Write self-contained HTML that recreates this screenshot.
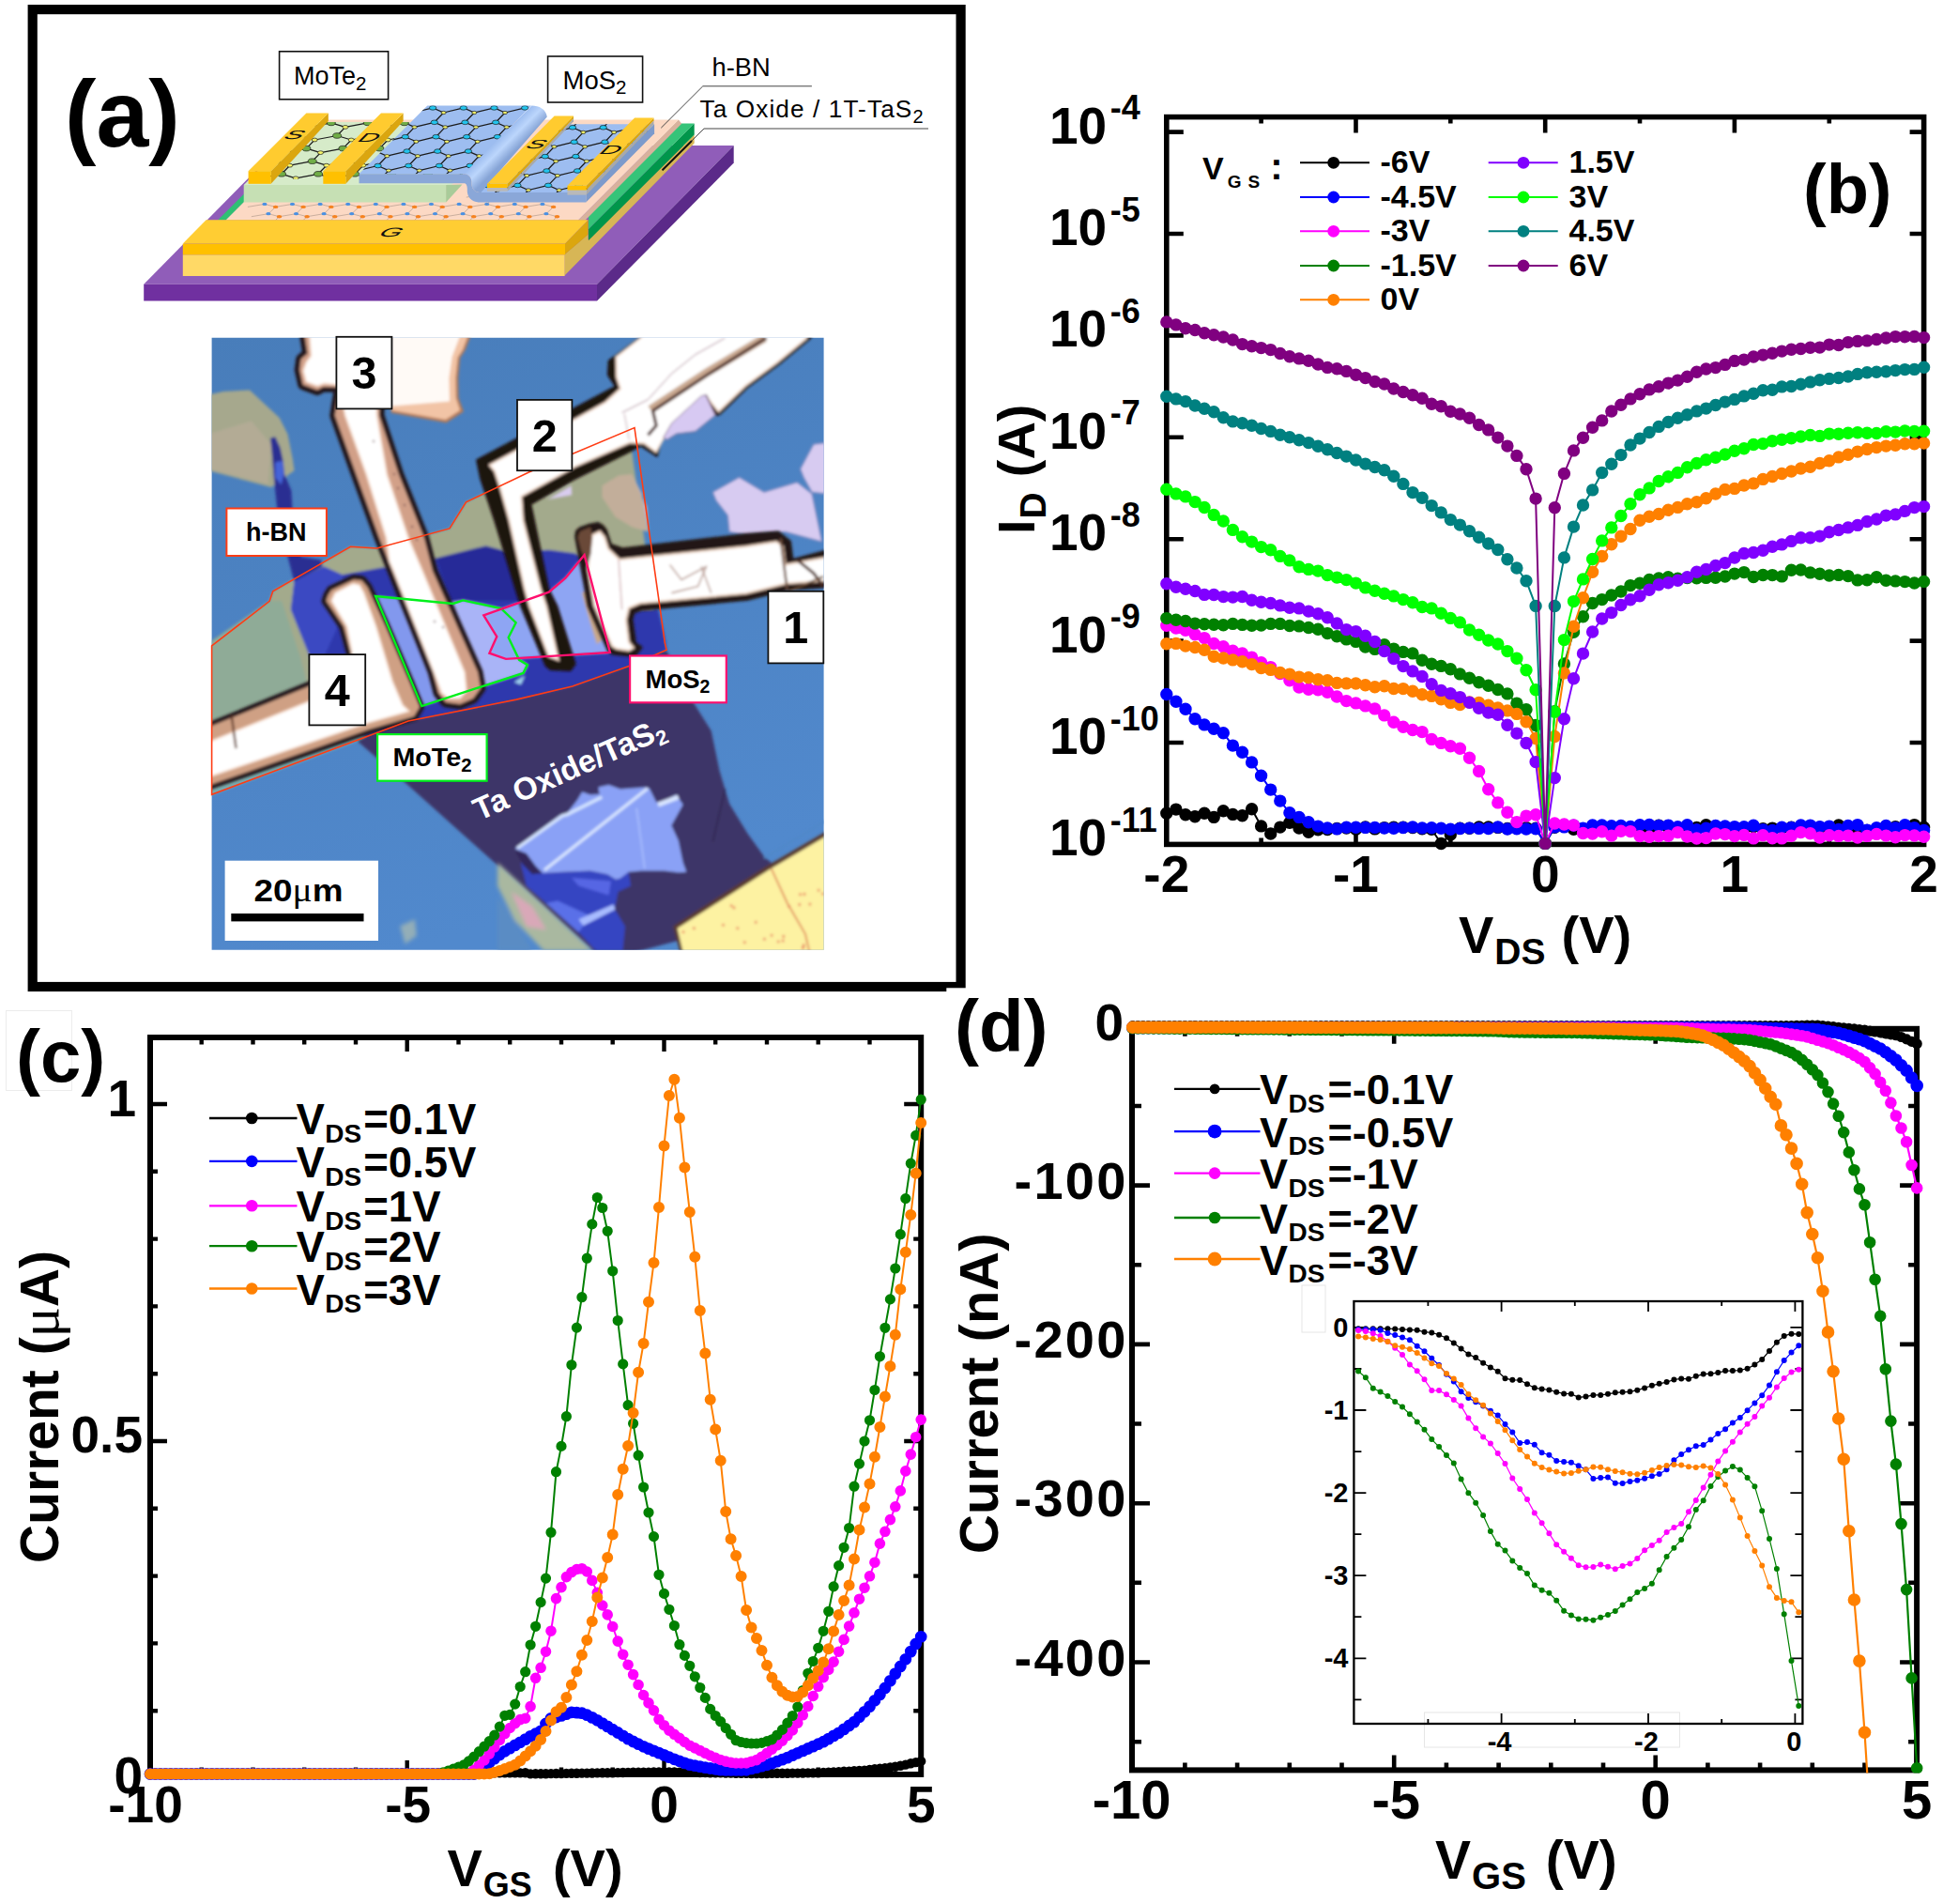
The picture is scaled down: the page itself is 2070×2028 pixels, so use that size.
<!DOCTYPE html>
<html lang="en"><head><meta charset="utf-8"><title>Figure</title>
<style>
html,body{margin:0;padding:0;background:#fff;}
svg{display:block;font-family:"Liberation Sans", Arial, Helvetica, sans-serif;}
</style></head><body>
<svg width="2070" height="2028" viewBox="0 0 2070 2028">
<rect width="2070" height="2028" fill="#fff"/>
<g id="panel-a">
<rect x="34.7" y="10.1" width="988.9" height="1040.9" fill="none" stroke="#000" stroke-width="10.2"/><rect x="1008.3" y="1052.3" width="22" height="5" fill="#fff"/>
<text x="69" y="156" font-size="100.5" font-weight="bold" text-anchor="start" fill="#000" >(a)</text>
<g id="schematic">
<defs><linearGradient id="bendg" gradientUnits="userSpaceOnUse" x1="531" y1="148" x2="546" y2="163"><stop offset="0" stop-color="#9dbdf0"/><stop offset="0.45" stop-color="#bcd6fc"/><stop offset="1" stop-color="#86a4d6"/></linearGradient></defs>
<polygon points="153.2,302.7 298.9,155 781.7,155 636,302.7" fill="#905db9"/>
<polygon points="153.2,302.7 636,302.7 636,320.6 153.2,320.6" fill="#7030a0"/>
<polygon points="636,302.7 781.7,155 781.7,173.6 636,320.6" fill="#5b2a89"/>
<polygon points="601.5,271 626.6,249.6 626.6,255.6 739.7,143.4 739.7,152.6 601.5,293.6" fill="#d7b656"/>
<polygon points="232,234.4 241,234.4 262,213.5 262,204.5" fill="#2fbf74"/>
<polygon points="725.5,131.6 739.7,131.6 627,244.3 627,230" fill="#35c479"/>
<polygon points="739.7,131.6 739.7,143.4 627,256.1 627,244.3" fill="#00964b"/>
<polygon points="722.9,127.5 726.2,131.8 623.6,234.4 616,234.4" fill="#d8b29d"/>
<polygon points="240.5,234.4 347.4,127.5 722.9,127.5 616,234.4" fill="#fcd9c4"/>
<clipPath id="pinkclip"><polygon points="240.5,234.4 347.4,127.5 722.9,127.5 616,234.4"/></clipPath>
<g clip-path="url(#pinkclip)">
<path d="M281.9 217.4L263.9 220.4M281.9 217.4L293.6 220.4M293.6 220.4L285.9 227.7M311.5 217.4L293.6 220.4M311.5 217.4L323.1 220.4M323.1 220.4L315.5 227.7M341.1 217.4L323.1 220.4M341.1 217.4L352.8 220.4M352.8 220.4L345.1 227.7M370.7 217.4L352.8 220.4M370.7 217.4L382.4 220.4M382.4 220.4L374.7 227.7M400.3 217.4L382.4 220.4M400.3 217.4L412 220.4M412 220.4L404.3 227.7M429.9 217.4L411.9 220.4M429.9 217.4L441.6 220.4M441.6 220.4L433.9 227.7M459.5 217.4L441.6 220.4M459.5 217.4L471.2 220.4M471.2 220.4L463.5 227.7M489.1 217.4L471.1 220.4M489.1 217.4L500.8 220.4M500.8 220.4L493.1 227.7M518.7 217.4L500.8 220.4M518.7 217.4L530.4 220.4M530.4 220.4L522.7 227.7M548.3 217.4L530.4 220.4M548.3 217.4L560 220.4M560 220.4L552.3 227.7M577.9 217.4L559.9 220.4M577.9 217.4L589.6 220.4M589.6 220.4L581.9 227.7M285.9 227.7L267.9 230.7M285.9 227.7L297.5 230.7M297.5 230.7L289.9 238M315.5 227.7L297.5 230.7M315.5 227.7L327.1 230.7M327.1 230.7L319.5 238M345.1 227.7L327.1 230.7M345.1 227.7L356.7 230.7M356.7 230.7L349.1 238M374.7 227.7L356.7 230.7M374.7 227.7L386.3 230.7M386.3 230.7L378.7 238M404.3 227.7L386.3 230.7M404.3 227.7L415.9 230.7M415.9 230.7L408.3 238M433.9 227.7L415.9 230.7M433.9 227.7L445.5 230.7M445.5 230.7L437.9 238M463.5 227.7L445.5 230.7M463.5 227.7L475.1 230.7M475.1 230.7L467.5 238M493.1 227.7L475.1 230.7M493.1 227.7L504.7 230.7M504.7 230.7L497.1 238M522.7 227.7L504.7 230.7M522.7 227.7L534.3 230.7M534.3 230.7L526.7 238M552.3 227.7L534.3 230.7M552.3 227.7L563.9 230.7M563.9 230.7L556.3 238M581.9 227.7L563.9 230.7M581.9 227.7L593.5 230.7M593.5 230.7L585.9 238" stroke="#a08c7e" stroke-width="0.55" fill="none"/><ellipse cx="293.6" cy="220.4" rx="2.8" ry="1.7" fill="#f5821f"/><ellipse cx="323.1" cy="220.4" rx="2.8" ry="1.7" fill="#f5821f"/><ellipse cx="352.8" cy="220.4" rx="2.8" ry="1.7" fill="#f5821f"/><ellipse cx="382.4" cy="220.4" rx="2.8" ry="1.7" fill="#f5821f"/><ellipse cx="412" cy="220.4" rx="2.8" ry="1.7" fill="#f5821f"/><ellipse cx="441.6" cy="220.4" rx="2.8" ry="1.7" fill="#f5821f"/><ellipse cx="471.2" cy="220.4" rx="2.8" ry="1.7" fill="#f5821f"/><ellipse cx="500.8" cy="220.4" rx="2.8" ry="1.7" fill="#f5821f"/><ellipse cx="530.4" cy="220.4" rx="2.8" ry="1.7" fill="#f5821f"/><ellipse cx="560" cy="220.4" rx="2.8" ry="1.7" fill="#f5821f"/><ellipse cx="589.6" cy="220.4" rx="2.8" ry="1.7" fill="#f5821f"/><ellipse cx="297.5" cy="230.7" rx="2.8" ry="1.7" fill="#f5821f"/><ellipse cx="327.1" cy="230.7" rx="2.8" ry="1.7" fill="#f5821f"/><ellipse cx="356.7" cy="230.7" rx="2.8" ry="1.7" fill="#f5821f"/><ellipse cx="386.3" cy="230.7" rx="2.8" ry="1.7" fill="#f5821f"/><ellipse cx="415.9" cy="230.7" rx="2.8" ry="1.7" fill="#f5821f"/><ellipse cx="445.5" cy="230.7" rx="2.8" ry="1.7" fill="#f5821f"/><ellipse cx="475.1" cy="230.7" rx="2.8" ry="1.7" fill="#f5821f"/><ellipse cx="504.7" cy="230.7" rx="2.8" ry="1.7" fill="#f5821f"/><ellipse cx="534.3" cy="230.7" rx="2.8" ry="1.7" fill="#f5821f"/><ellipse cx="563.9" cy="230.7" rx="2.8" ry="1.7" fill="#f5821f"/><ellipse cx="593.5" cy="230.7" rx="2.8" ry="1.7" fill="#f5821f"/><ellipse cx="281.9" cy="217.4" rx="2.6" ry="1.6" fill="#4a90e2"/><ellipse cx="311.5" cy="217.4" rx="2.6" ry="1.6" fill="#4a90e2"/><ellipse cx="341.1" cy="217.4" rx="2.6" ry="1.6" fill="#4a90e2"/><ellipse cx="370.7" cy="217.4" rx="2.6" ry="1.6" fill="#4a90e2"/><ellipse cx="400.3" cy="217.4" rx="2.6" ry="1.6" fill="#4a90e2"/><ellipse cx="429.9" cy="217.4" rx="2.6" ry="1.6" fill="#4a90e2"/><ellipse cx="459.5" cy="217.4" rx="2.6" ry="1.6" fill="#4a90e2"/><ellipse cx="489.1" cy="217.4" rx="2.6" ry="1.6" fill="#4a90e2"/><ellipse cx="518.7" cy="217.4" rx="2.6" ry="1.6" fill="#4a90e2"/><ellipse cx="548.3" cy="217.4" rx="2.6" ry="1.6" fill="#4a90e2"/><ellipse cx="577.9" cy="217.4" rx="2.6" ry="1.6" fill="#4a90e2"/><ellipse cx="285.9" cy="227.7" rx="2.6" ry="1.6" fill="#4a90e2"/><ellipse cx="315.5" cy="227.7" rx="2.6" ry="1.6" fill="#4a90e2"/><ellipse cx="345.1" cy="227.7" rx="2.6" ry="1.6" fill="#4a90e2"/><ellipse cx="374.7" cy="227.7" rx="2.6" ry="1.6" fill="#4a90e2"/><ellipse cx="404.3" cy="227.7" rx="2.6" ry="1.6" fill="#4a90e2"/><ellipse cx="433.9" cy="227.7" rx="2.6" ry="1.6" fill="#4a90e2"/><ellipse cx="463.5" cy="227.7" rx="2.6" ry="1.6" fill="#4a90e2"/><ellipse cx="493.1" cy="227.7" rx="2.6" ry="1.6" fill="#4a90e2"/><ellipse cx="522.7" cy="227.7" rx="2.6" ry="1.6" fill="#4a90e2"/><ellipse cx="552.3" cy="227.7" rx="2.6" ry="1.6" fill="#4a90e2"/><ellipse cx="581.9" cy="227.7" rx="2.6" ry="1.6" fill="#4a90e2"/>
<path d="M514.7 207.1L496.8 210.1M514.7 207.1L526.4 210.1M526.4 210.1L518.7 217.4" stroke="#a08c7e" stroke-width="0.55" fill="none"/><ellipse cx="526.4" cy="210.1" rx="2.8" ry="1.7" fill="#f5821f"/><ellipse cx="514.7" cy="207.1" rx="2.6" ry="1.6" fill="#4a90e2"/>
</g>
<polygon points="259.7,197 326.6,130.1 548,130.1 481,197" fill="#d6ebc9"/>
<clipPath id="slabclip"><polygon points="266,190.7 326.6,130.1 548,130.1 487.4,190.7"/></clipPath>
<g clip-path="url(#slabclip)">
<path d="M235.8 130.9L211.9 135.4M235.8 130.9L250.9 135.4M250.9 135.4L242.1 144.5M274.8 130.9L250.9 135.4M274.8 130.9L289.9 135.4M289.9 135.4L281.1 144.5M313.8 130.9L289.9 135.4M313.8 130.9L328.9 135.4M328.9 135.4L320.1 144.5M352.8 130.9L328.9 135.4M352.8 130.9L367.9 135.4M367.9 135.4L359.1 144.5M391.8 130.9L367.9 135.4M391.8 130.9L406.9 135.4M406.9 135.4L398.1 144.5M430.8 130.9L406.9 135.4M430.8 130.9L445.9 135.4M445.9 135.4L437.1 144.5M469.8 130.9L445.9 135.4M469.8 130.9L484.9 135.4M484.9 135.4L476.1 144.5M508.8 130.9L484.9 135.4M508.8 130.9L523.9 135.4M523.9 135.4L515.1 144.5M547.8 130.9L523.9 135.4M547.8 130.9L562.9 135.4M562.9 135.4L554.1 144.5M242.1 144.5L218.2 149M242.1 144.5L257.2 149M257.2 149L248.4 158.1M281.1 144.5L257.2 149M281.1 144.5L296.2 149M296.2 149L287.4 158.1M320.1 144.5L296.2 149M320.1 144.5L335.2 149M335.2 149L326.4 158.1M359.1 144.5L335.2 149M359.1 144.5L374.2 149M374.2 149L365.4 158.1M398.1 144.5L374.2 149M398.1 144.5L413.2 149M413.2 149L404.4 158.1M437.1 144.5L413.2 149M437.1 144.5L452.2 149M452.2 149L443.4 158.1M476.1 144.5L452.2 149M476.1 144.5L491.2 149M491.2 149L482.4 158.1M515.1 144.5L491.2 149M515.1 144.5L530.2 149M530.2 149L521.4 158.1M554.1 144.5L530.2 149M554.1 144.5L569.2 149M569.2 149L560.4 158.1M209.4 158.1L185.5 162.6M209.4 158.1L224.5 162.6M224.5 162.6L215.7 171.7M248.4 158.1L224.5 162.6M248.4 158.1L263.5 162.6M263.5 162.6L254.7 171.7M287.4 158.1L263.5 162.6M287.4 158.1L302.5 162.6M302.5 162.6L293.7 171.7M326.4 158.1L302.5 162.6M326.4 158.1L341.5 162.6M341.5 162.6L332.7 171.7M365.4 158.1L341.5 162.6M365.4 158.1L380.5 162.6M380.5 162.6L371.7 171.7M404.4 158.1L380.5 162.6M404.4 158.1L419.5 162.6M419.5 162.6L410.7 171.7M443.4 158.1L419.5 162.6M443.4 158.1L458.5 162.6M458.5 162.6L449.7 171.7M482.4 158.1L458.5 162.6M482.4 158.1L497.5 162.6M497.5 162.6L488.7 171.7M521.4 158.1L497.5 162.6M521.4 158.1L536.5 162.6M536.5 162.6L527.7 171.7M215.7 171.7L191.8 176.2M215.7 171.7L230.8 176.2M230.8 176.2L222 185.3M254.7 171.7L230.8 176.2M254.7 171.7L269.8 176.2M269.8 176.2L261 185.3M293.7 171.7L269.8 176.2M293.7 171.7L308.8 176.2M308.8 176.2L300 185.3M332.7 171.7L308.8 176.2M332.7 171.7L347.8 176.2M347.8 176.2L339 185.3M371.7 171.7L347.8 176.2M371.7 171.7L386.8 176.2M386.8 176.2L378 185.3M410.7 171.7L386.8 176.2M410.7 171.7L425.8 176.2M425.8 176.2L417 185.3M449.7 171.7L425.8 176.2M449.7 171.7L464.8 176.2M464.8 176.2L456 185.3M488.7 171.7L464.8 176.2M488.7 171.7L503.8 176.2M503.8 176.2L495 185.3M527.7 171.7L503.8 176.2M527.7 171.7L542.8 176.2M542.8 176.2L534 185.3M183 185.3L159.1 189.8M183 185.3L198.1 189.8M198.1 189.8L189.3 198.9M222 185.3L198.1 189.8M222 185.3L237.1 189.8M237.1 189.8L228.3 198.9M261 185.3L237.1 189.8M261 185.3L276.1 189.8M276.1 189.8L267.3 198.9M300 185.3L276.1 189.8M300 185.3L315.1 189.8M315.1 189.8L306.3 198.9M339 185.3L315.1 189.8M339 185.3L354.1 189.8M354.1 189.8L345.3 198.9M378 185.3L354.1 189.8M378 185.3L393.1 189.8M393.1 189.8L384.3 198.9M417 185.3L393.1 189.8M417 185.3L432.1 189.8M432.1 189.8L423.3 198.9M456 185.3L432.1 189.8M456 185.3L471.1 189.8M471.1 189.8L462.3 198.9M495 185.3L471.1 189.8M495 185.3L510.1 189.8M510.1 189.8L501.3 198.9" stroke="#1c1c1c" stroke-width="1.25" fill="none"/><ellipse cx="250.9" cy="135.4" rx="3.0" ry="1.9" fill="#f4f46a" stroke="#1c1c1c" stroke-width="0.7"/><ellipse cx="289.9" cy="135.4" rx="3.0" ry="1.9" fill="#f4f46a" stroke="#1c1c1c" stroke-width="0.7"/><ellipse cx="328.9" cy="135.4" rx="3.0" ry="1.9" fill="#f4f46a" stroke="#1c1c1c" stroke-width="0.7"/><ellipse cx="367.9" cy="135.4" rx="3.0" ry="1.9" fill="#f4f46a" stroke="#1c1c1c" stroke-width="0.7"/><ellipse cx="406.9" cy="135.4" rx="3.0" ry="1.9" fill="#f4f46a" stroke="#1c1c1c" stroke-width="0.7"/><ellipse cx="445.9" cy="135.4" rx="3.0" ry="1.9" fill="#f4f46a" stroke="#1c1c1c" stroke-width="0.7"/><ellipse cx="484.9" cy="135.4" rx="3.0" ry="1.9" fill="#f4f46a" stroke="#1c1c1c" stroke-width="0.7"/><ellipse cx="523.9" cy="135.4" rx="3.0" ry="1.9" fill="#f4f46a" stroke="#1c1c1c" stroke-width="0.7"/><ellipse cx="562.9" cy="135.4" rx="3.0" ry="1.9" fill="#f4f46a" stroke="#1c1c1c" stroke-width="0.7"/><ellipse cx="257.2" cy="149" rx="3.0" ry="1.9" fill="#f4f46a" stroke="#1c1c1c" stroke-width="0.7"/><ellipse cx="296.2" cy="149" rx="3.0" ry="1.9" fill="#f4f46a" stroke="#1c1c1c" stroke-width="0.7"/><ellipse cx="335.2" cy="149" rx="3.0" ry="1.9" fill="#f4f46a" stroke="#1c1c1c" stroke-width="0.7"/><ellipse cx="374.2" cy="149" rx="3.0" ry="1.9" fill="#f4f46a" stroke="#1c1c1c" stroke-width="0.7"/><ellipse cx="413.2" cy="149" rx="3.0" ry="1.9" fill="#f4f46a" stroke="#1c1c1c" stroke-width="0.7"/><ellipse cx="452.2" cy="149" rx="3.0" ry="1.9" fill="#f4f46a" stroke="#1c1c1c" stroke-width="0.7"/><ellipse cx="491.2" cy="149" rx="3.0" ry="1.9" fill="#f4f46a" stroke="#1c1c1c" stroke-width="0.7"/><ellipse cx="530.2" cy="149" rx="3.0" ry="1.9" fill="#f4f46a" stroke="#1c1c1c" stroke-width="0.7"/><ellipse cx="569.2" cy="149" rx="3.0" ry="1.9" fill="#f4f46a" stroke="#1c1c1c" stroke-width="0.7"/><ellipse cx="224.5" cy="162.6" rx="3.0" ry="1.9" fill="#f4f46a" stroke="#1c1c1c" stroke-width="0.7"/><ellipse cx="263.5" cy="162.6" rx="3.0" ry="1.9" fill="#f4f46a" stroke="#1c1c1c" stroke-width="0.7"/><ellipse cx="302.5" cy="162.6" rx="3.0" ry="1.9" fill="#f4f46a" stroke="#1c1c1c" stroke-width="0.7"/><ellipse cx="341.5" cy="162.6" rx="3.0" ry="1.9" fill="#f4f46a" stroke="#1c1c1c" stroke-width="0.7"/><ellipse cx="380.5" cy="162.6" rx="3.0" ry="1.9" fill="#f4f46a" stroke="#1c1c1c" stroke-width="0.7"/><ellipse cx="419.5" cy="162.6" rx="3.0" ry="1.9" fill="#f4f46a" stroke="#1c1c1c" stroke-width="0.7"/><ellipse cx="458.5" cy="162.6" rx="3.0" ry="1.9" fill="#f4f46a" stroke="#1c1c1c" stroke-width="0.7"/><ellipse cx="497.5" cy="162.6" rx="3.0" ry="1.9" fill="#f4f46a" stroke="#1c1c1c" stroke-width="0.7"/><ellipse cx="536.5" cy="162.6" rx="3.0" ry="1.9" fill="#f4f46a" stroke="#1c1c1c" stroke-width="0.7"/><ellipse cx="230.8" cy="176.2" rx="3.0" ry="1.9" fill="#f4f46a" stroke="#1c1c1c" stroke-width="0.7"/><ellipse cx="269.8" cy="176.2" rx="3.0" ry="1.9" fill="#f4f46a" stroke="#1c1c1c" stroke-width="0.7"/><ellipse cx="308.8" cy="176.2" rx="3.0" ry="1.9" fill="#f4f46a" stroke="#1c1c1c" stroke-width="0.7"/><ellipse cx="347.8" cy="176.2" rx="3.0" ry="1.9" fill="#f4f46a" stroke="#1c1c1c" stroke-width="0.7"/><ellipse cx="386.8" cy="176.2" rx="3.0" ry="1.9" fill="#f4f46a" stroke="#1c1c1c" stroke-width="0.7"/><ellipse cx="425.8" cy="176.2" rx="3.0" ry="1.9" fill="#f4f46a" stroke="#1c1c1c" stroke-width="0.7"/><ellipse cx="464.8" cy="176.2" rx="3.0" ry="1.9" fill="#f4f46a" stroke="#1c1c1c" stroke-width="0.7"/><ellipse cx="503.8" cy="176.2" rx="3.0" ry="1.9" fill="#f4f46a" stroke="#1c1c1c" stroke-width="0.7"/><ellipse cx="542.8" cy="176.2" rx="3.0" ry="1.9" fill="#f4f46a" stroke="#1c1c1c" stroke-width="0.7"/><ellipse cx="198.1" cy="189.8" rx="3.0" ry="1.9" fill="#f4f46a" stroke="#1c1c1c" stroke-width="0.7"/><ellipse cx="237.1" cy="189.8" rx="3.0" ry="1.9" fill="#f4f46a" stroke="#1c1c1c" stroke-width="0.7"/><ellipse cx="276.1" cy="189.8" rx="3.0" ry="1.9" fill="#f4f46a" stroke="#1c1c1c" stroke-width="0.7"/><ellipse cx="315.1" cy="189.8" rx="3.0" ry="1.9" fill="#f4f46a" stroke="#1c1c1c" stroke-width="0.7"/><ellipse cx="354.1" cy="189.8" rx="3.0" ry="1.9" fill="#f4f46a" stroke="#1c1c1c" stroke-width="0.7"/><ellipse cx="393.1" cy="189.8" rx="3.0" ry="1.9" fill="#f4f46a" stroke="#1c1c1c" stroke-width="0.7"/><ellipse cx="432.1" cy="189.8" rx="3.0" ry="1.9" fill="#f4f46a" stroke="#1c1c1c" stroke-width="0.7"/><ellipse cx="471.1" cy="189.8" rx="3.0" ry="1.9" fill="#f4f46a" stroke="#1c1c1c" stroke-width="0.7"/><ellipse cx="510.1" cy="189.8" rx="3.0" ry="1.9" fill="#f4f46a" stroke="#1c1c1c" stroke-width="0.7"/><ellipse cx="235.8" cy="130.9" rx="4.5" ry="2.8" fill="#70ad47" stroke="#1c1c1c" stroke-width="0.7"/><ellipse cx="274.8" cy="130.9" rx="4.5" ry="2.8" fill="#70ad47" stroke="#1c1c1c" stroke-width="0.7"/><ellipse cx="313.8" cy="130.9" rx="4.5" ry="2.8" fill="#70ad47" stroke="#1c1c1c" stroke-width="0.7"/><ellipse cx="352.8" cy="130.9" rx="4.5" ry="2.8" fill="#70ad47" stroke="#1c1c1c" stroke-width="0.7"/><ellipse cx="391.8" cy="130.9" rx="4.5" ry="2.8" fill="#70ad47" stroke="#1c1c1c" stroke-width="0.7"/><ellipse cx="430.8" cy="130.9" rx="4.5" ry="2.8" fill="#70ad47" stroke="#1c1c1c" stroke-width="0.7"/><ellipse cx="469.8" cy="130.9" rx="4.5" ry="2.8" fill="#70ad47" stroke="#1c1c1c" stroke-width="0.7"/><ellipse cx="508.8" cy="130.9" rx="4.5" ry="2.8" fill="#70ad47" stroke="#1c1c1c" stroke-width="0.7"/><ellipse cx="547.8" cy="130.9" rx="4.5" ry="2.8" fill="#70ad47" stroke="#1c1c1c" stroke-width="0.7"/><ellipse cx="242.1" cy="144.5" rx="4.5" ry="2.8" fill="#70ad47" stroke="#1c1c1c" stroke-width="0.7"/><ellipse cx="281.1" cy="144.5" rx="4.5" ry="2.8" fill="#70ad47" stroke="#1c1c1c" stroke-width="0.7"/><ellipse cx="320.1" cy="144.5" rx="4.5" ry="2.8" fill="#70ad47" stroke="#1c1c1c" stroke-width="0.7"/><ellipse cx="359.1" cy="144.5" rx="4.5" ry="2.8" fill="#70ad47" stroke="#1c1c1c" stroke-width="0.7"/><ellipse cx="398.1" cy="144.5" rx="4.5" ry="2.8" fill="#70ad47" stroke="#1c1c1c" stroke-width="0.7"/><ellipse cx="437.1" cy="144.5" rx="4.5" ry="2.8" fill="#70ad47" stroke="#1c1c1c" stroke-width="0.7"/><ellipse cx="476.1" cy="144.5" rx="4.5" ry="2.8" fill="#70ad47" stroke="#1c1c1c" stroke-width="0.7"/><ellipse cx="515.1" cy="144.5" rx="4.5" ry="2.8" fill="#70ad47" stroke="#1c1c1c" stroke-width="0.7"/><ellipse cx="554.1" cy="144.5" rx="4.5" ry="2.8" fill="#70ad47" stroke="#1c1c1c" stroke-width="0.7"/><ellipse cx="209.4" cy="158.1" rx="4.5" ry="2.8" fill="#70ad47" stroke="#1c1c1c" stroke-width="0.7"/><ellipse cx="248.4" cy="158.1" rx="4.5" ry="2.8" fill="#70ad47" stroke="#1c1c1c" stroke-width="0.7"/><ellipse cx="287.4" cy="158.1" rx="4.5" ry="2.8" fill="#70ad47" stroke="#1c1c1c" stroke-width="0.7"/><ellipse cx="326.4" cy="158.1" rx="4.5" ry="2.8" fill="#70ad47" stroke="#1c1c1c" stroke-width="0.7"/><ellipse cx="365.4" cy="158.1" rx="4.5" ry="2.8" fill="#70ad47" stroke="#1c1c1c" stroke-width="0.7"/><ellipse cx="404.4" cy="158.1" rx="4.5" ry="2.8" fill="#70ad47" stroke="#1c1c1c" stroke-width="0.7"/><ellipse cx="443.4" cy="158.1" rx="4.5" ry="2.8" fill="#70ad47" stroke="#1c1c1c" stroke-width="0.7"/><ellipse cx="482.4" cy="158.1" rx="4.5" ry="2.8" fill="#70ad47" stroke="#1c1c1c" stroke-width="0.7"/><ellipse cx="521.4" cy="158.1" rx="4.5" ry="2.8" fill="#70ad47" stroke="#1c1c1c" stroke-width="0.7"/><ellipse cx="215.7" cy="171.7" rx="4.5" ry="2.8" fill="#70ad47" stroke="#1c1c1c" stroke-width="0.7"/><ellipse cx="254.7" cy="171.7" rx="4.5" ry="2.8" fill="#70ad47" stroke="#1c1c1c" stroke-width="0.7"/><ellipse cx="293.7" cy="171.7" rx="4.5" ry="2.8" fill="#70ad47" stroke="#1c1c1c" stroke-width="0.7"/><ellipse cx="332.7" cy="171.7" rx="4.5" ry="2.8" fill="#70ad47" stroke="#1c1c1c" stroke-width="0.7"/><ellipse cx="371.7" cy="171.7" rx="4.5" ry="2.8" fill="#70ad47" stroke="#1c1c1c" stroke-width="0.7"/><ellipse cx="410.7" cy="171.7" rx="4.5" ry="2.8" fill="#70ad47" stroke="#1c1c1c" stroke-width="0.7"/><ellipse cx="449.7" cy="171.7" rx="4.5" ry="2.8" fill="#70ad47" stroke="#1c1c1c" stroke-width="0.7"/><ellipse cx="488.7" cy="171.7" rx="4.5" ry="2.8" fill="#70ad47" stroke="#1c1c1c" stroke-width="0.7"/><ellipse cx="527.7" cy="171.7" rx="4.5" ry="2.8" fill="#70ad47" stroke="#1c1c1c" stroke-width="0.7"/><ellipse cx="183" cy="185.3" rx="4.5" ry="2.8" fill="#70ad47" stroke="#1c1c1c" stroke-width="0.7"/><ellipse cx="222" cy="185.3" rx="4.5" ry="2.8" fill="#70ad47" stroke="#1c1c1c" stroke-width="0.7"/><ellipse cx="261" cy="185.3" rx="4.5" ry="2.8" fill="#70ad47" stroke="#1c1c1c" stroke-width="0.7"/><ellipse cx="300" cy="185.3" rx="4.5" ry="2.8" fill="#70ad47" stroke="#1c1c1c" stroke-width="0.7"/><ellipse cx="339" cy="185.3" rx="4.5" ry="2.8" fill="#70ad47" stroke="#1c1c1c" stroke-width="0.7"/><ellipse cx="378" cy="185.3" rx="4.5" ry="2.8" fill="#70ad47" stroke="#1c1c1c" stroke-width="0.7"/><ellipse cx="417" cy="185.3" rx="4.5" ry="2.8" fill="#70ad47" stroke="#1c1c1c" stroke-width="0.7"/><ellipse cx="456" cy="185.3" rx="4.5" ry="2.8" fill="#70ad47" stroke="#1c1c1c" stroke-width="0.7"/><ellipse cx="495" cy="185.3" rx="4.5" ry="2.8" fill="#70ad47" stroke="#1c1c1c" stroke-width="0.7"/>
</g>
<polygon points="259.7,197 475.2,197 475.2,215.4 259.7,215.4" fill="#c6e0b4"/>
<polygon points="475.2,197 492.5,196.5 475.2,215.4" fill="#a9cb99"/>
<polygon points="288.7,182.2 349.8,120.4 349.8,128.9 288.7,195.8" fill="#dba60f"/><polygon points="264.6,182.2 288.7,182.2 288.7,195.8 264.6,195.8" fill="#ffc000"/><polygon points="264.6,182.2 326.4,120.4 349.8,120.4 288.7,182.2" fill="#ffcb2f"/>
<polygon points="368.4,182.2 429.6,120.4 429.6,128.9 368.4,195.8" fill="#dba60f"/><polygon points="344.3,182.2 368.4,182.2 368.4,195.8 344.3,195.8" fill="#ffc000"/><polygon points="344.3,182.2 406,120.4 429.6,120.4 368.4,182.2" fill="#ffcb2f"/>
<polygon points="510.9,205 583.7,132.2 697.1,132.2 624.3,205" fill="#9dbdf0"/>
<polygon points="624.3,205 697.1,132.2 697.1,142.3 624.3,215.6" fill="#7d9acb"/>
<clipPath id="lowclip"><polygon points="510.9,205 583.7,132.2 697.1,132.2 624.3,205"/></clipPath>
<g clip-path="url(#lowclip)">
<path d="M608.2 120.4L587 125.5M608.2 120.4L619.7 125.5M619.7 125.5L610 135.8M640.9 120.4L619.7 125.5M640.9 120.4L652.4 125.5M652.4 125.5L642.7 135.8M673.6 120.4L652.4 125.5M673.6 120.4L685.1 125.5M685.1 125.5L675.4 135.8M706.3 120.4L685.1 125.5M706.3 120.4L717.8 125.5M717.8 125.5L708.1 135.8M739 120.4L717.8 125.5M739 120.4L750.5 125.5M750.5 125.5L740.8 135.8M771.7 120.4L750.5 125.5M771.7 120.4L783.2 125.5M783.2 125.5L773.5 135.8M804.4 120.4L783.2 125.5M804.4 120.4L815.9 125.5M815.9 125.5L806.2 135.8M837.1 120.4L815.9 125.5M837.1 120.4L848.6 125.5M848.6 125.5L838.9 135.8M577.2 135.8L556 140.9M577.2 135.8L588.7 140.9M588.7 140.9L579 151.2M610 135.8L588.7 140.9M610 135.8L621.4 140.9M621.4 140.9L611.7 151.2M642.7 135.8L621.4 140.9M642.7 135.8L654.1 140.9M654.1 140.9L644.4 151.2M675.4 135.8L654.1 140.9M675.4 135.8L686.8 140.9M686.8 140.9L677.1 151.2M708.1 135.8L686.8 140.9M708.1 135.8L719.5 140.9M719.5 140.9L709.8 151.2M740.8 135.8L719.5 140.9M740.8 135.8L752.2 140.9M752.2 140.9L742.5 151.2M773.5 135.8L752.2 140.9M773.5 135.8L784.9 140.9M784.9 140.9L775.2 151.2M806.2 135.8L784.9 140.9M806.2 135.8L817.6 140.9M817.6 140.9L807.9 151.2M579 151.2L557.7 156.3M579 151.2L590.4 156.3M590.4 156.3L580.7 166.6M611.7 151.2L590.4 156.3M611.7 151.2L623.1 156.3M623.1 156.3L613.4 166.6M644.4 151.2L623.1 156.3M644.4 151.2L655.8 156.3M655.8 156.3L646.1 166.6M677.1 151.2L655.8 156.3M677.1 151.2L688.5 156.3M688.5 156.3L678.8 166.6M709.8 151.2L688.5 156.3M709.8 151.2L721.2 156.3M721.2 156.3L711.5 166.6M742.5 151.2L721.2 156.3M742.5 151.2L753.9 156.3M753.9 156.3L744.2 166.6M775.2 151.2L753.9 156.3M775.2 151.2L786.6 156.3M786.6 156.3L776.9 166.6M807.9 151.2L786.6 156.3M807.9 151.2L819.3 156.3M819.3 156.3L809.6 166.6M548 166.6L526.8 171.7M548 166.6L559.5 171.7M559.5 171.7L549.7 182M580.7 166.6L559.5 171.7M580.7 166.6L592.2 171.7M592.2 171.7L582.4 182M613.4 166.6L592.2 171.7M613.4 166.6L624.9 171.7M624.9 171.7L615.1 182M646.1 166.6L624.9 171.7M646.1 166.6L657.6 171.7M657.6 171.7L647.8 182M678.8 166.6L657.6 171.7M678.8 166.6L690.3 171.7M690.3 171.7L680.5 182M711.5 166.6L690.3 171.7M711.5 166.6L723 171.7M723 171.7L713.2 182M744.2 166.6L723 171.7M744.2 166.6L755.7 171.7M755.7 171.7L745.9 182M776.9 166.6L755.7 171.7M776.9 166.6L788.4 171.7M788.4 171.7L778.6 182M549.7 182L528.5 187.1M549.7 182L561.2 187.1M561.2 187.1L551.4 197.4M582.4 182L561.2 187.1M582.4 182L593.9 187.1M593.9 187.1L584.1 197.4M615.1 182L593.9 187.1M615.1 182L626.6 187.1M626.6 187.1L616.8 197.4M647.8 182L626.6 187.1M647.8 182L659.3 187.1M659.3 187.1L649.5 197.4M680.5 182L659.3 187.1M680.5 182L692 187.1M692 187.1L682.2 197.4M713.2 182L692 187.1M713.2 182L724.7 187.1M724.7 187.1L714.9 197.4M745.9 182L724.7 187.1M745.9 182L757.4 187.1M757.4 187.1L747.6 197.4M778.6 182L757.4 187.1M778.6 182L790.1 187.1M790.1 187.1L780.3 197.4M518.7 197.4L497.5 202.5M518.7 197.4L530.2 202.5M530.2 202.5L520.5 212.8M551.4 197.4L530.2 202.5M551.4 197.4L562.9 202.5M562.9 202.5L553.2 212.8M584.1 197.4L562.9 202.5M584.1 197.4L595.6 202.5M595.6 202.5L585.9 212.8M616.8 197.4L595.6 202.5M616.8 197.4L628.3 202.5M628.3 202.5L618.6 212.8M649.5 197.4L628.3 202.5M649.5 197.4L661 202.5M661 202.5L651.3 212.8M682.2 197.4L661 202.5M682.2 197.4L693.7 202.5M693.7 202.5L684 212.8M714.9 197.4L693.7 202.5M714.9 197.4L726.4 202.5M726.4 202.5L716.7 212.8M747.6 197.4L726.4 202.5M747.6 197.4L759.1 202.5M759.1 202.5L749.4 212.8M520.5 212.8L499.2 217.9M520.5 212.8L531.9 217.9M531.9 217.9L522.2 228.2M553.2 212.8L531.9 217.9M553.2 212.8L564.6 217.9M564.6 217.9L554.9 228.2M585.9 212.8L564.6 217.9M585.9 212.8L597.3 217.9M597.3 217.9L587.6 228.2M618.6 212.8L597.3 217.9M618.6 212.8L630 217.9M630 217.9L620.3 228.2M651.3 212.8L630 217.9M651.3 212.8L662.7 217.9M662.7 217.9L653 228.2M684 212.8L662.7 217.9M684 212.8L695.4 217.9M695.4 217.9L685.7 228.2M716.7 212.8L695.4 217.9M716.7 212.8L728.1 217.9M728.1 217.9L718.4 228.2M749.4 212.8L728.1 217.9M749.4 212.8L760.8 217.9M760.8 217.9L751.1 228.2" stroke="#1c1c1c" stroke-width="1.25" fill="none"/><ellipse cx="619.7" cy="125.5" rx="2.6" ry="1.6" fill="#f4f46a" stroke="#1c1c1c" stroke-width="0.7"/><ellipse cx="652.4" cy="125.5" rx="2.6" ry="1.6" fill="#f4f46a" stroke="#1c1c1c" stroke-width="0.7"/><ellipse cx="685.1" cy="125.5" rx="2.6" ry="1.6" fill="#f4f46a" stroke="#1c1c1c" stroke-width="0.7"/><ellipse cx="717.8" cy="125.5" rx="2.6" ry="1.6" fill="#f4f46a" stroke="#1c1c1c" stroke-width="0.7"/><ellipse cx="750.5" cy="125.5" rx="2.6" ry="1.6" fill="#f4f46a" stroke="#1c1c1c" stroke-width="0.7"/><ellipse cx="783.2" cy="125.5" rx="2.6" ry="1.6" fill="#f4f46a" stroke="#1c1c1c" stroke-width="0.7"/><ellipse cx="815.9" cy="125.5" rx="2.6" ry="1.6" fill="#f4f46a" stroke="#1c1c1c" stroke-width="0.7"/><ellipse cx="848.6" cy="125.5" rx="2.6" ry="1.6" fill="#f4f46a" stroke="#1c1c1c" stroke-width="0.7"/><ellipse cx="588.7" cy="140.9" rx="2.6" ry="1.6" fill="#f4f46a" stroke="#1c1c1c" stroke-width="0.7"/><ellipse cx="621.4" cy="140.9" rx="2.6" ry="1.6" fill="#f4f46a" stroke="#1c1c1c" stroke-width="0.7"/><ellipse cx="654.1" cy="140.9" rx="2.6" ry="1.6" fill="#f4f46a" stroke="#1c1c1c" stroke-width="0.7"/><ellipse cx="686.8" cy="140.9" rx="2.6" ry="1.6" fill="#f4f46a" stroke="#1c1c1c" stroke-width="0.7"/><ellipse cx="719.5" cy="140.9" rx="2.6" ry="1.6" fill="#f4f46a" stroke="#1c1c1c" stroke-width="0.7"/><ellipse cx="752.2" cy="140.9" rx="2.6" ry="1.6" fill="#f4f46a" stroke="#1c1c1c" stroke-width="0.7"/><ellipse cx="784.9" cy="140.9" rx="2.6" ry="1.6" fill="#f4f46a" stroke="#1c1c1c" stroke-width="0.7"/><ellipse cx="817.6" cy="140.9" rx="2.6" ry="1.6" fill="#f4f46a" stroke="#1c1c1c" stroke-width="0.7"/><ellipse cx="590.4" cy="156.3" rx="2.6" ry="1.6" fill="#f4f46a" stroke="#1c1c1c" stroke-width="0.7"/><ellipse cx="623.1" cy="156.3" rx="2.6" ry="1.6" fill="#f4f46a" stroke="#1c1c1c" stroke-width="0.7"/><ellipse cx="655.8" cy="156.3" rx="2.6" ry="1.6" fill="#f4f46a" stroke="#1c1c1c" stroke-width="0.7"/><ellipse cx="688.5" cy="156.3" rx="2.6" ry="1.6" fill="#f4f46a" stroke="#1c1c1c" stroke-width="0.7"/><ellipse cx="721.2" cy="156.3" rx="2.6" ry="1.6" fill="#f4f46a" stroke="#1c1c1c" stroke-width="0.7"/><ellipse cx="753.9" cy="156.3" rx="2.6" ry="1.6" fill="#f4f46a" stroke="#1c1c1c" stroke-width="0.7"/><ellipse cx="786.6" cy="156.3" rx="2.6" ry="1.6" fill="#f4f46a" stroke="#1c1c1c" stroke-width="0.7"/><ellipse cx="819.3" cy="156.3" rx="2.6" ry="1.6" fill="#f4f46a" stroke="#1c1c1c" stroke-width="0.7"/><ellipse cx="559.5" cy="171.7" rx="2.6" ry="1.6" fill="#f4f46a" stroke="#1c1c1c" stroke-width="0.7"/><ellipse cx="592.2" cy="171.7" rx="2.6" ry="1.6" fill="#f4f46a" stroke="#1c1c1c" stroke-width="0.7"/><ellipse cx="624.9" cy="171.7" rx="2.6" ry="1.6" fill="#f4f46a" stroke="#1c1c1c" stroke-width="0.7"/><ellipse cx="657.6" cy="171.7" rx="2.6" ry="1.6" fill="#f4f46a" stroke="#1c1c1c" stroke-width="0.7"/><ellipse cx="690.3" cy="171.7" rx="2.6" ry="1.6" fill="#f4f46a" stroke="#1c1c1c" stroke-width="0.7"/><ellipse cx="723" cy="171.7" rx="2.6" ry="1.6" fill="#f4f46a" stroke="#1c1c1c" stroke-width="0.7"/><ellipse cx="755.7" cy="171.7" rx="2.6" ry="1.6" fill="#f4f46a" stroke="#1c1c1c" stroke-width="0.7"/><ellipse cx="788.4" cy="171.7" rx="2.6" ry="1.6" fill="#f4f46a" stroke="#1c1c1c" stroke-width="0.7"/><ellipse cx="561.2" cy="187.1" rx="2.6" ry="1.6" fill="#f4f46a" stroke="#1c1c1c" stroke-width="0.7"/><ellipse cx="593.9" cy="187.1" rx="2.6" ry="1.6" fill="#f4f46a" stroke="#1c1c1c" stroke-width="0.7"/><ellipse cx="626.6" cy="187.1" rx="2.6" ry="1.6" fill="#f4f46a" stroke="#1c1c1c" stroke-width="0.7"/><ellipse cx="659.3" cy="187.1" rx="2.6" ry="1.6" fill="#f4f46a" stroke="#1c1c1c" stroke-width="0.7"/><ellipse cx="692" cy="187.1" rx="2.6" ry="1.6" fill="#f4f46a" stroke="#1c1c1c" stroke-width="0.7"/><ellipse cx="724.7" cy="187.1" rx="2.6" ry="1.6" fill="#f4f46a" stroke="#1c1c1c" stroke-width="0.7"/><ellipse cx="757.4" cy="187.1" rx="2.6" ry="1.6" fill="#f4f46a" stroke="#1c1c1c" stroke-width="0.7"/><ellipse cx="790.1" cy="187.1" rx="2.6" ry="1.6" fill="#f4f46a" stroke="#1c1c1c" stroke-width="0.7"/><ellipse cx="530.2" cy="202.5" rx="2.6" ry="1.6" fill="#f4f46a" stroke="#1c1c1c" stroke-width="0.7"/><ellipse cx="562.9" cy="202.5" rx="2.6" ry="1.6" fill="#f4f46a" stroke="#1c1c1c" stroke-width="0.7"/><ellipse cx="595.6" cy="202.5" rx="2.6" ry="1.6" fill="#f4f46a" stroke="#1c1c1c" stroke-width="0.7"/><ellipse cx="628.3" cy="202.5" rx="2.6" ry="1.6" fill="#f4f46a" stroke="#1c1c1c" stroke-width="0.7"/><ellipse cx="661" cy="202.5" rx="2.6" ry="1.6" fill="#f4f46a" stroke="#1c1c1c" stroke-width="0.7"/><ellipse cx="693.7" cy="202.5" rx="2.6" ry="1.6" fill="#f4f46a" stroke="#1c1c1c" stroke-width="0.7"/><ellipse cx="726.4" cy="202.5" rx="2.6" ry="1.6" fill="#f4f46a" stroke="#1c1c1c" stroke-width="0.7"/><ellipse cx="759.1" cy="202.5" rx="2.6" ry="1.6" fill="#f4f46a" stroke="#1c1c1c" stroke-width="0.7"/><ellipse cx="531.9" cy="217.9" rx="2.6" ry="1.6" fill="#f4f46a" stroke="#1c1c1c" stroke-width="0.7"/><ellipse cx="564.6" cy="217.9" rx="2.6" ry="1.6" fill="#f4f46a" stroke="#1c1c1c" stroke-width="0.7"/><ellipse cx="597.3" cy="217.9" rx="2.6" ry="1.6" fill="#f4f46a" stroke="#1c1c1c" stroke-width="0.7"/><ellipse cx="630" cy="217.9" rx="2.6" ry="1.6" fill="#f4f46a" stroke="#1c1c1c" stroke-width="0.7"/><ellipse cx="662.7" cy="217.9" rx="2.6" ry="1.6" fill="#f4f46a" stroke="#1c1c1c" stroke-width="0.7"/><ellipse cx="695.4" cy="217.9" rx="2.6" ry="1.6" fill="#f4f46a" stroke="#1c1c1c" stroke-width="0.7"/><ellipse cx="728.1" cy="217.9" rx="2.6" ry="1.6" fill="#f4f46a" stroke="#1c1c1c" stroke-width="0.7"/><ellipse cx="760.8" cy="217.9" rx="2.6" ry="1.6" fill="#f4f46a" stroke="#1c1c1c" stroke-width="0.7"/><ellipse cx="608.2" cy="120.4" rx="3.7" ry="2.3" fill="#22c4ee" stroke="#1c1c1c" stroke-width="0.7"/><ellipse cx="640.9" cy="120.4" rx="3.7" ry="2.3" fill="#22c4ee" stroke="#1c1c1c" stroke-width="0.7"/><ellipse cx="673.6" cy="120.4" rx="3.7" ry="2.3" fill="#22c4ee" stroke="#1c1c1c" stroke-width="0.7"/><ellipse cx="706.3" cy="120.4" rx="3.7" ry="2.3" fill="#22c4ee" stroke="#1c1c1c" stroke-width="0.7"/><ellipse cx="739" cy="120.4" rx="3.7" ry="2.3" fill="#22c4ee" stroke="#1c1c1c" stroke-width="0.7"/><ellipse cx="771.7" cy="120.4" rx="3.7" ry="2.3" fill="#22c4ee" stroke="#1c1c1c" stroke-width="0.7"/><ellipse cx="804.4" cy="120.4" rx="3.7" ry="2.3" fill="#22c4ee" stroke="#1c1c1c" stroke-width="0.7"/><ellipse cx="837.1" cy="120.4" rx="3.7" ry="2.3" fill="#22c4ee" stroke="#1c1c1c" stroke-width="0.7"/><ellipse cx="577.2" cy="135.8" rx="3.7" ry="2.3" fill="#22c4ee" stroke="#1c1c1c" stroke-width="0.7"/><ellipse cx="610" cy="135.8" rx="3.7" ry="2.3" fill="#22c4ee" stroke="#1c1c1c" stroke-width="0.7"/><ellipse cx="642.7" cy="135.8" rx="3.7" ry="2.3" fill="#22c4ee" stroke="#1c1c1c" stroke-width="0.7"/><ellipse cx="675.4" cy="135.8" rx="3.7" ry="2.3" fill="#22c4ee" stroke="#1c1c1c" stroke-width="0.7"/><ellipse cx="708.1" cy="135.8" rx="3.7" ry="2.3" fill="#22c4ee" stroke="#1c1c1c" stroke-width="0.7"/><ellipse cx="740.8" cy="135.8" rx="3.7" ry="2.3" fill="#22c4ee" stroke="#1c1c1c" stroke-width="0.7"/><ellipse cx="773.5" cy="135.8" rx="3.7" ry="2.3" fill="#22c4ee" stroke="#1c1c1c" stroke-width="0.7"/><ellipse cx="806.2" cy="135.8" rx="3.7" ry="2.3" fill="#22c4ee" stroke="#1c1c1c" stroke-width="0.7"/><ellipse cx="579" cy="151.2" rx="3.7" ry="2.3" fill="#22c4ee" stroke="#1c1c1c" stroke-width="0.7"/><ellipse cx="611.7" cy="151.2" rx="3.7" ry="2.3" fill="#22c4ee" stroke="#1c1c1c" stroke-width="0.7"/><ellipse cx="644.4" cy="151.2" rx="3.7" ry="2.3" fill="#22c4ee" stroke="#1c1c1c" stroke-width="0.7"/><ellipse cx="677.1" cy="151.2" rx="3.7" ry="2.3" fill="#22c4ee" stroke="#1c1c1c" stroke-width="0.7"/><ellipse cx="709.8" cy="151.2" rx="3.7" ry="2.3" fill="#22c4ee" stroke="#1c1c1c" stroke-width="0.7"/><ellipse cx="742.5" cy="151.2" rx="3.7" ry="2.3" fill="#22c4ee" stroke="#1c1c1c" stroke-width="0.7"/><ellipse cx="775.2" cy="151.2" rx="3.7" ry="2.3" fill="#22c4ee" stroke="#1c1c1c" stroke-width="0.7"/><ellipse cx="807.9" cy="151.2" rx="3.7" ry="2.3" fill="#22c4ee" stroke="#1c1c1c" stroke-width="0.7"/><ellipse cx="548" cy="166.6" rx="3.7" ry="2.3" fill="#22c4ee" stroke="#1c1c1c" stroke-width="0.7"/><ellipse cx="580.7" cy="166.6" rx="3.7" ry="2.3" fill="#22c4ee" stroke="#1c1c1c" stroke-width="0.7"/><ellipse cx="613.4" cy="166.6" rx="3.7" ry="2.3" fill="#22c4ee" stroke="#1c1c1c" stroke-width="0.7"/><ellipse cx="646.1" cy="166.6" rx="3.7" ry="2.3" fill="#22c4ee" stroke="#1c1c1c" stroke-width="0.7"/><ellipse cx="678.8" cy="166.6" rx="3.7" ry="2.3" fill="#22c4ee" stroke="#1c1c1c" stroke-width="0.7"/><ellipse cx="711.5" cy="166.6" rx="3.7" ry="2.3" fill="#22c4ee" stroke="#1c1c1c" stroke-width="0.7"/><ellipse cx="744.2" cy="166.6" rx="3.7" ry="2.3" fill="#22c4ee" stroke="#1c1c1c" stroke-width="0.7"/><ellipse cx="776.9" cy="166.6" rx="3.7" ry="2.3" fill="#22c4ee" stroke="#1c1c1c" stroke-width="0.7"/><ellipse cx="549.7" cy="182" rx="3.7" ry="2.3" fill="#22c4ee" stroke="#1c1c1c" stroke-width="0.7"/><ellipse cx="582.4" cy="182" rx="3.7" ry="2.3" fill="#22c4ee" stroke="#1c1c1c" stroke-width="0.7"/><ellipse cx="615.1" cy="182" rx="3.7" ry="2.3" fill="#22c4ee" stroke="#1c1c1c" stroke-width="0.7"/><ellipse cx="647.8" cy="182" rx="3.7" ry="2.3" fill="#22c4ee" stroke="#1c1c1c" stroke-width="0.7"/><ellipse cx="680.5" cy="182" rx="3.7" ry="2.3" fill="#22c4ee" stroke="#1c1c1c" stroke-width="0.7"/><ellipse cx="713.2" cy="182" rx="3.7" ry="2.3" fill="#22c4ee" stroke="#1c1c1c" stroke-width="0.7"/><ellipse cx="745.9" cy="182" rx="3.7" ry="2.3" fill="#22c4ee" stroke="#1c1c1c" stroke-width="0.7"/><ellipse cx="778.6" cy="182" rx="3.7" ry="2.3" fill="#22c4ee" stroke="#1c1c1c" stroke-width="0.7"/><ellipse cx="518.7" cy="197.4" rx="3.7" ry="2.3" fill="#22c4ee" stroke="#1c1c1c" stroke-width="0.7"/><ellipse cx="551.4" cy="197.4" rx="3.7" ry="2.3" fill="#22c4ee" stroke="#1c1c1c" stroke-width="0.7"/><ellipse cx="584.1" cy="197.4" rx="3.7" ry="2.3" fill="#22c4ee" stroke="#1c1c1c" stroke-width="0.7"/><ellipse cx="616.8" cy="197.4" rx="3.7" ry="2.3" fill="#22c4ee" stroke="#1c1c1c" stroke-width="0.7"/><ellipse cx="649.5" cy="197.4" rx="3.7" ry="2.3" fill="#22c4ee" stroke="#1c1c1c" stroke-width="0.7"/><ellipse cx="682.2" cy="197.4" rx="3.7" ry="2.3" fill="#22c4ee" stroke="#1c1c1c" stroke-width="0.7"/><ellipse cx="714.9" cy="197.4" rx="3.7" ry="2.3" fill="#22c4ee" stroke="#1c1c1c" stroke-width="0.7"/><ellipse cx="747.6" cy="197.4" rx="3.7" ry="2.3" fill="#22c4ee" stroke="#1c1c1c" stroke-width="0.7"/><ellipse cx="520.5" cy="212.8" rx="3.7" ry="2.3" fill="#22c4ee" stroke="#1c1c1c" stroke-width="0.7"/><ellipse cx="553.2" cy="212.8" rx="3.7" ry="2.3" fill="#22c4ee" stroke="#1c1c1c" stroke-width="0.7"/><ellipse cx="585.9" cy="212.8" rx="3.7" ry="2.3" fill="#22c4ee" stroke="#1c1c1c" stroke-width="0.7"/><ellipse cx="618.6" cy="212.8" rx="3.7" ry="2.3" fill="#22c4ee" stroke="#1c1c1c" stroke-width="0.7"/><ellipse cx="651.3" cy="212.8" rx="3.7" ry="2.3" fill="#22c4ee" stroke="#1c1c1c" stroke-width="0.7"/><ellipse cx="684" cy="212.8" rx="3.7" ry="2.3" fill="#22c4ee" stroke="#1c1c1c" stroke-width="0.7"/><ellipse cx="716.7" cy="212.8" rx="3.7" ry="2.3" fill="#22c4ee" stroke="#1c1c1c" stroke-width="0.7"/><ellipse cx="749.4" cy="212.8" rx="3.7" ry="2.3" fill="#22c4ee" stroke="#1c1c1c" stroke-width="0.7"/>
</g>
<polygon points="382.5,185.2 455.3,112.4 566,112.4 496,185.2" fill="#9dbdf0"/>
<path d="M494.5 185.2 L566.5 112.4 C574 112.4 582 116 582.8 124.6 L512 205.4 L511 205 C505 205 502 200 502.3 194 C502.5 190.5 500.5 185.6 494.5 185.2Z" fill="url(#bendg)"/>
<clipPath id="upclip"><polygon points="382.5,185.2 455.3,112.4 566,112.4 494,185.2"/></clipPath>
<g clip-path="url(#upclip)">
<path d="M363 114.9L341.8 120M363 114.9L374.5 120M374.5 120L364.7 130.3M395.7 114.9L374.5 120M395.7 114.9L407.2 120M407.2 120L397.4 130.3M428.4 114.9L407.2 120M428.4 114.9L439.9 120M439.9 120L430.1 130.3M461.1 114.9L439.9 120M461.1 114.9L472.6 120M472.6 120L462.8 130.3M493.8 114.9L472.6 120M493.8 114.9L505.3 120M505.3 120L495.5 130.3M526.5 114.9L505.3 120M526.5 114.9L538 120M538 120L528.2 130.3M559.2 114.9L538 120M559.2 114.9L570.7 120M570.7 120L560.9 130.3M591.9 114.9L570.7 120M591.9 114.9L603.4 120M603.4 120L593.6 130.3M624.6 114.9L603.4 120M624.6 114.9L636.1 120M636.1 120L626.3 130.3M364.7 130.3L343.5 135.4M364.7 130.3L376.2 135.4M376.2 135.4L366.4 145.7M397.4 130.3L376.2 135.4M397.4 130.3L408.9 135.4M408.9 135.4L399.1 145.7M430.1 130.3L408.9 135.4M430.1 130.3L441.6 135.4M441.6 135.4L431.8 145.7M462.8 130.3L441.6 135.4M462.8 130.3L474.3 135.4M474.3 135.4L464.5 145.7M495.5 130.3L474.3 135.4M495.5 130.3L507 135.4M507 135.4L497.2 145.7M528.2 130.3L507 135.4M528.2 130.3L539.7 135.4M539.7 135.4L529.9 145.7M560.9 130.3L539.7 135.4M560.9 130.3L572.4 135.4M572.4 135.4L562.6 145.7M593.6 130.3L572.4 135.4M593.6 130.3L605.1 135.4M605.1 135.4L595.3 145.7M626.3 130.3L605.1 135.4M626.3 130.3L637.8 135.4M637.8 135.4L628 145.7M333.7 145.7L312.5 150.8M333.7 145.7L345.2 150.8M345.2 150.8L335.4 161.1M366.4 145.7L345.2 150.8M366.4 145.7L377.9 150.8M377.9 150.8L368.1 161.1M399.1 145.7L377.9 150.8M399.1 145.7L410.6 150.8M410.6 150.8L400.8 161.1M431.8 145.7L410.6 150.8M431.8 145.7L443.3 150.8M443.3 150.8L433.5 161.1M464.5 145.7L443.3 150.8M464.5 145.7L476 150.8M476 150.8L466.2 161.1M497.2 145.7L476 150.8M497.2 145.7L508.7 150.8M508.7 150.8L498.9 161.1M529.9 145.7L508.7 150.8M529.9 145.7L541.4 150.8M541.4 150.8L531.6 161.1M562.6 145.7L541.4 150.8M562.6 145.7L574.1 150.8M574.1 150.8L564.3 161.1M595.3 145.7L574.1 150.8M595.3 145.7L606.8 150.8M606.8 150.8L597 161.1M335.4 161.1L314.2 166.2M335.4 161.1L346.9 166.2M346.9 166.2L337.2 176.5M368.1 161.1L346.9 166.2M368.1 161.1L379.6 166.2M379.6 166.2L369.9 176.5M400.8 161.1L379.6 166.2M400.8 161.1L412.3 166.2M412.3 166.2L402.6 176.5M433.5 161.1L412.3 166.2M433.5 161.1L445 166.2M445 166.2L435.3 176.5M466.2 161.1L445 166.2M466.2 161.1L477.7 166.2M477.7 166.2L468 176.5M498.9 161.1L477.7 166.2M498.9 161.1L510.4 166.2M510.4 166.2L500.7 176.5M531.6 161.1L510.4 166.2M531.6 161.1L543.1 166.2M543.1 166.2L533.4 176.5M564.3 161.1L543.1 166.2M564.3 161.1L575.8 166.2M575.8 166.2L566.1 176.5M597 161.1L575.8 166.2M597 161.1L608.5 166.2M608.5 166.2L598.8 176.5M304.5 176.5L283.2 181.6M304.5 176.5L315.9 181.6M315.9 181.6L306.2 191.9M337.2 176.5L315.9 181.6M337.2 176.5L348.6 181.6M348.6 181.6L338.9 191.9M369.9 176.5L348.6 181.6M369.9 176.5L381.3 181.6M381.3 181.6L371.6 191.9M402.6 176.5L381.3 181.6M402.6 176.5L414 181.6M414 181.6L404.3 191.9M435.3 176.5L414 181.6M435.3 176.5L446.7 181.6M446.7 181.6L437 191.9M468 176.5L446.7 181.6M468 176.5L479.4 181.6M479.4 181.6L469.7 191.9M500.7 176.5L479.4 181.6M500.7 176.5L512.1 181.6M512.1 181.6L502.4 191.9M533.4 176.5L512.1 181.6M533.4 176.5L544.8 181.6M544.8 181.6L535.1 191.9M566.1 176.5L544.8 181.6M566.1 176.5L577.5 181.6M577.5 181.6L567.8 191.9M306.2 191.9L285 197M306.2 191.9L317.7 197M317.7 197L307.9 207.3M338.9 191.9L317.7 197M338.9 191.9L350.4 197M350.4 197L340.6 207.3M371.6 191.9L350.4 197M371.6 191.9L383.1 197M383.1 197L373.3 207.3M404.3 191.9L383.1 197M404.3 191.9L415.8 197M415.8 197L406 207.3M437 191.9L415.8 197M437 191.9L448.5 197M448.5 197L438.7 207.3M469.7 191.9L448.5 197M469.7 191.9L481.2 197M481.2 197L471.4 207.3M502.4 191.9L481.2 197M502.4 191.9L513.9 197M513.9 197L504.1 207.3M535.1 191.9L513.9 197M535.1 191.9L546.6 197M546.6 197L536.8 207.3M567.8 191.9L546.6 197M567.8 191.9L579.3 197M579.3 197L569.5 207.3" stroke="#1c1c1c" stroke-width="1.25" fill="none"/><ellipse cx="374.5" cy="120" rx="2.6" ry="1.6" fill="#f4f46a" stroke="#1c1c1c" stroke-width="0.7"/><ellipse cx="407.2" cy="120" rx="2.6" ry="1.6" fill="#f4f46a" stroke="#1c1c1c" stroke-width="0.7"/><ellipse cx="439.9" cy="120" rx="2.6" ry="1.6" fill="#f4f46a" stroke="#1c1c1c" stroke-width="0.7"/><ellipse cx="472.6" cy="120" rx="2.6" ry="1.6" fill="#f4f46a" stroke="#1c1c1c" stroke-width="0.7"/><ellipse cx="505.3" cy="120" rx="2.6" ry="1.6" fill="#f4f46a" stroke="#1c1c1c" stroke-width="0.7"/><ellipse cx="538" cy="120" rx="2.6" ry="1.6" fill="#f4f46a" stroke="#1c1c1c" stroke-width="0.7"/><ellipse cx="570.7" cy="120" rx="2.6" ry="1.6" fill="#f4f46a" stroke="#1c1c1c" stroke-width="0.7"/><ellipse cx="603.4" cy="120" rx="2.6" ry="1.6" fill="#f4f46a" stroke="#1c1c1c" stroke-width="0.7"/><ellipse cx="636.1" cy="120" rx="2.6" ry="1.6" fill="#f4f46a" stroke="#1c1c1c" stroke-width="0.7"/><ellipse cx="376.2" cy="135.4" rx="2.6" ry="1.6" fill="#f4f46a" stroke="#1c1c1c" stroke-width="0.7"/><ellipse cx="408.9" cy="135.4" rx="2.6" ry="1.6" fill="#f4f46a" stroke="#1c1c1c" stroke-width="0.7"/><ellipse cx="441.6" cy="135.4" rx="2.6" ry="1.6" fill="#f4f46a" stroke="#1c1c1c" stroke-width="0.7"/><ellipse cx="474.3" cy="135.4" rx="2.6" ry="1.6" fill="#f4f46a" stroke="#1c1c1c" stroke-width="0.7"/><ellipse cx="507" cy="135.4" rx="2.6" ry="1.6" fill="#f4f46a" stroke="#1c1c1c" stroke-width="0.7"/><ellipse cx="539.7" cy="135.4" rx="2.6" ry="1.6" fill="#f4f46a" stroke="#1c1c1c" stroke-width="0.7"/><ellipse cx="572.4" cy="135.4" rx="2.6" ry="1.6" fill="#f4f46a" stroke="#1c1c1c" stroke-width="0.7"/><ellipse cx="605.1" cy="135.4" rx="2.6" ry="1.6" fill="#f4f46a" stroke="#1c1c1c" stroke-width="0.7"/><ellipse cx="637.8" cy="135.4" rx="2.6" ry="1.6" fill="#f4f46a" stroke="#1c1c1c" stroke-width="0.7"/><ellipse cx="345.2" cy="150.8" rx="2.6" ry="1.6" fill="#f4f46a" stroke="#1c1c1c" stroke-width="0.7"/><ellipse cx="377.9" cy="150.8" rx="2.6" ry="1.6" fill="#f4f46a" stroke="#1c1c1c" stroke-width="0.7"/><ellipse cx="410.6" cy="150.8" rx="2.6" ry="1.6" fill="#f4f46a" stroke="#1c1c1c" stroke-width="0.7"/><ellipse cx="443.3" cy="150.8" rx="2.6" ry="1.6" fill="#f4f46a" stroke="#1c1c1c" stroke-width="0.7"/><ellipse cx="476" cy="150.8" rx="2.6" ry="1.6" fill="#f4f46a" stroke="#1c1c1c" stroke-width="0.7"/><ellipse cx="508.7" cy="150.8" rx="2.6" ry="1.6" fill="#f4f46a" stroke="#1c1c1c" stroke-width="0.7"/><ellipse cx="541.4" cy="150.8" rx="2.6" ry="1.6" fill="#f4f46a" stroke="#1c1c1c" stroke-width="0.7"/><ellipse cx="574.1" cy="150.8" rx="2.6" ry="1.6" fill="#f4f46a" stroke="#1c1c1c" stroke-width="0.7"/><ellipse cx="606.8" cy="150.8" rx="2.6" ry="1.6" fill="#f4f46a" stroke="#1c1c1c" stroke-width="0.7"/><ellipse cx="346.9" cy="166.2" rx="2.6" ry="1.6" fill="#f4f46a" stroke="#1c1c1c" stroke-width="0.7"/><ellipse cx="379.6" cy="166.2" rx="2.6" ry="1.6" fill="#f4f46a" stroke="#1c1c1c" stroke-width="0.7"/><ellipse cx="412.3" cy="166.2" rx="2.6" ry="1.6" fill="#f4f46a" stroke="#1c1c1c" stroke-width="0.7"/><ellipse cx="445" cy="166.2" rx="2.6" ry="1.6" fill="#f4f46a" stroke="#1c1c1c" stroke-width="0.7"/><ellipse cx="477.7" cy="166.2" rx="2.6" ry="1.6" fill="#f4f46a" stroke="#1c1c1c" stroke-width="0.7"/><ellipse cx="510.4" cy="166.2" rx="2.6" ry="1.6" fill="#f4f46a" stroke="#1c1c1c" stroke-width="0.7"/><ellipse cx="543.1" cy="166.2" rx="2.6" ry="1.6" fill="#f4f46a" stroke="#1c1c1c" stroke-width="0.7"/><ellipse cx="575.8" cy="166.2" rx="2.6" ry="1.6" fill="#f4f46a" stroke="#1c1c1c" stroke-width="0.7"/><ellipse cx="608.5" cy="166.2" rx="2.6" ry="1.6" fill="#f4f46a" stroke="#1c1c1c" stroke-width="0.7"/><ellipse cx="315.9" cy="181.6" rx="2.6" ry="1.6" fill="#f4f46a" stroke="#1c1c1c" stroke-width="0.7"/><ellipse cx="348.6" cy="181.6" rx="2.6" ry="1.6" fill="#f4f46a" stroke="#1c1c1c" stroke-width="0.7"/><ellipse cx="381.3" cy="181.6" rx="2.6" ry="1.6" fill="#f4f46a" stroke="#1c1c1c" stroke-width="0.7"/><ellipse cx="414" cy="181.6" rx="2.6" ry="1.6" fill="#f4f46a" stroke="#1c1c1c" stroke-width="0.7"/><ellipse cx="446.7" cy="181.6" rx="2.6" ry="1.6" fill="#f4f46a" stroke="#1c1c1c" stroke-width="0.7"/><ellipse cx="479.4" cy="181.6" rx="2.6" ry="1.6" fill="#f4f46a" stroke="#1c1c1c" stroke-width="0.7"/><ellipse cx="512.1" cy="181.6" rx="2.6" ry="1.6" fill="#f4f46a" stroke="#1c1c1c" stroke-width="0.7"/><ellipse cx="544.8" cy="181.6" rx="2.6" ry="1.6" fill="#f4f46a" stroke="#1c1c1c" stroke-width="0.7"/><ellipse cx="577.5" cy="181.6" rx="2.6" ry="1.6" fill="#f4f46a" stroke="#1c1c1c" stroke-width="0.7"/><ellipse cx="317.7" cy="197" rx="2.6" ry="1.6" fill="#f4f46a" stroke="#1c1c1c" stroke-width="0.7"/><ellipse cx="350.4" cy="197" rx="2.6" ry="1.6" fill="#f4f46a" stroke="#1c1c1c" stroke-width="0.7"/><ellipse cx="383.1" cy="197" rx="2.6" ry="1.6" fill="#f4f46a" stroke="#1c1c1c" stroke-width="0.7"/><ellipse cx="415.8" cy="197" rx="2.6" ry="1.6" fill="#f4f46a" stroke="#1c1c1c" stroke-width="0.7"/><ellipse cx="448.5" cy="197" rx="2.6" ry="1.6" fill="#f4f46a" stroke="#1c1c1c" stroke-width="0.7"/><ellipse cx="481.2" cy="197" rx="2.6" ry="1.6" fill="#f4f46a" stroke="#1c1c1c" stroke-width="0.7"/><ellipse cx="513.9" cy="197" rx="2.6" ry="1.6" fill="#f4f46a" stroke="#1c1c1c" stroke-width="0.7"/><ellipse cx="546.6" cy="197" rx="2.6" ry="1.6" fill="#f4f46a" stroke="#1c1c1c" stroke-width="0.7"/><ellipse cx="579.3" cy="197" rx="2.6" ry="1.6" fill="#f4f46a" stroke="#1c1c1c" stroke-width="0.7"/><ellipse cx="363" cy="114.9" rx="3.7" ry="2.3" fill="#22c4ee" stroke="#1c1c1c" stroke-width="0.7"/><ellipse cx="395.7" cy="114.9" rx="3.7" ry="2.3" fill="#22c4ee" stroke="#1c1c1c" stroke-width="0.7"/><ellipse cx="428.4" cy="114.9" rx="3.7" ry="2.3" fill="#22c4ee" stroke="#1c1c1c" stroke-width="0.7"/><ellipse cx="461.1" cy="114.9" rx="3.7" ry="2.3" fill="#22c4ee" stroke="#1c1c1c" stroke-width="0.7"/><ellipse cx="493.8" cy="114.9" rx="3.7" ry="2.3" fill="#22c4ee" stroke="#1c1c1c" stroke-width="0.7"/><ellipse cx="526.5" cy="114.9" rx="3.7" ry="2.3" fill="#22c4ee" stroke="#1c1c1c" stroke-width="0.7"/><ellipse cx="559.2" cy="114.9" rx="3.7" ry="2.3" fill="#22c4ee" stroke="#1c1c1c" stroke-width="0.7"/><ellipse cx="591.9" cy="114.9" rx="3.7" ry="2.3" fill="#22c4ee" stroke="#1c1c1c" stroke-width="0.7"/><ellipse cx="624.6" cy="114.9" rx="3.7" ry="2.3" fill="#22c4ee" stroke="#1c1c1c" stroke-width="0.7"/><ellipse cx="364.7" cy="130.3" rx="3.7" ry="2.3" fill="#22c4ee" stroke="#1c1c1c" stroke-width="0.7"/><ellipse cx="397.4" cy="130.3" rx="3.7" ry="2.3" fill="#22c4ee" stroke="#1c1c1c" stroke-width="0.7"/><ellipse cx="430.1" cy="130.3" rx="3.7" ry="2.3" fill="#22c4ee" stroke="#1c1c1c" stroke-width="0.7"/><ellipse cx="462.8" cy="130.3" rx="3.7" ry="2.3" fill="#22c4ee" stroke="#1c1c1c" stroke-width="0.7"/><ellipse cx="495.5" cy="130.3" rx="3.7" ry="2.3" fill="#22c4ee" stroke="#1c1c1c" stroke-width="0.7"/><ellipse cx="528.2" cy="130.3" rx="3.7" ry="2.3" fill="#22c4ee" stroke="#1c1c1c" stroke-width="0.7"/><ellipse cx="560.9" cy="130.3" rx="3.7" ry="2.3" fill="#22c4ee" stroke="#1c1c1c" stroke-width="0.7"/><ellipse cx="593.6" cy="130.3" rx="3.7" ry="2.3" fill="#22c4ee" stroke="#1c1c1c" stroke-width="0.7"/><ellipse cx="626.3" cy="130.3" rx="3.7" ry="2.3" fill="#22c4ee" stroke="#1c1c1c" stroke-width="0.7"/><ellipse cx="333.7" cy="145.7" rx="3.7" ry="2.3" fill="#22c4ee" stroke="#1c1c1c" stroke-width="0.7"/><ellipse cx="366.4" cy="145.7" rx="3.7" ry="2.3" fill="#22c4ee" stroke="#1c1c1c" stroke-width="0.7"/><ellipse cx="399.1" cy="145.7" rx="3.7" ry="2.3" fill="#22c4ee" stroke="#1c1c1c" stroke-width="0.7"/><ellipse cx="431.8" cy="145.7" rx="3.7" ry="2.3" fill="#22c4ee" stroke="#1c1c1c" stroke-width="0.7"/><ellipse cx="464.5" cy="145.7" rx="3.7" ry="2.3" fill="#22c4ee" stroke="#1c1c1c" stroke-width="0.7"/><ellipse cx="497.2" cy="145.7" rx="3.7" ry="2.3" fill="#22c4ee" stroke="#1c1c1c" stroke-width="0.7"/><ellipse cx="529.9" cy="145.7" rx="3.7" ry="2.3" fill="#22c4ee" stroke="#1c1c1c" stroke-width="0.7"/><ellipse cx="562.6" cy="145.7" rx="3.7" ry="2.3" fill="#22c4ee" stroke="#1c1c1c" stroke-width="0.7"/><ellipse cx="595.3" cy="145.7" rx="3.7" ry="2.3" fill="#22c4ee" stroke="#1c1c1c" stroke-width="0.7"/><ellipse cx="335.4" cy="161.1" rx="3.7" ry="2.3" fill="#22c4ee" stroke="#1c1c1c" stroke-width="0.7"/><ellipse cx="368.1" cy="161.1" rx="3.7" ry="2.3" fill="#22c4ee" stroke="#1c1c1c" stroke-width="0.7"/><ellipse cx="400.8" cy="161.1" rx="3.7" ry="2.3" fill="#22c4ee" stroke="#1c1c1c" stroke-width="0.7"/><ellipse cx="433.5" cy="161.1" rx="3.7" ry="2.3" fill="#22c4ee" stroke="#1c1c1c" stroke-width="0.7"/><ellipse cx="466.2" cy="161.1" rx="3.7" ry="2.3" fill="#22c4ee" stroke="#1c1c1c" stroke-width="0.7"/><ellipse cx="498.9" cy="161.1" rx="3.7" ry="2.3" fill="#22c4ee" stroke="#1c1c1c" stroke-width="0.7"/><ellipse cx="531.6" cy="161.1" rx="3.7" ry="2.3" fill="#22c4ee" stroke="#1c1c1c" stroke-width="0.7"/><ellipse cx="564.3" cy="161.1" rx="3.7" ry="2.3" fill="#22c4ee" stroke="#1c1c1c" stroke-width="0.7"/><ellipse cx="597" cy="161.1" rx="3.7" ry="2.3" fill="#22c4ee" stroke="#1c1c1c" stroke-width="0.7"/><ellipse cx="304.5" cy="176.5" rx="3.7" ry="2.3" fill="#22c4ee" stroke="#1c1c1c" stroke-width="0.7"/><ellipse cx="337.2" cy="176.5" rx="3.7" ry="2.3" fill="#22c4ee" stroke="#1c1c1c" stroke-width="0.7"/><ellipse cx="369.9" cy="176.5" rx="3.7" ry="2.3" fill="#22c4ee" stroke="#1c1c1c" stroke-width="0.7"/><ellipse cx="402.6" cy="176.5" rx="3.7" ry="2.3" fill="#22c4ee" stroke="#1c1c1c" stroke-width="0.7"/><ellipse cx="435.3" cy="176.5" rx="3.7" ry="2.3" fill="#22c4ee" stroke="#1c1c1c" stroke-width="0.7"/><ellipse cx="468" cy="176.5" rx="3.7" ry="2.3" fill="#22c4ee" stroke="#1c1c1c" stroke-width="0.7"/><ellipse cx="500.7" cy="176.5" rx="3.7" ry="2.3" fill="#22c4ee" stroke="#1c1c1c" stroke-width="0.7"/><ellipse cx="533.4" cy="176.5" rx="3.7" ry="2.3" fill="#22c4ee" stroke="#1c1c1c" stroke-width="0.7"/><ellipse cx="566.1" cy="176.5" rx="3.7" ry="2.3" fill="#22c4ee" stroke="#1c1c1c" stroke-width="0.7"/><ellipse cx="306.2" cy="191.9" rx="3.7" ry="2.3" fill="#22c4ee" stroke="#1c1c1c" stroke-width="0.7"/><ellipse cx="338.9" cy="191.9" rx="3.7" ry="2.3" fill="#22c4ee" stroke="#1c1c1c" stroke-width="0.7"/><ellipse cx="371.6" cy="191.9" rx="3.7" ry="2.3" fill="#22c4ee" stroke="#1c1c1c" stroke-width="0.7"/><ellipse cx="404.3" cy="191.9" rx="3.7" ry="2.3" fill="#22c4ee" stroke="#1c1c1c" stroke-width="0.7"/><ellipse cx="437" cy="191.9" rx="3.7" ry="2.3" fill="#22c4ee" stroke="#1c1c1c" stroke-width="0.7"/><ellipse cx="469.7" cy="191.9" rx="3.7" ry="2.3" fill="#22c4ee" stroke="#1c1c1c" stroke-width="0.7"/><ellipse cx="502.4" cy="191.9" rx="3.7" ry="2.3" fill="#22c4ee" stroke="#1c1c1c" stroke-width="0.7"/><ellipse cx="535.1" cy="191.9" rx="3.7" ry="2.3" fill="#22c4ee" stroke="#1c1c1c" stroke-width="0.7"/><ellipse cx="567.8" cy="191.9" rx="3.7" ry="2.3" fill="#22c4ee" stroke="#1c1c1c" stroke-width="0.7"/>
</g>
<path d="M382.5 185.2 L494.5 185.2 C500.5 185.6 502.5 190.5 502.3 194 C502 200 505 205 511 205 L624.3 205 L624.3 215.6 L511 215.6 C502 215.6 497.5 209 497.8 203 C498 198 497 195.2 494.5 195.2 L382.5 195.2Z" fill="#8aa7d8"/>
<polygon points="540.6,195.7 611,123.5 611,126.3 540.6,200" fill="#dba60f"/><polygon points="540.6,200 611,126.3 611,129.3 540.6,203.8" fill="#a9a9a9"/><polygon points="519,200 540.6,200 540.6,203.8 519,203.8" fill="#b9b9b9"/><polygon points="519,195.7 540.6,195.7 540.6,200 519,200" fill="#ffc000"/><polygon points="519,195.7 590.6,123.5 611,123.5 540.6,195.7" fill="#ffcb2f"/>
<polygon points="624.8,197.7 696.5,125.4 696.5,128.6 624.8,202.6" fill="#dba60f"/><polygon points="624.8,202.6 696.5,128.6 696.5,132.6 624.8,207.6" fill="#a9a9a9"/><polygon points="604.5,202.6 624.8,202.6 624.8,207.6 604.5,207.6" fill="#b9b9b9"/><polygon points="604.5,197.7 624.8,197.7 624.8,202.6 604.5,202.6" fill="#ffc000"/><polygon points="604.5,197.7 676.1,125.4 696.5,125.4 624.8,197.7" fill="#ffcb2f"/>
<polygon points="602,259.4 626.6,234.3 626.6,249.8 602,270.8" fill="#dba60f"/>
<polygon points="194.8,271.2 601.6,271.2 601.6,294 194.8,294" fill="#ffd966"/>
<polygon points="194.8,259.4 602,259.4 602,271.2 194.8,271.2" fill="#ffc000"/>
<polygon points="194.8,259.4 219.6,234.3 626.6,234.3 602,259.4" fill="#ffcd33"/>
<text transform="matrix(1 0 -0.450 0.450 310 147.6)" font-size="29" text-anchor="middle" font-weight="normal" fill="#111">S</text>
<text transform="matrix(1 0 -0.450 0.450 389.5 150.6)" font-size="29" text-anchor="middle" font-weight="normal" fill="#111">D</text>
<text transform="matrix(1 0 -0.450 0.450 567.6 157.8)" font-size="29" text-anchor="middle" font-weight="normal" fill="#111">S</text>
<text transform="matrix(1 0 -0.450 0.450 647 164.2)" font-size="29" text-anchor="middle" font-weight="normal" fill="#111">D</text>
<text transform="matrix(1 0 -0.450 0.450 413 251.5)" font-size="30" text-anchor="middle" font-weight="normal" fill="#111">G</text>
<rect x="297.6" y="54.8" width="116" height="51" fill="#fff" stroke="#111" stroke-width="1.6"/>
<text x="313" y="90.2" font-size="27" font-weight="normal">MoTe<tspan font-size="20.5" dy="5.5">2</tspan></text>
<rect x="583.6" y="60" width="101" height="49" fill="#fff" stroke="#111" stroke-width="1.6"/>
<text x="599.5" y="94.7" font-size="27.5" font-weight="normal">MoS<tspan font-size="20.5" dy="5.5">2</tspan></text>
<text x="758.5" y="80.6" font-size="27.3" font-weight="normal">h-BN</text>
<text x="745.5" y="125.1" font-size="26.2" font-weight="normal" textLength="238" lengthAdjust="spacing">Ta Oxide / 1T-TaS<tspan font-size="20" dy="5.5">2</tspan></text>
<polyline points="864.9,91.8 748.8,91.8 704.3,136.2" fill="none" stroke="#444" stroke-width="1"/>
<polyline points="989,137 750,137 705.6,181.2" fill="none" stroke="#444" stroke-width="1"/>
<path d="M737 150 L705.6 181.2" stroke="#111" stroke-width="2"/>
</g>
<g id="micro">
<defs><filter id="mblur" x="-2%" y="-2%" width="104%" height="104%"><feGaussianBlur stdDeviation="1.45"/></filter><filter id="mblur2" x="-5%" y="-5%" width="110%" height="110%"><feGaussianBlur stdDeviation="2.2"/></filter><linearGradient id="bgg" x1="0" y1="0" x2="0.3" y2="1"><stop offset="0" stop-color="#487dba"/><stop offset="1" stop-color="#5189cd"/></linearGradient><clipPath id="mclip"><rect x="225.6" y="359.8" width="652" height="651.9"/></clipPath></defs>
<g clip-path="url(#mclip)">
<rect x="220.6" y="354.8" width="662" height="661.9" fill="url(#bgg)"/>
<g filter="url(#mblur)">
<polygon points="222,420.4 237.9,416.9 266,415.5 297.7,445 306.5,462.6 311.8,489 313.5,501.3 288.9,518.9 222,501.3" fill="#a6a88d"/>
<polygon points="222,462.6 267.8,448.5 288.9,473.2 285.4,515.4 222,499.6" fill="#b3ab95"/>
<polygon points="215,690 287.1,640.3 290.7,629.8 373.4,582.3 401.5,584 479,562.9 496.5,534.8 563.4,503.1 670,458 690,600 700,690 609.8,731 435,768 215,850" fill="#a3aa8c"/>
<polygon points="215,690 287.1,640.3 300,640 320,700 330,740 215,790" fill="#8fab97"/>
<polygon points="215,835 385,778 392,785 215,850" fill="#7db1b0"/>
<polygon points="641.5,517.2 659.1,506.6 673.2,504.9 683.7,526 690.8,566.5 673.2,561.2 655.6,550.6 641.5,529.5" fill="#c2ae9a"/>
<polygon points="673.2,504.9 689,540.1 690.8,566.5 683.7,526" fill="#cfb8c8"/>
<polygon points="288,466.5 293.3,465.3 298.6,476.7 301.6,490.8 303,504.9 310.4,522.5 311.4,540.9 320.6,592.9 342.6,596.4 343.5,603.4 313.5,620.1 306.5,592.9 295.1,540.9 291.7,508.4 289.8,483.7" fill="#2a2f92"/>
<polygon points="293.3,492.5 301.2,490.8 302.5,504.9 299.5,516.3 293.3,508.4" fill="#4464d8"/>
<polygon points="313.5,619.2 345.2,603.4 364.6,612.2 403.3,605.2 464.9,594.6 517.7,581.4 540.6,587.6 585.2,585.8 611.6,589.3 640,600 676.7,649.2 701.3,649.2 708.4,680 710.1,692.3 671.4,709 609.8,731 550,745.1 435,768 391,783.8 360,780 329.4,697.6 310,649.2" fill="#2d39ad"/>
<polygon points="313.5,619.2 345.2,603.4 364.6,612.2 372,640 345,700 329.4,697.6 310,649.2" fill="#3a49c2"/>
<polygon points="464.9,594.6 517.7,581.4 540.6,587.6 560,640 480,640" fill="#252c98"/>
<polygon points="380.4,789.1 391,783.8 435,768 550,745.1 609.8,731 671.4,709 710,693 740.1,750.4 757.7,778.5 766.5,820.8 777,856 796.4,887.7 814,912.3 832,928 722,1002 673.2,1015 634.5,1015 594,979.2 555,944 433.2,834.9" fill="#3e3567"/>
<polygon points="554.7,918.8 570.8,922.5 578.2,929.9 628.8,927.5 647.3,931.2 656,936.7 660.9,935.5 669.6,928.7 672,943.5 658.5,949.7 654.8,968.2 665.9,986.8 663.4,1012.7 635,1012.7 616.5,992.9 581.9,962 560.9,943.5" fill="#3444c2"/>
<polygon points="609.1,934.9 651,938.6 648.6,953.4 616.5,943.5" fill="#5666e4"/>
<polygon points="581.9,962 594.2,959.6 628.8,975.6 616.5,992.9" fill="#5a70e8"/>
<polygon points="616.5,979.3 653.5,963.3 655.4,968.8 621.4,986.1" fill="#a8bcff"/>
<polygon points="548.5,906.5 562.1,908.9 570.8,922.5 578.2,929.9 567.1,931.2 557.2,921.3" fill="#30285a"/>
<polygon points="548.5,904 596.7,868.2 601.6,869.4 615.2,852.1 620.2,843.5 628.8,846.6 638.7,845.9 637.5,838.5 648.6,836.1 660.9,840.4 688.1,838.5 691.8,839.8 699.2,854.6 705.4,854.6 720.2,846.6 727.6,857.1 715.3,879.3 722.7,895.3 727.6,918.8 731.3,928.7 722.7,929.3 707.9,927.5 683.2,927.5 669.6,928.7 660.9,935.5 656,936.7 647.3,931.2 628.8,927.5 599.2,928.7 578.2,929.9 570.8,922.5 560.9,908.9" fill="#8aa1f6"/>
<polyline points="551,903.4 599.2,868.8 604.1,867.6 641.2,849" fill="none" stroke="#d4e4ff" stroke-width="3.6" />
<polyline points="580,926.8 690,839.8" fill="none" stroke="#d9e6ff" stroke-width="3.2" />
<polyline points="701.1,857.1 722.7,849" fill="none" stroke="#d9e6ff" stroke-width="5.0" />
<polyline points="678.2,860.8 686.9,925" fill="none" stroke="#b4c8ff" stroke-width="1.2" />
<polyline points="772.6,840.1 759.4,896.5" fill="none" stroke="#2c2550" stroke-width="1.5" />
<polygon points="880.8,886.8 817.5,923.7 718.9,987.1 726,1014.4 880.8,1014.4" fill="#5a3a30" stroke="#5a3a30" stroke-width="3"/>
<polygon points="880.8,890.3 819.2,926.4 721.6,988.8 727.7,1014.4 880.8,1014.4" fill="#fdf2a2"/>
<polyline points="821.9,925.5 838.6,961.6 858,995 862.4,1014.4" fill="none" stroke="#d9603c" stroke-width="1.4" />
<polyline points="814,914.1 880.8,873.6" fill="none" stroke="#4f88c8" stroke-width="2" />
<path d="M782 966.9h0M728 992.8h0M876.7 952.1h0M852.6 952.8h0M822.1 996.2h0M805.2 982.2h0M840.7 965.5h0M857 952.4h0M834.8 997.4h0M834.1 1002.1h0M785.8 988.8h0M793.3 1003.7h0M872.1 948.3h0M779.1 964.8h0M814.4 1000.2h0M829.2 1003h0M855.6 1009.8h0M856.2 1006.9h0M862.9 963.1h0M851.8 963.6h0M855.2 1009.7h0M739.4 988.7h0M770.5 985.2h0" stroke="#e4584a" stroke-width="2.6" stroke-linecap="round"/>
<polygon points="759.4,524.2 787.6,508.4 814,524.2 849.2,513.7 865,526 875.6,577 836.8,566.5 796.4,570 777,566.5 775.3,548.9 762.9,533" fill="#d7cbf1" stroke="#8a7ab0" stroke-width="0.8"/>
<polygon points="852.7,499.6 866.8,473.2 880.8,471.4 880.8,526 865,524.2 856.2,508.4" fill="#d7cbf1" stroke="#8a7ab0" stroke-width="0.8"/>
<polygon points="400,635 482.7,643 493.3,639.4 533.8,648.2 549.6,663.2 541.7,679 553.1,702.8 561.9,708.1 557.5,716.9 449.3,752.1" fill="#8298ee"/>
<polygon points="470,643 493.3,639.4 533.8,648.2 549.6,663.2 541.7,679 553.1,702.8 561.9,708.1 557.5,716.9 510,732" fill="#a9b4f7"/>
<polygon points="515.3,655.3 584.8,630.6 602.4,615.7 622.6,591 649.9,694.9 539,701.9 521.4,695.7 529.3,678.1" fill="#8ea5f3"/>
<polygon points="620,631.5 627,628 634.1,652.6 642.9,680.8 635.8,686.1 628.8,663.2" fill="#c8a888"/>
<polygon points="547.8,726.5 559.3,719.5 554.9,729.2" fill="#9fd0f0"/>
</g>
<g filter="url(#mblur)">
<polygon points="417.4,357 501,357 494.8,372.9 489.5,380.8 487.4,402.8 487.8,423.9 493,438 475.5,449.4 417.4,438.9" fill="#b87a55" stroke="#b87a55" stroke-width="1.5" stroke-linejoin="round"/>
<polygon points="417.4,357 498.7,357 492.7,372.9 487.6,380.8 485.3,402.8 485.7,423.9 490.1,437.1 474.7,447.1 417.4,436.9" fill="#f2c4a6"/>
<polygon points="417.4,357 490.4,357 481.6,379.9 478.4,402.8 479,427.4 417.4,432.4" fill="#fffaf6"/>
<polygon points="320.6,382.6 327.6,376.4 324.5,357 361.1,357 361.1,414.2 356.8,442.6 379.5,505.6 404,572.8 418.2,608.4 433.1,645.6 441.8,667.2 461.3,716 467,738 475,748 490,750 504,744 512,733 509,716 487.2,667.2 477.6,645.6 461,608.4 451.8,572.8 424.9,505.6 404,442.6 405,414 344.3,411.9 338.2,415.5 322.7,409.8 319.2,394" fill="#24141c" stroke="#24141c" stroke-width="11" stroke-linejoin="round"/>
<polygon points="320.6,382.6 327.6,376.4 324.5,357 361.1,357 361.1,414.2 356.8,442.6 379.5,505.6 404,572.8 418.2,608.4 433.1,645.6 441.8,667.2 461.3,716 467,738 475,748 490,750 504,744 512,733 509,716 487.2,667.2 477.6,645.6 461,608.4 451.8,572.8 424.9,505.6 404,442.6 405,414 344.3,411.9 338.2,415.5 322.7,409.8 319.2,394" fill="#d2a088"/>
<polygon points="326.2,386.1 331.5,379 329.7,357 361.9,357 361.9,411.2 367.7,442.6 390.4,505.6 411.4,572.8 415,598 419.5,608.4 434.2,645.6 442.8,667.2 462.3,716 470.5,738 478,744 490,744 497,736 495,716 474.7,667.2 465.7,645.6 450.2,608.4 435,572.8 412.3,505.6 401.5,442.6 400,414 345.2,408.4 338.2,411.2 326.2,406.7 323.1,394.9" fill="#ffffff" stroke="#f7dccb" stroke-width="1.6"/>
<path d="M420 505h0M424 520h0M431 538h0M439 561h0M444 575h0M472 668h0M463 662h0M398 470h0" stroke="#5a2a3a" stroke-width="2.2" stroke-linecap="round"/>
<polygon points="347.5,640 349.5,634 353,628.5 377,617.2 385.5,618.3 391.5,625.5 410.7,667.2 435.9,726 447,753 441,763 392.7,777 215,839 215,777.6 378,711 366.1,667.2" fill="#24141c" stroke="#24141c" stroke-width="10" stroke-linejoin="round"/>
<polygon points="347.5,640 349.5,634 353,628.5 377,617.2 385.5,618.3 391.5,625.5 410.7,667.2 435.9,726 447,753 441,763 392.7,777 215,839 215,777.6 378,711 366.1,667.2" fill="#cfa084"/>
<polygon points="353,640 357,631.5 376,621.5 383,623 387.5,631 400.6,667.2 418.2,726 429,751 436,757.5 392.7,769.8 215,830 215,793.4 329.4,746.9 381,725 369.5,667.2" fill="#ffffff" stroke="#f7dccb" stroke-width="1.6"/>
<polyline points="246.7,762 251.5,797" fill="none" stroke="#5a3020" stroke-width="2.2" />
<polygon points="613.4,571.7 614.2,566 618,562.5 626.6,559.3 637,557.2 642,560 645.5,564.5 650.7,580.3 663.3,584.5 795,569.3 829.1,566.8 841.7,576.8 844.2,596.4 885,585.6 885,624.5 838.6,628 796.4,638.6 683.7,649.2 675,652.7 673.2,659.7 676.7,685 683.3,689.6 676.3,698.4 653.4,696.6 648.1,693.1 627,645.6" fill="#241512" stroke="#241512" stroke-width="2.5" stroke-linejoin="round"/>
<polygon points="626.5,606 628,590 631,570 639,566 644,572 648,584.5 660,596 795,582 827,577 834,582 836.5,601.5 885,593 885,618 838,621.5 795,632 682,642.5 670,647.5 667,660 670,684 675,690 670,693 657,691 652,688 633,645" fill="#ffffff" stroke="#efd2bd" stroke-width="2.0"/>
<polygon points="615.5,572 618,566 629,561.5 631,572 629.5,590 626,601 619,586" fill="#6b4a38"/>
<polyline points="713.7,601.7 726,617.5 752.4,603.4 743.6,624.5 715.4,631.6" fill="none" stroke="#9a6a5a" stroke-width="1.1" />
<polyline points="747.1,603.4 757.7,631.6" fill="none" stroke="#9a6a5a" stroke-width="1.1" />
<polyline points="831.6,573.5 838.6,628" fill="none" stroke="#6a4a3a" stroke-width="2.4" />
<polyline points="849.2,596.4 866.8,610.5 877.3,624.5" fill="none" stroke="#4a2a20" stroke-width="3.0" />
<polyline points="840.4,629.8 877.3,614" fill="none" stroke="#6a4a30" stroke-width="2.0" />
<polyline points="659.1,596.4 662.6,649.2" fill="none" stroke="#c08a90" stroke-width="1.0" />
<polygon points="581.3,709 554.9,645.6 526.8,554 512,510 507.9,490 609.8,436 655.6,411.6 647.7,399.3 648.5,384.3 680.2,360.6 688,350 870,350 862,361.5 830,388 796,413 767,441 762.3,442.5 752.2,419.5 746,420.5 714.5,450 705.5,465.5 700,486 682.5,474.5 670.9,481 612.1,510.4 565.6,537.2 584.5,627.6 593.6,645.6 612.9,707.2 607.7,714.2 586.5,713.3" fill="#1d1210" stroke="#1d1210" stroke-width="1.5" stroke-linejoin="round"/>
<polygon points="584.5,699 564,645.6 559,627.6 542.5,554 533,520 527,502 521.5,495.2 611.6,447 645,428.5 661,414 657,402 656.4,380.2 681.6,360.7 690,350 862,350 859,360.5 828,386 794,411 765.5,438.5 752,421.5 747.5,423 716.5,451.5 707.5,466 699,481.5 686,472 670.9,471.5 612.1,497.2 555.5,528.8 557.2,554 576,627.6 582,645.6 595,703" fill="#ffffff" stroke="#f3d6c2" stroke-width="1.8"/>
<polyline points="814.6,359.8 753.4,396.6 692.9,436.3" fill="none" stroke="#c9a890" stroke-width="9.0" />
<polyline points="816.5,359.8 754.7,398.5 695.5,437.6 699.2,453.3 690.4,463.4" fill="none" stroke="#4a2a28" stroke-width="3.2" stroke-linejoin="round"/>
<polyline points="772.4,360 740.8,377.7 715.6,397.9 690.4,425.6 662.7,439.5" fill="none" stroke="#9a6a80" stroke-width="0.9" />
<polyline points="665.2,440.7 670.3,468.4" fill="none" stroke="#b08a98" stroke-width="0.8" />
<polygon points="706.8,465.9 715.6,450.8 747.1,421.8 752.2,420.5 762.3,442 740.8,459.6 720.7,462.1 710.6,468.4" fill="#d7c9f2" stroke="#7a5a80" stroke-width="0.9"/>
<polyline points="752.2,420.5 762.3,442" fill="none" stroke="#6a4a60" stroke-width="1.6" />
<polygon points="583.5,532 608.7,517.3 609.2,527.2" fill="#d9ccf0"/>
</g>
<g filter="url(#mblur2)">
<polygon points="426.2,986.2 442,979.2 443.8,996.8 431.5,1005.6" fill="#93aeb8"/>
<polygon points="530,918.8 576.9,962 631.3,1012.7 579.4,1012.7 548.5,980.6 530,943.5" fill="#a9b8a0"/>
<polygon points="544.8,949.7 567.1,965.8 581.9,990.5 560.9,986.8" fill="#d9a8b8"/>
<polygon points="530,955.9 548.5,980.6 567.1,1012.7 530,1012.7" fill="#5a8cc4"/>
</g>
</g>
<polygon points="225.6,687.9 287.1,640.3 290.7,629.8 373.4,582.3 401.5,584 479,562.9 496.5,534.8 563.4,503.1 676,455.6 708.4,685 710.1,692.3 671.4,709 609.8,731 550,745.1 435,768 225.6,846.3" fill="none" stroke="#ff3c14" stroke-width="1.6" stroke-linejoin="miter"/>
<polygon points="400,635 482.7,643 493.3,639.4 533.8,648.2 549.6,663.2 541.7,679 553.1,702.8 561.9,708.1 557.5,716.9 449.3,752.1" fill="none" stroke="#00f01c" stroke-width="2.4"/>
<polygon points="515.3,655.3 584.8,630.6 602.4,615.7 622.6,591 649.9,694.9 539,701.9 521.4,695.7 529.3,678.1" fill="none" stroke="#ff0f6e" stroke-width="2.4"/>
<rect x="358.4" y="358.8" width="59" height="76.6" fill="#fff" stroke="#111" stroke-width="1.8"/><text x="387.9" y="414.4" font-size="48.5" font-weight="bold" text-anchor="middle" fill="#000" >3</text>
<rect x="551" y="425.9" width="58.4" height="75.3" fill="#fff" stroke="#111" stroke-width="1.8"/><text x="580.2" y="480.8" font-size="48.5" font-weight="bold" text-anchor="middle" fill="#000" >2</text>
<rect x="818.4" y="629.8" width="58.9" height="76.6" fill="#fff" stroke="#111" stroke-width="1.8"/><text x="847.8" y="685.4" font-size="48.5" font-weight="bold" text-anchor="middle" fill="#000" >1</text>
<rect x="329.4" y="697.1" width="59.8" height="75.3" fill="#fff" stroke="#111" stroke-width="1.8"/><text x="359.3" y="752" font-size="48.5" font-weight="bold" text-anchor="middle" fill="#000" >4</text>
<rect x="241.4" y="541.5" width="106.5" height="50.5" fill="#fff" stroke="#ff3c14" stroke-width="2"/>
<text x="262" y="576.1" font-size="27" font-weight="bold" text-anchor="start" fill="#000" >h-BN</text>
<rect x="671.1" y="698.5" width="102.7" height="49.8" fill="#fff" stroke="#ff0f6e" stroke-width="2.2"/>
<text x="687.5" y="732.8" font-size="27.5" font-weight="bold">MoS<tspan font-size="19.5" dy="5.5">2</tspan></text>
<rect x="402.1" y="782.1" width="116.5" height="49.6" fill="#fff" stroke="#00f01c" stroke-width="2.2"/>
<text x="418.5" y="816.4" font-size="27.5" font-weight="bold" textLength="84" lengthAdjust="spacingAndGlyphs">MoTe<tspan font-size="19.5" dy="5.5">2</tspan></text>
<rect x="239.6" y="916.7" width="163.4" height="85.3" fill="#fff"/>
<text x="270.5" y="960.2" font-size="33.7" font-weight="bold" textLength="95" lengthAdjust="spacingAndGlyphs">20<tspan font-family="'Liberation Serif','DejaVu Serif',serif" font-weight="normal" font-size="36">μ</tspan>m</text>
<rect x="246.3" y="973" width="141.2" height="8.4" fill="#000"/>
<text transform="translate(510.6,874.4) rotate(-24.1)" font-size="33.6" font-weight="bold" fill="#fff">Ta Oxide/TaS<tspan font-size="22" dy="6">2</tspan></text>
</g>
</g>
<g id="panel-b">
<rect x="1242.8" y="124.6" width="806.8" height="774.8" fill="none" stroke="#000" stroke-width="5.6"/>
<path d="M1242.8 791h18M2049.6 791h-15M1242.8 682.6h18M2049.6 682.6h-15M1242.8 574.2h18M2049.6 574.2h-15M1242.8 465.8h18M2049.6 465.8h-15M1242.8 357.4h18M2049.6 357.4h-15M1242.8 249h18M2049.6 249h-15M1242.8 140.6h18M2049.6 140.6h-15M1444.5 124.6v17M1444.5 899.4v-11M1646.2 124.6v17M1646.2 899.4v-11M1847.9 124.6v17M1847.9 899.4v-11M1343.6 124.6v7M1343.6 899.4v-7M1545.3 124.6v7M1545.3 899.4v-7M1747 124.6v7M1747 899.4v-7M1948.8 124.6v7M1948.8 899.4v-7" stroke="#000" stroke-width="4.6" fill="none"/>
<polyline points="1242.8,866.3 1252.9,862.1 1263,867.8 1273.1,869.7 1283.1,866.3 1293.2,870.4 1303.3,863.8 1313.4,867.4 1323.5,868.8 1333.6,861.8 1343.6,879.9 1353.7,888 1363.8,881.1 1373.9,876.2 1384,882 1394.1,886.2 1404.2,883.8 1414.2,883.5 1424.3,882.5 1434.4,882 1444.5,883.3 1454.6,881 1464.7,882.9 1474.8,881.6 1484.8,881.2 1494.9,881.2 1505,881.6 1515.1,882.8 1525.2,883.3 1535.3,898.5 1545.3,889 1555.4,882.3 1565.5,882.2 1575.6,881 1585.7,881 1595.8,881.4 1605.9,882.5 1615.9,881.9 1626,881.6 1636.1,882.3 1646.2,898.4 1656.3,881.2 1666.4,880.3 1676.5,883.3 1686.5,882.7 1696.6,880 1706.7,881.9 1716.8,881.7 1726.9,883.8 1737,882.9 1747,880.2 1757.1,884.4 1767.2,879.2 1777.3,881 1787.4,883 1797.5,879.4 1807.6,881.4 1817.6,878.7 1827.7,882.5 1837.8,883.1 1847.9,881.9 1858,883.8 1868.1,880.4 1878.2,882.7 1888.2,882.1 1898.3,882 1908.4,881.2 1918.5,883.5 1928.6,884.2 1938.7,881.3 1948.8,882.5 1958.8,878.9 1968.9,882.7 1979,882.4 1989.1,884.5 1999.2,883.4 2009.3,880.2 2019.3,880.8 2029.4,882.5 2039.5,878.6 2049.6,881.3" fill="none" stroke="#000000" stroke-width="2.0" stroke-linejoin="round" /><path d="M1242.8 866.3h0M1252.9 862.1h0M1263 867.8h0M1273.1 869.7h0M1283.1 866.3h0M1293.2 870.4h0M1303.3 863.8h0M1313.4 867.4h0M1323.5 868.8h0M1333.6 861.8h0M1343.6 879.9h0M1353.7 888h0M1363.8 881.1h0M1373.9 876.2h0M1384 882h0M1394.1 886.2h0M1404.2 883.8h0M1414.2 883.5h0M1424.3 882.5h0M1434.4 882h0M1444.5 883.3h0M1454.6 881h0M1464.7 882.9h0M1474.8 881.6h0M1484.8 881.2h0M1494.9 881.2h0M1505 881.6h0M1515.1 882.8h0M1525.2 883.3h0M1535.3 898.5h0M1545.3 889h0M1555.4 882.3h0M1565.5 882.2h0M1575.6 881h0M1585.7 881h0M1595.8 881.4h0M1605.9 882.5h0M1615.9 881.9h0M1626 881.6h0M1636.1 882.3h0M1646.2 898.4h0M1656.3 881.2h0M1666.4 880.3h0M1676.5 883.3h0M1686.5 882.7h0M1696.6 880h0M1706.7 881.9h0M1716.8 881.7h0M1726.9 883.8h0M1737 882.9h0M1747 880.2h0M1757.1 884.4h0M1767.2 879.2h0M1777.3 881h0M1787.4 883h0M1797.5 879.4h0M1807.6 881.4h0M1817.6 878.7h0M1827.7 882.5h0M1837.8 883.1h0M1847.9 881.9h0M1858 883.8h0M1868.1 880.4h0M1878.2 882.7h0M1888.2 882.1h0M1898.3 882h0M1908.4 881.2h0M1918.5 883.5h0M1928.6 884.2h0M1938.7 881.3h0M1948.8 882.5h0M1958.8 878.9h0M1968.9 882.7h0M1979 882.4h0M1989.1 884.5h0M1999.2 883.4h0M2009.3 880.2h0M2019.3 880.8h0M2029.4 882.5h0M2039.5 878.6h0M2049.6 881.3h0" stroke="#000000" stroke-width="13.4" stroke-linecap="round" fill="none"/>
<polyline points="1242.8,739.5 1252.9,747.3 1263,755.2 1273.1,765.7 1283.1,771.9 1293.2,776.2 1303.3,780.8 1313.4,794.1 1323.5,801.2 1333.6,811.9 1343.6,826.2 1353.7,841.1 1363.8,853.1 1373.9,865.7 1384,870.4 1394.1,875.8 1404.2,880.1 1414.2,882 1424.3,882.9 1434.4,881.3 1444.5,881.3 1454.6,881.4 1464.7,881.4 1474.8,882.1 1484.8,882.3 1494.9,881.5 1505,880.9 1515.1,881.9 1525.2,881.8 1535.3,882.2 1545.3,883.2 1555.4,882.5 1565.5,882.1 1575.6,882.4 1585.7,882.5 1595.8,881 1605.9,883 1615.9,882.8 1626,883 1636.1,882.8 1646.2,898.4 1656.3,880.9 1666.4,880.9 1676.5,879.1 1686.5,882.3 1696.6,878.9 1706.7,878.9 1716.8,879.8 1726.9,879.5 1737,880.5 1747,878.8 1757.1,878.5 1767.2,879.4 1777.3,879.1 1787.4,880.7 1797.5,878.7 1807.6,883.7 1817.6,882.2 1827.7,879.4 1837.8,880 1847.9,880.6 1858,880.7 1868.1,879.2 1878.2,883.6 1888.2,884.5 1898.3,881.3 1908.4,881.4 1918.5,879 1928.6,879.1 1938.7,880.6 1948.8,880.1 1958.8,883.5 1968.9,879.5 1979,878.6 1989.1,884.2 1999.2,881.7 2009.3,879.4 2019.3,881.8 2029.4,878.7 2039.5,881.7 2049.6,884.4" fill="none" stroke="#0000ff" stroke-width="2.0" stroke-linejoin="round" /><path d="M1242.8 739.5h0M1252.9 747.3h0M1263 755.2h0M1273.1 765.7h0M1283.1 771.9h0M1293.2 776.2h0M1303.3 780.8h0M1313.4 794.1h0M1323.5 801.2h0M1333.6 811.9h0M1343.6 826.2h0M1353.7 841.1h0M1363.8 853.1h0M1373.9 865.7h0M1384 870.4h0M1394.1 875.8h0M1404.2 880.1h0M1414.2 882h0M1424.3 882.9h0M1434.4 881.3h0M1444.5 881.3h0M1454.6 881.4h0M1464.7 881.4h0M1474.8 882.1h0M1484.8 882.3h0M1494.9 881.5h0M1505 880.9h0M1515.1 881.9h0M1525.2 881.8h0M1535.3 882.2h0M1545.3 883.2h0M1555.4 882.5h0M1565.5 882.1h0M1575.6 882.4h0M1585.7 882.5h0M1595.8 881h0M1605.9 883h0M1615.9 882.8h0M1626 883h0M1636.1 882.8h0M1646.2 898.4h0M1656.3 880.9h0M1666.4 880.9h0M1676.5 879.1h0M1686.5 882.3h0M1696.6 878.9h0M1706.7 878.9h0M1716.8 879.8h0M1726.9 879.5h0M1737 880.5h0M1747 878.8h0M1757.1 878.5h0M1767.2 879.4h0M1777.3 879.1h0M1787.4 880.7h0M1797.5 878.7h0M1807.6 883.7h0M1817.6 882.2h0M1827.7 879.4h0M1837.8 880h0M1847.9 880.6h0M1858 880.7h0M1868.1 879.2h0M1878.2 883.6h0M1888.2 884.5h0M1898.3 881.3h0M1908.4 881.4h0M1918.5 879h0M1928.6 879.1h0M1938.7 880.6h0M1948.8 880.1h0M1958.8 883.5h0M1968.9 879.5h0M1979 878.6h0M1989.1 884.2h0M1999.2 881.7h0M2009.3 879.4h0M2019.3 881.8h0M2029.4 878.7h0M2039.5 881.7h0M2049.6 884.4h0" stroke="#0000ff" stroke-width="13.4" stroke-linecap="round" fill="none"/>
<polyline points="1242.8,666.3 1252.9,669.1 1263,671.2 1273.1,675.8 1283.1,679.6 1293.2,685.4 1303.3,688.7 1313.4,693.2 1323.5,696 1333.6,700.1 1343.6,705.8 1353.7,710.6 1363.8,717.5 1373.9,724.8 1384,732.1 1394.1,734.3 1404.2,734.8 1414.2,737.3 1424.3,742 1434.4,746.6 1444.5,748.9 1454.6,751.9 1464.7,754.9 1474.8,761.9 1484.8,769.3 1494.9,774.3 1505,777.5 1515.1,779.6 1525.2,787.4 1535.3,791.4 1545.3,794.7 1555.4,797.3 1565.5,807.3 1575.6,821.5 1585.7,840.8 1595.8,854.9 1605.9,865.3 1615.9,875.6 1626,869.1 1636.1,867.8 1646.2,898.4 1656.3,877 1666.4,878 1676.5,879 1686.5,887.5 1696.6,888.1 1706.7,885.8 1716.8,890.1 1726.9,885.2 1737,885.6 1747,890.6 1757.1,891.3 1767.2,890.6 1777.3,890.3 1787.4,886.6 1797.5,891 1807.6,893 1817.6,892.6 1827.7,888 1837.8,888.6 1847.9,890.6 1858,889.4 1868.1,892.9 1878.2,889.7 1888.2,892.8 1898.3,892.9 1908.4,890.2 1918.5,886.6 1928.6,887.8 1938.7,892.1 1948.8,889.8 1958.8,890.4 1968.9,890.1 1979,892 1989.1,890.4 1999.2,888.4 2009.3,890.1 2019.3,891.8 2029.4,889.6 2039.5,890 2049.6,891.3" fill="none" stroke="#ff00ff" stroke-width="2.0" stroke-linejoin="round" /><path d="M1242.8 666.3h0M1252.9 669.1h0M1263 671.2h0M1273.1 675.8h0M1283.1 679.6h0M1293.2 685.4h0M1303.3 688.7h0M1313.4 693.2h0M1323.5 696h0M1333.6 700.1h0M1343.6 705.8h0M1353.7 710.6h0M1363.8 717.5h0M1373.9 724.8h0M1384 732.1h0M1394.1 734.3h0M1404.2 734.8h0M1414.2 737.3h0M1424.3 742h0M1434.4 746.6h0M1444.5 748.9h0M1454.6 751.9h0M1464.7 754.9h0M1474.8 761.9h0M1484.8 769.3h0M1494.9 774.3h0M1505 777.5h0M1515.1 779.6h0M1525.2 787.4h0M1535.3 791.4h0M1545.3 794.7h0M1555.4 797.3h0M1565.5 807.3h0M1575.6 821.5h0M1585.7 840.8h0M1595.8 854.9h0M1605.9 865.3h0M1615.9 875.6h0M1626 869.1h0M1636.1 867.8h0M1646.2 898.4h0M1656.3 877h0M1666.4 878h0M1676.5 879h0M1686.5 887.5h0M1696.6 888.1h0M1706.7 885.8h0M1716.8 890.1h0M1726.9 885.2h0M1737 885.6h0M1747 890.6h0M1757.1 891.3h0M1767.2 890.6h0M1777.3 890.3h0M1787.4 886.6h0M1797.5 891h0M1807.6 893h0M1817.6 892.6h0M1827.7 888h0M1837.8 888.6h0M1847.9 890.6h0M1858 889.4h0M1868.1 892.9h0M1878.2 889.7h0M1888.2 892.8h0M1898.3 892.9h0M1908.4 890.2h0M1918.5 886.6h0M1928.6 887.8h0M1938.7 892.1h0M1948.8 889.8h0M1958.8 890.4h0M1968.9 890.1h0M1979 892h0M1989.1 890.4h0M1999.2 888.4h0M2009.3 890.1h0M2019.3 891.8h0M2029.4 889.6h0M2039.5 890h0M2049.6 891.3h0" stroke="#ff00ff" stroke-width="13.4" stroke-linecap="round" fill="none"/>
<polyline points="1242.8,658.6 1252.9,660.2 1263,661.5 1273.1,664.1 1283.1,664.7 1293.2,665.3 1303.3,665.8 1313.4,664.4 1323.5,665.4 1333.6,666.3 1343.6,666 1353.7,664.4 1363.8,664.4 1373.9,666.5 1384,666.9 1394.1,668.5 1404.2,670.3 1414.2,674.6 1424.3,677.7 1434.4,680.9 1444.5,683.4 1454.6,689 1464.7,691.4 1474.8,686.8 1484.8,691.1 1494.9,694.4 1505,695.9 1515.1,703.2 1525.2,707.2 1535.3,709.4 1545.3,712.7 1555.4,717.9 1565.5,722.3 1575.6,726.8 1585.7,730.2 1595.8,734.5 1605.9,738.9 1615.9,749.1 1626,755.7 1636.1,772.5 1646.2,898.4 1656.3,757.6 1666.4,707 1676.5,673.3 1686.5,656.7 1696.6,642.5 1706.7,638.6 1716.8,634 1726.9,630 1737,623.6 1747,621.2 1757.1,617.4 1767.2,616 1777.3,614.8 1787.4,616.2 1797.5,615.6 1807.6,615.8 1817.6,615.4 1827.7,615.3 1837.8,614 1847.9,611.1 1858,609.6 1868.1,614.5 1878.2,612.5 1888.2,612.6 1898.3,613.9 1908.4,607.3 1918.5,607 1928.6,609.9 1938.7,611.3 1948.8,613 1958.8,612.4 1968.9,613.6 1979,617.9 1989.1,617.7 1999.2,614.7 2009.3,618.2 2019.3,618.9 2029.4,619.6 2039.5,621 2049.6,619.4" fill="none" stroke="#008000" stroke-width="2.0" stroke-linejoin="round" /><path d="M1242.8 658.6h0M1252.9 660.2h0M1263 661.5h0M1273.1 664.1h0M1283.1 664.7h0M1293.2 665.3h0M1303.3 665.8h0M1313.4 664.4h0M1323.5 665.4h0M1333.6 666.3h0M1343.6 666h0M1353.7 664.4h0M1363.8 664.4h0M1373.9 666.5h0M1384 666.9h0M1394.1 668.5h0M1404.2 670.3h0M1414.2 674.6h0M1424.3 677.7h0M1434.4 680.9h0M1444.5 683.4h0M1454.6 689h0M1464.7 691.4h0M1474.8 686.8h0M1484.8 691.1h0M1494.9 694.4h0M1505 695.9h0M1515.1 703.2h0M1525.2 707.2h0M1535.3 709.4h0M1545.3 712.7h0M1555.4 717.9h0M1565.5 722.3h0M1575.6 726.8h0M1585.7 730.2h0M1595.8 734.5h0M1605.9 738.9h0M1615.9 749.1h0M1626 755.7h0M1636.1 772.5h0M1646.2 898.4h0M1656.3 757.6h0M1666.4 707h0M1676.5 673.3h0M1686.5 656.7h0M1696.6 642.5h0M1706.7 638.6h0M1716.8 634h0M1726.9 630h0M1737 623.6h0M1747 621.2h0M1757.1 617.4h0M1767.2 616h0M1777.3 614.8h0M1787.4 616.2h0M1797.5 615.6h0M1807.6 615.8h0M1817.6 615.4h0M1827.7 615.3h0M1837.8 614h0M1847.9 611.1h0M1858 609.6h0M1868.1 614.5h0M1878.2 612.5h0M1888.2 612.6h0M1898.3 613.9h0M1908.4 607.3h0M1918.5 607h0M1928.6 609.9h0M1938.7 611.3h0M1948.8 613h0M1958.8 612.4h0M1968.9 613.6h0M1979 617.9h0M1989.1 617.7h0M1999.2 614.7h0M2009.3 618.2h0M2019.3 618.9h0M2029.4 619.6h0M2039.5 621h0M2049.6 619.4h0" stroke="#008000" stroke-width="13.4" stroke-linecap="round" fill="none"/>
<polyline points="1242.8,685.7 1252.9,685.4 1263,688.1 1273.1,689.5 1283.1,692.3 1293.2,699.2 1303.3,701 1313.4,702.9 1323.5,704.8 1333.6,707.6 1343.6,711.6 1353.7,713.4 1363.8,716.4 1373.9,718.1 1384,721.1 1394.1,721.8 1404.2,723.8 1414.2,724.7 1424.3,727.4 1434.4,727.9 1444.5,728 1454.6,729.7 1464.7,731.8 1474.8,730.8 1484.8,733.5 1494.9,733.6 1505,736.3 1515.1,739.8 1525.2,741.4 1535.3,744.8 1545.3,748.4 1555.4,750.5 1565.5,748 1575.6,748.4 1585.7,751.2 1595.8,754 1605.9,756.9 1615.9,760.4 1626,768.7 1636.1,786.5 1646.2,898.4 1656.3,784.5 1666.4,716.9 1676.5,667.2 1686.5,636.7 1696.6,609.3 1706.7,592.5 1716.8,579.7 1726.9,571.3 1737,563.5 1747,554.2 1757.1,550.3 1767.2,547.5 1777.3,543.3 1787.4,540.4 1797.5,536.7 1807.6,534.7 1817.6,530.8 1827.7,526 1837.8,521.4 1847.9,520.4 1858,517 1868.1,514.9 1878.2,510.4 1888.2,507.5 1898.3,504.5 1908.4,502 1918.5,499 1928.6,497.3 1938.7,493.5 1948.8,490.7 1958.8,486.9 1968.9,484.3 1979,481.1 1989.1,478.5 1999.2,476.6 2009.3,475.1 2019.3,474.3 2029.4,472.8 2039.5,472.7 2049.6,472.1" fill="none" stroke="#ff8000" stroke-width="2.0" stroke-linejoin="round" /><path d="M1242.8 685.7h0M1252.9 685.4h0M1263 688.1h0M1273.1 689.5h0M1283.1 692.3h0M1293.2 699.2h0M1303.3 701h0M1313.4 702.9h0M1323.5 704.8h0M1333.6 707.6h0M1343.6 711.6h0M1353.7 713.4h0M1363.8 716.4h0M1373.9 718.1h0M1384 721.1h0M1394.1 721.8h0M1404.2 723.8h0M1414.2 724.7h0M1424.3 727.4h0M1434.4 727.9h0M1444.5 728h0M1454.6 729.7h0M1464.7 731.8h0M1474.8 730.8h0M1484.8 733.5h0M1494.9 733.6h0M1505 736.3h0M1515.1 739.8h0M1525.2 741.4h0M1535.3 744.8h0M1545.3 748.4h0M1555.4 750.5h0M1565.5 748h0M1575.6 748.4h0M1585.7 751.2h0M1595.8 754h0M1605.9 756.9h0M1615.9 760.4h0M1626 768.7h0M1636.1 786.5h0M1646.2 898.4h0M1656.3 784.5h0M1666.4 716.9h0M1676.5 667.2h0M1686.5 636.7h0M1696.6 609.3h0M1706.7 592.5h0M1716.8 579.7h0M1726.9 571.3h0M1737 563.5h0M1747 554.2h0M1757.1 550.3h0M1767.2 547.5h0M1777.3 543.3h0M1787.4 540.4h0M1797.5 536.7h0M1807.6 534.7h0M1817.6 530.8h0M1827.7 526h0M1837.8 521.4h0M1847.9 520.4h0M1858 517h0M1868.1 514.9h0M1878.2 510.4h0M1888.2 507.5h0M1898.3 504.5h0M1908.4 502h0M1918.5 499h0M1928.6 497.3h0M1938.7 493.5h0M1948.8 490.7h0M1958.8 486.9h0M1968.9 484.3h0M1979 481.1h0M1989.1 478.5h0M1999.2 476.6h0M2009.3 475.1h0M2019.3 474.3h0M2029.4 472.8h0M2039.5 472.7h0M2049.6 472.1h0" stroke="#ff8000" stroke-width="13.4" stroke-linecap="round" fill="none"/>
<polyline points="1242.8,621.7 1252.9,625.3 1263,627.3 1273.1,629.5 1283.1,633.4 1293.2,633.5 1303.3,635.6 1313.4,636.1 1323.5,635.5 1333.6,639.2 1343.6,641.2 1353.7,642.5 1363.8,644.9 1373.9,647.2 1384,647.9 1394.1,651.1 1404.2,653.8 1414.2,657.8 1424.3,664 1434.4,670.6 1444.5,672.6 1454.6,677.2 1464.7,683.5 1474.8,693.6 1484.8,701.6 1494.9,709.6 1505,714.9 1515.1,720.5 1525.2,728.8 1535.3,735.4 1545.3,738.7 1555.4,742.6 1565.5,748.2 1575.6,754.2 1585.7,759.1 1595.8,761.3 1605.9,772.2 1615.9,781.1 1626,791.5 1636.1,811.6 1646.2,898.4 1656.3,828.6 1666.4,765.7 1676.5,722.8 1686.5,696.1 1696.6,673 1706.7,659 1716.8,652.6 1726.9,644.5 1737,638.8 1747,634.7 1757.1,628.2 1767.2,622.7 1777.3,620.7 1787.4,618.3 1797.5,614.7 1807.6,609.3 1817.6,606.5 1827.7,602.5 1837.8,599.6 1847.9,594 1858,589.4 1868.1,588.5 1878.2,586.3 1888.2,582.3 1898.3,579.9 1908.4,576.4 1918.5,572.8 1928.6,572.7 1938.7,571.1 1948.8,566.7 1958.8,564.5 1968.9,561.9 1979,559.4 1989.1,555.5 1999.2,553 2009.3,549.1 2019.3,547.9 2029.4,544.4 2039.5,540.6 2049.6,539.6" fill="none" stroke="#8000ff" stroke-width="2.0" stroke-linejoin="round" /><path d="M1242.8 621.7h0M1252.9 625.3h0M1263 627.3h0M1273.1 629.5h0M1283.1 633.4h0M1293.2 633.5h0M1303.3 635.6h0M1313.4 636.1h0M1323.5 635.5h0M1333.6 639.2h0M1343.6 641.2h0M1353.7 642.5h0M1363.8 644.9h0M1373.9 647.2h0M1384 647.9h0M1394.1 651.1h0M1404.2 653.8h0M1414.2 657.8h0M1424.3 664h0M1434.4 670.6h0M1444.5 672.6h0M1454.6 677.2h0M1464.7 683.5h0M1474.8 693.6h0M1484.8 701.6h0M1494.9 709.6h0M1505 714.9h0M1515.1 720.5h0M1525.2 728.8h0M1535.3 735.4h0M1545.3 738.7h0M1555.4 742.6h0M1565.5 748.2h0M1575.6 754.2h0M1585.7 759.1h0M1595.8 761.3h0M1605.9 772.2h0M1615.9 781.1h0M1626 791.5h0M1636.1 811.6h0M1646.2 898.4h0M1656.3 828.6h0M1666.4 765.7h0M1676.5 722.8h0M1686.5 696.1h0M1696.6 673h0M1706.7 659h0M1716.8 652.6h0M1726.9 644.5h0M1737 638.8h0M1747 634.7h0M1757.1 628.2h0M1767.2 622.7h0M1777.3 620.7h0M1787.4 618.3h0M1797.5 614.7h0M1807.6 609.3h0M1817.6 606.5h0M1827.7 602.5h0M1837.8 599.6h0M1847.9 594h0M1858 589.4h0M1868.1 588.5h0M1878.2 586.3h0M1888.2 582.3h0M1898.3 579.9h0M1908.4 576.4h0M1918.5 572.8h0M1928.6 572.7h0M1938.7 571.1h0M1948.8 566.7h0M1958.8 564.5h0M1968.9 561.9h0M1979 559.4h0M1989.1 555.5h0M1999.2 553h0M2009.3 549.1h0M2019.3 547.9h0M2029.4 544.4h0M2039.5 540.6h0M2049.6 539.6h0" stroke="#8000ff" stroke-width="13.4" stroke-linecap="round" fill="none"/>
<polyline points="1242.8,521.3 1252.9,525.9 1263,528.9 1273.1,534.6 1283.1,540.5 1293.2,548.4 1303.3,555 1313.4,564.4 1323.5,571.7 1333.6,577.1 1343.6,582.6 1353.7,585.7 1363.8,592.4 1373.9,596.9 1384,603.7 1394.1,606.4 1404.2,608.1 1414.2,612.6 1424.3,615.1 1434.4,617.6 1444.5,621.1 1454.6,625.9 1464.7,629.3 1474.8,632.2 1484.8,634.9 1494.9,638.6 1505,641.8 1515.1,646.5 1525.2,647.9 1535.3,653.2 1545.3,658.4 1555.4,662.9 1565.5,671 1575.6,676.2 1585.7,682 1595.8,686 1605.9,693.6 1615.9,701.3 1626,713.7 1636.1,734.7 1646.2,898.4 1656.3,758.3 1666.4,681.6 1676.5,640.6 1686.5,616.9 1696.6,595.5 1706.7,575.9 1716.8,561.9 1726.9,549.5 1737,536.8 1747,526.7 1757.1,519.9 1767.2,512.5 1777.3,507.8 1787.4,503.4 1797.5,497.8 1807.6,493.5 1817.6,489.8 1827.7,487.2 1837.8,484 1847.9,480.3 1858,477.7 1868.1,473.5 1878.2,472.6 1888.2,469.8 1898.3,468.3 1908.4,466.7 1918.5,465 1928.6,463.5 1938.7,464.4 1948.8,462.1 1958.8,462.2 1968.9,461.3 1979,460.8 1989.1,461.3 1999.2,461.5 2009.3,459.7 2019.3,460.1 2029.4,459 2039.5,459.5 2049.6,459.2" fill="none" stroke="#00ff00" stroke-width="2.0" stroke-linejoin="round" /><path d="M1242.8 521.3h0M1252.9 525.9h0M1263 528.9h0M1273.1 534.6h0M1283.1 540.5h0M1293.2 548.4h0M1303.3 555h0M1313.4 564.4h0M1323.5 571.7h0M1333.6 577.1h0M1343.6 582.6h0M1353.7 585.7h0M1363.8 592.4h0M1373.9 596.9h0M1384 603.7h0M1394.1 606.4h0M1404.2 608.1h0M1414.2 612.6h0M1424.3 615.1h0M1434.4 617.6h0M1444.5 621.1h0M1454.6 625.9h0M1464.7 629.3h0M1474.8 632.2h0M1484.8 634.9h0M1494.9 638.6h0M1505 641.8h0M1515.1 646.5h0M1525.2 647.9h0M1535.3 653.2h0M1545.3 658.4h0M1555.4 662.9h0M1565.5 671h0M1575.6 676.2h0M1585.7 682h0M1595.8 686h0M1605.9 693.6h0M1615.9 701.3h0M1626 713.7h0M1636.1 734.7h0M1646.2 898.4h0M1656.3 758.3h0M1666.4 681.6h0M1676.5 640.6h0M1686.5 616.9h0M1696.6 595.5h0M1706.7 575.9h0M1716.8 561.9h0M1726.9 549.5h0M1737 536.8h0M1747 526.7h0M1757.1 519.9h0M1767.2 512.5h0M1777.3 507.8h0M1787.4 503.4h0M1797.5 497.8h0M1807.6 493.5h0M1817.6 489.8h0M1827.7 487.2h0M1837.8 484h0M1847.9 480.3h0M1858 477.7h0M1868.1 473.5h0M1878.2 472.6h0M1888.2 469.8h0M1898.3 468.3h0M1908.4 466.7h0M1918.5 465h0M1928.6 463.5h0M1938.7 464.4h0M1948.8 462.1h0M1958.8 462.2h0M1968.9 461.3h0M1979 460.8h0M1989.1 461.3h0M1999.2 461.5h0M2009.3 459.7h0M2019.3 460.1h0M2029.4 459h0M2039.5 459.5h0M2049.6 459.2h0" stroke="#00ff00" stroke-width="13.4" stroke-linecap="round" fill="none"/>
<polyline points="1242.8,422.3 1252.9,424.9 1263,427.6 1273.1,432 1283.1,435.3 1293.2,438.8 1303.3,444.7 1313.4,448.9 1323.5,450.8 1333.6,453.2 1343.6,456.5 1353.7,459.4 1363.8,463.2 1373.9,465.7 1384,468.8 1394.1,471.6 1404.2,475.2 1414.2,478.7 1424.3,482.5 1434.4,486.1 1444.5,490 1454.6,494.1 1464.7,497.5 1474.8,500.8 1484.8,507.3 1494.9,515.4 1505,524.6 1515.1,530.2 1525.2,538.6 1535.3,545.9 1545.3,553.6 1555.4,559.1 1565.5,565.8 1575.6,572.2 1585.7,579 1595.8,585.5 1605.9,595.8 1615.9,605 1626,618.7 1636.1,645.4 1646.2,898.4 1656.3,645.5 1666.4,593.9 1676.5,561.1 1686.5,538 1696.6,521.9 1706.7,503.5 1716.8,494.2 1726.9,484.6 1737,474 1747,467.1 1757.1,460.5 1767.2,454.4 1777.3,449.5 1787.4,445.3 1797.5,441.8 1807.6,437.9 1817.6,435.1 1827.7,431.5 1837.8,428.1 1847.9,425.4 1858,421.9 1868.1,419.2 1878.2,415.8 1888.2,415.2 1898.3,411.9 1908.4,411.5 1918.5,409.2 1928.6,406.9 1938.7,404.8 1948.8,403.4 1958.8,402.5 1968.9,401 1979,398.4 1989.1,396.8 1999.2,396.3 2009.3,395.7 2019.3,394.6 2029.4,393.6 2039.5,393.4 2049.6,391.2" fill="none" stroke="#008080" stroke-width="2.0" stroke-linejoin="round" /><path d="M1242.8 422.3h0M1252.9 424.9h0M1263 427.6h0M1273.1 432h0M1283.1 435.3h0M1293.2 438.8h0M1303.3 444.7h0M1313.4 448.9h0M1323.5 450.8h0M1333.6 453.2h0M1343.6 456.5h0M1353.7 459.4h0M1363.8 463.2h0M1373.9 465.7h0M1384 468.8h0M1394.1 471.6h0M1404.2 475.2h0M1414.2 478.7h0M1424.3 482.5h0M1434.4 486.1h0M1444.5 490h0M1454.6 494.1h0M1464.7 497.5h0M1474.8 500.8h0M1484.8 507.3h0M1494.9 515.4h0M1505 524.6h0M1515.1 530.2h0M1525.2 538.6h0M1535.3 545.9h0M1545.3 553.6h0M1555.4 559.1h0M1565.5 565.8h0M1575.6 572.2h0M1585.7 579h0M1595.8 585.5h0M1605.9 595.8h0M1615.9 605h0M1626 618.7h0M1636.1 645.4h0M1646.2 898.4h0M1656.3 645.5h0M1666.4 593.9h0M1676.5 561.1h0M1686.5 538h0M1696.6 521.9h0M1706.7 503.5h0M1716.8 494.2h0M1726.9 484.6h0M1737 474h0M1747 467.1h0M1757.1 460.5h0M1767.2 454.4h0M1777.3 449.5h0M1787.4 445.3h0M1797.5 441.8h0M1807.6 437.9h0M1817.6 435.1h0M1827.7 431.5h0M1837.8 428.1h0M1847.9 425.4h0M1858 421.9h0M1868.1 419.2h0M1878.2 415.8h0M1888.2 415.2h0M1898.3 411.9h0M1908.4 411.5h0M1918.5 409.2h0M1928.6 406.9h0M1938.7 404.8h0M1948.8 403.4h0M1958.8 402.5h0M1968.9 401h0M1979 398.4h0M1989.1 396.8h0M1999.2 396.3h0M2009.3 395.7h0M2019.3 394.6h0M2029.4 393.6h0M2039.5 393.4h0M2049.6 391.2h0" stroke="#008080" stroke-width="13.4" stroke-linecap="round" fill="none"/>
<polyline points="1242.8,342.9 1252.9,345.9 1263,349.7 1273.1,351.5 1283.1,354.8 1293.2,356.7 1303.3,359 1313.4,362 1323.5,366.6 1333.6,368.8 1343.6,370.6 1353.7,372.6 1363.8,376.5 1373.9,379.7 1384,381.9 1394.1,384.2 1404.2,388 1414.2,391.4 1424.3,392.8 1434.4,395.4 1444.5,399.3 1454.6,402.6 1464.7,406.5 1474.8,409 1484.8,414 1494.9,417.5 1505,420.8 1515.1,424.2 1525.2,430.2 1535.3,432.7 1545.3,438.2 1555.4,441 1565.5,445.3 1575.6,452.5 1585.7,457.9 1595.8,466.1 1605.9,475.1 1615.9,485.4 1626,499.7 1636.1,531.1 1646.2,898.4 1656.3,540.7 1666.4,504.4 1676.5,479.9 1686.5,466.2 1696.6,455.3 1706.7,447.9 1716.8,438 1726.9,431.2 1737,424.9 1747,419.8 1757.1,414.9 1767.2,411.7 1777.3,408.1 1787.4,405.1 1797.5,401.2 1807.6,396.2 1817.6,393 1827.7,391.6 1837.8,388.4 1847.9,384.4 1858,383.1 1868.1,380 1878.2,378.1 1888.2,376.2 1898.3,374.1 1908.4,372.3 1918.5,371.5 1928.6,370.3 1938.7,370.1 1948.8,367.1 1958.8,367.5 1968.9,364.6 1979,363.4 1989.1,362.9 1999.2,361.5 2009.3,360 2019.3,358.6 2029.4,358.7 2039.5,358.5 2049.6,359.6" fill="none" stroke="#800080" stroke-width="2.0" stroke-linejoin="round" /><path d="M1242.8 342.9h0M1252.9 345.9h0M1263 349.7h0M1273.1 351.5h0M1283.1 354.8h0M1293.2 356.7h0M1303.3 359h0M1313.4 362h0M1323.5 366.6h0M1333.6 368.8h0M1343.6 370.6h0M1353.7 372.6h0M1363.8 376.5h0M1373.9 379.7h0M1384 381.9h0M1394.1 384.2h0M1404.2 388h0M1414.2 391.4h0M1424.3 392.8h0M1434.4 395.4h0M1444.5 399.3h0M1454.6 402.6h0M1464.7 406.5h0M1474.8 409h0M1484.8 414h0M1494.9 417.5h0M1505 420.8h0M1515.1 424.2h0M1525.2 430.2h0M1535.3 432.7h0M1545.3 438.2h0M1555.4 441h0M1565.5 445.3h0M1575.6 452.5h0M1585.7 457.9h0M1595.8 466.1h0M1605.9 475.1h0M1615.9 485.4h0M1626 499.7h0M1636.1 531.1h0M1646.2 898.4h0M1656.3 540.7h0M1666.4 504.4h0M1676.5 479.9h0M1686.5 466.2h0M1696.6 455.3h0M1706.7 447.9h0M1716.8 438h0M1726.9 431.2h0M1737 424.9h0M1747 419.8h0M1757.1 414.9h0M1767.2 411.7h0M1777.3 408.1h0M1787.4 405.1h0M1797.5 401.2h0M1807.6 396.2h0M1817.6 393h0M1827.7 391.6h0M1837.8 388.4h0M1847.9 384.4h0M1858 383.1h0M1868.1 380h0M1878.2 378.1h0M1888.2 376.2h0M1898.3 374.1h0M1908.4 372.3h0M1918.5 371.5h0M1928.6 370.3h0M1938.7 370.1h0M1948.8 367.1h0M1958.8 367.5h0M1968.9 364.6h0M1979 363.4h0M1989.1 362.9h0M1999.2 361.5h0M2009.3 360h0M2019.3 358.6h0M2029.4 358.7h0M2039.5 358.5h0M2049.6 359.6h0" stroke="#800080" stroke-width="13.4" stroke-linecap="round" fill="none"/>
<text x="1118" y="911.4" font-size="55" font-weight="bold">10<tspan font-size="36" dy="-25.5" dx="3.5">-11</tspan></text>
<text x="1118" y="803" font-size="55" font-weight="bold">10<tspan font-size="36" dy="-25.5" dx="3.5">-10</tspan></text>
<text x="1118" y="694.6" font-size="55" font-weight="bold">10<tspan font-size="36" dy="-25.5" dx="3.5">-9</tspan></text>
<text x="1118" y="586.2" font-size="55" font-weight="bold">10<tspan font-size="36" dy="-25.5" dx="3.5">-8</tspan></text>
<text x="1118" y="477.8" font-size="55" font-weight="bold">10<tspan font-size="36" dy="-25.5" dx="3.5">-7</tspan></text>
<text x="1118" y="369.4" font-size="55" font-weight="bold">10<tspan font-size="36" dy="-25.5" dx="3.5">-6</tspan></text>
<text x="1118" y="261" font-size="55" font-weight="bold">10<tspan font-size="36" dy="-25.5" dx="3.5">-5</tspan></text>
<text x="1118" y="152.6" font-size="55" font-weight="bold">10<tspan font-size="36" dy="-25.5" dx="3.5">-4</tspan></text>
<text x="1242.8" y="949.6" font-size="55" font-weight="bold" text-anchor="middle" fill="#000" >-2</text>
<text x="1444.5" y="949.6" font-size="55" font-weight="bold" text-anchor="middle" fill="#000" >-1</text>
<text x="1646.2" y="949.6" font-size="55" font-weight="bold" text-anchor="middle" fill="#000" >0</text>
<text x="1847.9" y="949.6" font-size="55" font-weight="bold" text-anchor="middle" fill="#000" >1</text>
<text x="2049.6" y="949.6" font-size="55" font-weight="bold" text-anchor="middle" fill="#000" >2</text>
<text x="1554" y="1014.5" font-size="56" font-weight="bold">V<tspan font-size="39" dy="12" dx="1">DS</tspan><tspan dy="-12" dx="17">(V)</tspan></text>
<text transform="translate(1102,569) rotate(-90)" font-size="56" font-weight="bold">I<tspan font-size="39" dy="12" dx="1">D</tspan><tspan dy="-12" dx="16">(A)</tspan></text>
<text x="1281" y="191.3" font-size="34" font-weight="bold">V<tspan font-size="19" dy="9" dx="4" letter-spacing="7">GS</tspan><tspan dy="-9" dx="4" font-size="40">:</tspan></text>
<path d="M1385 173.3h74" stroke="#000000" stroke-width="2"/>
<circle cx="1420.7" cy="173.3" r="6.4" fill="#000000"/>
<text x="1470.5" y="184.3" font-size="34" font-weight="bold" text-anchor="start" fill="#000" >-6V</text>
<path d="M1385 210h74" stroke="#0000ff" stroke-width="2"/>
<circle cx="1420.7" cy="210" r="6.4" fill="#0000ff"/>
<text x="1470.5" y="221" font-size="34" font-weight="bold" text-anchor="start" fill="#000" >-4.5V</text>
<path d="M1385 246.3h74" stroke="#ff00ff" stroke-width="2"/>
<circle cx="1420.7" cy="246.3" r="6.4" fill="#ff00ff"/>
<text x="1470.5" y="257.3" font-size="34" font-weight="bold" text-anchor="start" fill="#000" >-3V</text>
<path d="M1385 283h74" stroke="#008000" stroke-width="2"/>
<circle cx="1420.7" cy="283" r="6.4" fill="#008000"/>
<text x="1470.5" y="294" font-size="34" font-weight="bold" text-anchor="start" fill="#000" >-1.5V</text>
<path d="M1385 319.3h74" stroke="#ff8000" stroke-width="2"/>
<circle cx="1420.7" cy="319.3" r="6.4" fill="#ff8000"/>
<text x="1470.5" y="330.3" font-size="34" font-weight="bold" text-anchor="start" fill="#000" >0V</text>
<path d="M1585.7 173.3h74" stroke="#8000ff" stroke-width="2"/>
<circle cx="1623" cy="173.3" r="6.4" fill="#8000ff"/>
<text x="1671.5" y="183.8" font-size="34" font-weight="bold" text-anchor="start" fill="#000" >1.5V</text>
<path d="M1585.7 210h74" stroke="#00ff00" stroke-width="2"/>
<circle cx="1623" cy="210" r="6.4" fill="#00ff00"/>
<text x="1671.5" y="220.5" font-size="34" font-weight="bold" text-anchor="start" fill="#000" >3V</text>
<path d="M1585.7 246.3h74" stroke="#008080" stroke-width="2"/>
<circle cx="1623" cy="246.3" r="6.4" fill="#008080"/>
<text x="1671.5" y="256.8" font-size="34" font-weight="bold" text-anchor="start" fill="#000" >4.5V</text>
<path d="M1585.7 283h74" stroke="#800080" stroke-width="2"/>
<circle cx="1623" cy="283" r="6.4" fill="#800080"/>
<text x="1671.5" y="293.5" font-size="34" font-weight="bold" text-anchor="start" fill="#000" >6V</text>
<text x="1921" y="226.5" font-size="74" font-weight="bold" text-anchor="start" fill="#000" >(b)</text>
</g>
<g id="panel-c">
<rect x="6.5" y="1076.5" width="70" height="85" fill="none" stroke="#ececec" stroke-width="1"/>
<rect x="160" y="1105" width="821.2" height="785" fill="none" stroke="#000" stroke-width="6.0"/>
<path d="M160 1822.2h8M981.2 1822.2h-8M160 1750.4h8M981.2 1750.4h-8M160 1678.6h8M981.2 1678.6h-8M160 1606.8h8M981.2 1606.8h-8M160 1535h18M981.2 1535h-18M160 1463.2h8M981.2 1463.2h-8M160 1391.4h8M981.2 1391.4h-8M160 1319.6h8M981.2 1319.6h-8M160 1247.8h8M981.2 1247.8h-8M160 1176h18M981.2 1176h-18M214.7 1105v7.5M214.7 1890v-7.5M269.5 1105v7.5M269.5 1890v-7.5M324.2 1105v7.5M324.2 1890v-7.5M379 1105v7.5M379 1890v-7.5M433.7 1105v15M433.7 1890v-15M488.5 1105v7.5M488.5 1890v-7.5M543.2 1105v7.5M543.2 1890v-7.5M598 1105v7.5M598 1890v-7.5M652.7 1105v7.5M652.7 1890v-7.5M707.5 1105v15M707.5 1890v-15M762.2 1105v7.5M762.2 1890v-7.5M817 1105v7.5M817 1890v-7.5M871.7 1105v7.5M871.7 1890v-7.5M926.5 1105v7.5M926.5 1890v-7.5" stroke="#000" stroke-width="4.4" fill="none"/>
<polyline points="160,1889.5 165.5,1889.5 170.9,1889.5 176.4,1889.5 181.9,1889.4 187.4,1889.4 192.8,1889.4 198.3,1889.4 203.8,1889.4 209.3,1889.4 214.7,1889.3 220.2,1889.3 225.7,1889.3 231.2,1889.3 236.6,1889.3 242.1,1889.3 247.6,1889.2 253.1,1889.2 258.5,1889.2 264,1889.2 269.5,1889.2 275,1889.2 280.4,1889.2 285.9,1889.1 291.4,1889.1 296.9,1889.1 302.3,1889.1 307.8,1889.1 313.3,1889.1 318.8,1889 324.2,1889 329.7,1889 335.2,1889 340.7,1889 346.1,1889 351.6,1888.9 357.1,1888.9 362.6,1888.9 368,1888.9 373.5,1888.9 379,1888.9 384.5,1888.9 389.9,1888.8 395.4,1888.8 400.9,1888.8 406.4,1888.8 411.8,1888.8 417.3,1888.8 422.8,1888.7 428.3,1888.7 433.7,1888.7 439.2,1888.7 444.7,1888.7 450.2,1888.7 455.6,1888.6 461.1,1888.6 466.6,1888.6 472.1,1888.6 477.5,1888.6 483,1888.6 488.5,1888.6 494,1888.5 499.4,1888.5 504.9,1888.5 510.4,1888.5 515.9,1888.5 521.3,1888.5 526.8,1888.4 532.3,1888.4 537.8,1888.4 543.2,1888.4 548.7,1888.4 554.2,1888.4 559.7,1888.3 565.1,1889.4 570.6,1889.3 576.1,1889.3 581.5,1889.2 587,1889.1 592.5,1889 598,1889 603.4,1888.9 608.9,1888.8 614.4,1888.7 619.9,1888.6 625.3,1888.6 630.8,1888.5 636.3,1888.4 641.8,1888.3 647.2,1888.2 652.7,1888.2 658.2,1888.1 663.7,1888 669.1,1887.9 674.6,1887.8 680.1,1887.8 685.6,1887.7 691,1887.6 696.5,1887.5 702,1887.4 707.5,1887.4 712.9,1887.4 718.4,1887.5 723.9,1887.6 729.4,1887.7 734.8,1887.8 740.3,1887.9 745.8,1888 751.3,1888.1 756.7,1888.2 762.2,1888.3 767.7,1888.4 773.2,1888.5 778.6,1888.6 784.1,1888.7 789.6,1888.8 795.1,1888.9 800.5,1889 806,1889.1 811.5,1889 817,1889 822.4,1888.9 827.9,1888.8 833.4,1888.8 838.9,1888.7 844.3,1888.6 849.8,1888.6 855.3,1888.5 860.8,1888.4 866.2,1888.4 871.7,1888.2 877.2,1887.9 882.7,1887.7 888.1,1887.4 893.6,1887.1 899.1,1886.8 904.6,1886.6 910,1886.3 915.5,1886 921,1885.6 926.5,1884.9 931.9,1884.3 937.4,1883.7 942.9,1883.1 948.4,1882.5 953.8,1881.8 959.3,1880.8 964.8,1879.6 970.3,1878.3 975.7,1877.1 981.2,1875.9" fill="none" stroke="#000000" stroke-width="2.0" stroke-linejoin="round" /><path d="M160 1889.5h0M165.5 1889.5h0M170.9 1889.5h0M176.4 1889.5h0M181.9 1889.4h0M187.4 1889.4h0M192.8 1889.4h0M198.3 1889.4h0M203.8 1889.4h0M209.3 1889.4h0M214.7 1889.3h0M220.2 1889.3h0M225.7 1889.3h0M231.2 1889.3h0M236.6 1889.3h0M242.1 1889.3h0M247.6 1889.2h0M253.1 1889.2h0M258.5 1889.2h0M264 1889.2h0M269.5 1889.2h0M275 1889.2h0M280.4 1889.2h0M285.9 1889.1h0M291.4 1889.1h0M296.9 1889.1h0M302.3 1889.1h0M307.8 1889.1h0M313.3 1889.1h0M318.8 1889h0M324.2 1889h0M329.7 1889h0M335.2 1889h0M340.7 1889h0M346.1 1889h0M351.6 1888.9h0M357.1 1888.9h0M362.6 1888.9h0M368 1888.9h0M373.5 1888.9h0M379 1888.9h0M384.5 1888.9h0M389.9 1888.8h0M395.4 1888.8h0M400.9 1888.8h0M406.4 1888.8h0M411.8 1888.8h0M417.3 1888.8h0M422.8 1888.7h0M428.3 1888.7h0M433.7 1888.7h0M439.2 1888.7h0M444.7 1888.7h0M450.2 1888.7h0M455.6 1888.6h0M461.1 1888.6h0M466.6 1888.6h0M472.1 1888.6h0M477.5 1888.6h0M483 1888.6h0M488.5 1888.6h0M494 1888.5h0M499.4 1888.5h0M504.9 1888.5h0M510.4 1888.5h0M515.9 1888.5h0M521.3 1888.5h0M526.8 1888.4h0M532.3 1888.4h0M537.8 1888.4h0M543.2 1888.4h0M548.7 1888.4h0M554.2 1888.4h0M559.7 1888.3h0M565.1 1889.4h0M570.6 1889.3h0M576.1 1889.3h0M581.5 1889.2h0M587 1889.1h0M592.5 1889h0M598 1889h0M603.4 1888.9h0M608.9 1888.8h0M614.4 1888.7h0M619.9 1888.6h0M625.3 1888.6h0M630.8 1888.5h0M636.3 1888.4h0M641.8 1888.3h0M647.2 1888.2h0M652.7 1888.2h0M658.2 1888.1h0M663.7 1888h0M669.1 1887.9h0M674.6 1887.8h0M680.1 1887.8h0M685.6 1887.7h0M691 1887.6h0M696.5 1887.5h0M702 1887.4h0M707.5 1887.4h0M712.9 1887.4h0M718.4 1887.5h0M723.9 1887.6h0M729.4 1887.7h0M734.8 1887.8h0M740.3 1887.9h0M745.8 1888h0M751.3 1888.1h0M756.7 1888.2h0M762.2 1888.3h0M767.7 1888.4h0M773.2 1888.5h0M778.6 1888.6h0M784.1 1888.7h0M789.6 1888.8h0M795.1 1888.9h0M800.5 1889h0M806 1889.1h0M811.5 1889h0M817 1889h0M822.4 1888.9h0M827.9 1888.8h0M833.4 1888.8h0M838.9 1888.7h0M844.3 1888.6h0M849.8 1888.6h0M855.3 1888.5h0M860.8 1888.4h0M866.2 1888.4h0M871.7 1888.2h0M877.2 1887.9h0M882.7 1887.7h0M888.1 1887.4h0M893.6 1887.1h0M899.1 1886.8h0M904.6 1886.6h0M910 1886.3h0M915.5 1886h0M921 1885.6h0M926.5 1884.9h0M931.9 1884.3h0M937.4 1883.7h0M942.9 1883.1h0M948.4 1882.5h0M953.8 1881.8h0M959.3 1880.8h0M964.8 1879.6h0M970.3 1878.3h0M975.7 1877.1h0M981.2 1875.9h0" stroke="#000000" stroke-width="10.4" stroke-linecap="round" fill="none"/>
<polyline points="160,1889.5 165.5,1889.5 170.9,1889.5 176.4,1889.5 181.9,1889.5 187.4,1889.5 192.8,1889.5 198.3,1889.5 203.8,1889.5 209.3,1889.5 214.7,1889.5 220.2,1889.5 225.7,1889.5 231.2,1889.5 236.6,1889.5 242.1,1889.5 247.6,1889.5 253.1,1889.5 258.5,1889.5 264,1889.5 269.5,1889.5 275,1889.5 280.4,1889.5 285.9,1889.5 291.4,1889.5 296.9,1889.5 302.3,1889.5 307.8,1889.5 313.3,1889.5 318.8,1889.5 324.2,1889.5 329.7,1889.5 335.2,1889.5 340.7,1889.5 346.1,1889.5 351.6,1889.5 357.1,1889.5 362.6,1889.5 368,1889.5 373.5,1889.5 379,1889.5 384.5,1889.5 389.9,1889.5 395.4,1889.5 400.9,1889.5 406.4,1889.5 411.8,1889.5 417.3,1889.5 422.8,1889.5 428.3,1889.5 433.7,1889.5 439.2,1889.5 444.7,1889.5 450.2,1889.5 455.6,1889.5 461.1,1889.5 466.6,1889.5 472.1,1889.5 477.5,1889.5 483,1889.5 488.5,1889.5 494,1889.5 499.4,1889.5 504.9,1889.5 510.4,1886.9 515.9,1882 521.3,1877.2 526.8,1873.1 532.3,1869 537.8,1865.3 543.2,1862.1 548.7,1858.9 554.2,1855.8 559.7,1852.6 565.1,1849.4 570.6,1846.7 576.1,1843.9 581.5,1836 587,1830.4 592.5,1829 598,1827.4 603.4,1825.6 608.9,1823.8 614.4,1824.1 619.9,1824.7 625.3,1826.7 630.8,1829.4 636.3,1832.3 641.8,1835.6 647.2,1838.9 652.7,1842.2 658.2,1845.5 663.7,1848.8 669.1,1852.1 674.6,1855 680.1,1857.7 685.6,1860.3 691,1862.6 696.5,1864.9 702,1867.1 707.5,1869.4 712.9,1871.7 718.4,1873.8 723.9,1875.8 729.4,1877.9 734.8,1879.6 740.3,1880.6 745.8,1881.6 751.3,1882.6 756.7,1883.5 762.2,1884.3 767.7,1885.1 773.2,1885.4 778.6,1885.4 784.1,1885.4 789.6,1885.4 795.1,1885.3 800.5,1883.9 806,1882.6 811.5,1881.2 817,1879.8 822.4,1878.1 827.9,1876.2 833.4,1874.2 838.9,1872.1 844.3,1869.7 849.8,1867.3 855.3,1864.9 860.8,1862.5 866.2,1860.1 871.7,1857.7 877.2,1855.2 882.7,1852.1 888.1,1848.9 893.6,1845.8 899.1,1841.9 904.6,1838 910,1834.1 915.5,1828.8 921,1823.3 926.5,1817.7 931.9,1811.3 937.4,1804.9 942.9,1798 948.4,1790.3 953.8,1782.6 959.3,1775 964.8,1767.3 970.3,1759.1 975.7,1751 981.2,1743.3" fill="none" stroke="#0000ff" stroke-width="2.0" stroke-linejoin="round" /><path d="M160 1889.5h0M165.5 1889.5h0M170.9 1889.5h0M176.4 1889.5h0M181.9 1889.5h0M187.4 1889.5h0M192.8 1889.5h0M198.3 1889.5h0M203.8 1889.5h0M209.3 1889.5h0M214.7 1889.5h0M220.2 1889.5h0M225.7 1889.5h0M231.2 1889.5h0M236.6 1889.5h0M242.1 1889.5h0M247.6 1889.5h0M253.1 1889.5h0M258.5 1889.5h0M264 1889.5h0M269.5 1889.5h0M275 1889.5h0M280.4 1889.5h0M285.9 1889.5h0M291.4 1889.5h0M296.9 1889.5h0M302.3 1889.5h0M307.8 1889.5h0M313.3 1889.5h0M318.8 1889.5h0M324.2 1889.5h0M329.7 1889.5h0M335.2 1889.5h0M340.7 1889.5h0M346.1 1889.5h0M351.6 1889.5h0M357.1 1889.5h0M362.6 1889.5h0M368 1889.5h0M373.5 1889.5h0M379 1889.5h0M384.5 1889.5h0M389.9 1889.5h0M395.4 1889.5h0M400.9 1889.5h0M406.4 1889.5h0M411.8 1889.5h0M417.3 1889.5h0M422.8 1889.5h0M428.3 1889.5h0M433.7 1889.5h0M439.2 1889.5h0M444.7 1889.5h0M450.2 1889.5h0M455.6 1889.5h0M461.1 1889.5h0M466.6 1889.5h0M472.1 1889.5h0M477.5 1889.5h0M483 1889.5h0M488.5 1889.5h0M494 1889.5h0M499.4 1889.5h0M504.9 1889.5h0M510.4 1886.9h0M515.9 1882h0M521.3 1877.2h0M526.8 1873.1h0M532.3 1869h0M537.8 1865.3h0M543.2 1862.1h0M548.7 1858.9h0M554.2 1855.8h0M559.7 1852.6h0M565.1 1849.4h0M570.6 1846.7h0M576.1 1843.9h0M581.5 1836h0M587 1830.4h0M592.5 1829h0M598 1827.4h0M603.4 1825.6h0M608.9 1823.8h0M614.4 1824.1h0M619.9 1824.7h0M625.3 1826.7h0M630.8 1829.4h0M636.3 1832.3h0M641.8 1835.6h0M647.2 1838.9h0M652.7 1842.2h0M658.2 1845.5h0M663.7 1848.8h0M669.1 1852.1h0M674.6 1855h0M680.1 1857.7h0M685.6 1860.3h0M691 1862.6h0M696.5 1864.9h0M702 1867.1h0M707.5 1869.4h0M712.9 1871.7h0M718.4 1873.8h0M723.9 1875.8h0M729.4 1877.9h0M734.8 1879.6h0M740.3 1880.6h0M745.8 1881.6h0M751.3 1882.6h0M756.7 1883.5h0M762.2 1884.3h0M767.7 1885.1h0M773.2 1885.4h0M778.6 1885.4h0M784.1 1885.4h0M789.6 1885.4h0M795.1 1885.3h0M800.5 1883.9h0M806 1882.6h0M811.5 1881.2h0M817 1879.8h0M822.4 1878.1h0M827.9 1876.2h0M833.4 1874.2h0M838.9 1872.1h0M844.3 1869.7h0M849.8 1867.3h0M855.3 1864.9h0M860.8 1862.5h0M866.2 1860.1h0M871.7 1857.7h0M877.2 1855.2h0M882.7 1852.1h0M888.1 1848.9h0M893.6 1845.8h0M899.1 1841.9h0M904.6 1838h0M910 1834.1h0M915.5 1828.8h0M921 1823.3h0M926.5 1817.7h0M931.9 1811.3h0M937.4 1804.9h0M942.9 1798h0M948.4 1790.3h0M953.8 1782.6h0M959.3 1775h0M964.8 1767.3h0M970.3 1759.1h0M975.7 1751h0M981.2 1743.3h0" stroke="#0000ff" stroke-width="12.8" stroke-linecap="round" fill="none"/>
<polyline points="160,1889.5 165.5,1889.5 170.9,1889.5 176.4,1889.5 181.9,1889.5 187.4,1889.5 192.8,1889.5 198.3,1889.5 203.8,1889.5 209.3,1889.5 214.7,1889.5 220.2,1889.5 225.7,1889.5 231.2,1889.5 236.6,1889.5 242.1,1889.5 247.6,1889.5 253.1,1889.5 258.5,1889.5 264,1889.5 269.5,1889.5 275,1889.5 280.4,1889.5 285.9,1889.5 291.4,1889.5 296.9,1889.5 302.3,1889.5 307.8,1889.5 313.3,1889.5 318.8,1889.5 324.2,1889.5 329.7,1889.5 335.2,1889.5 340.7,1889.5 346.1,1889.5 351.6,1889.5 357.1,1889.5 362.6,1889.5 368,1889.5 373.5,1889.5 379,1889.5 384.5,1889.5 389.9,1889.5 395.4,1889.5 400.9,1889.5 406.4,1889.5 411.8,1889.5 417.3,1889.5 422.8,1889.5 428.3,1889.5 433.7,1889.5 439.2,1889.5 444.7,1889.5 450.2,1889.5 455.6,1889.5 461.1,1889.5 466.6,1889.5 472.1,1889.5 477.5,1889.5 483,1889.5 488.5,1889.5 494,1889.5 499.4,1889.3 504.9,1885.1 510.4,1880.1 515.9,1874.9 521.3,1868.1 526.8,1861 532.3,1853.5 537.8,1846.6 543.2,1840.5 548.7,1835.7 554.2,1831.6 559.7,1830.2 565.1,1817.6 570.6,1787.3 576.1,1776.3 581.5,1759.2 587,1737.2 592.5,1702.6 598,1690.6 603.4,1679.6 608.9,1674.6 614.4,1671.5 619.9,1670.7 625.3,1674 630.8,1683.4 636.3,1696.3 641.8,1710 647.2,1719.9 652.7,1732.5 658.2,1748.1 663.7,1762.2 669.1,1773.2 674.6,1783.6 680.1,1794.5 685.6,1805.5 691,1813.9 696.5,1821.9 702,1831.3 707.5,1837.7 712.9,1843.2 718.4,1847.3 723.9,1851.4 729.4,1855.5 734.8,1859.2 740.3,1861.9 745.8,1864.6 751.3,1867.4 756.7,1870 762.2,1872.3 767.7,1874.5 773.2,1876.1 778.6,1877.2 784.1,1878 789.6,1878 795.1,1877.9 800.5,1876.2 806,1874.6 811.5,1871.2 817,1867.3 822.4,1863.2 827.9,1858.8 833.4,1854.1 838.9,1848.6 844.3,1843 849.8,1835.2 855.3,1826.8 860.8,1817.5 866.2,1806.5 871.7,1796.3 877.2,1786.7 882.7,1778.4 888.1,1770.1 893.6,1759.2 899.1,1746.4 904.6,1732.1 910,1717.8 915.5,1703.2 921,1691.2 926.5,1678.8 931.9,1664.2 937.4,1644.1 942.9,1631.3 948.4,1618.6 953.8,1604.8 959.3,1587.9 964.8,1566.9 970.3,1549.1 975.7,1530.7 981.2,1512.1" fill="none" stroke="#ff00ff" stroke-width="2.0" stroke-linejoin="round" /><path d="M160 1889.5h0M165.5 1889.5h0M170.9 1889.5h0M176.4 1889.5h0M181.9 1889.5h0M187.4 1889.5h0M192.8 1889.5h0M198.3 1889.5h0M203.8 1889.5h0M209.3 1889.5h0M214.7 1889.5h0M220.2 1889.5h0M225.7 1889.5h0M231.2 1889.5h0M236.6 1889.5h0M242.1 1889.5h0M247.6 1889.5h0M253.1 1889.5h0M258.5 1889.5h0M264 1889.5h0M269.5 1889.5h0M275 1889.5h0M280.4 1889.5h0M285.9 1889.5h0M291.4 1889.5h0M296.9 1889.5h0M302.3 1889.5h0M307.8 1889.5h0M313.3 1889.5h0M318.8 1889.5h0M324.2 1889.5h0M329.7 1889.5h0M335.2 1889.5h0M340.7 1889.5h0M346.1 1889.5h0M351.6 1889.5h0M357.1 1889.5h0M362.6 1889.5h0M368 1889.5h0M373.5 1889.5h0M379 1889.5h0M384.5 1889.5h0M389.9 1889.5h0M395.4 1889.5h0M400.9 1889.5h0M406.4 1889.5h0M411.8 1889.5h0M417.3 1889.5h0M422.8 1889.5h0M428.3 1889.5h0M433.7 1889.5h0M439.2 1889.5h0M444.7 1889.5h0M450.2 1889.5h0M455.6 1889.5h0M461.1 1889.5h0M466.6 1889.5h0M472.1 1889.5h0M477.5 1889.5h0M483 1889.5h0M488.5 1889.5h0M494 1889.5h0M499.4 1889.3h0M504.9 1885.1h0M510.4 1880.1h0M515.9 1874.9h0M521.3 1868.1h0M526.8 1861h0M532.3 1853.5h0M537.8 1846.6h0M543.2 1840.5h0M548.7 1835.7h0M554.2 1831.6h0M559.7 1830.2h0M565.1 1817.6h0M570.6 1787.3h0M576.1 1776.3h0M581.5 1759.2h0M587 1737.2h0M592.5 1702.6h0M598 1690.6h0M603.4 1679.6h0M608.9 1674.6h0M614.4 1671.5h0M619.9 1670.7h0M625.3 1674h0M630.8 1683.4h0M636.3 1696.3h0M641.8 1710h0M647.2 1719.9h0M652.7 1732.5h0M658.2 1748.1h0M663.7 1762.2h0M669.1 1773.2h0M674.6 1783.6h0M680.1 1794.5h0M685.6 1805.5h0M691 1813.9h0M696.5 1821.9h0M702 1831.3h0M707.5 1837.7h0M712.9 1843.2h0M718.4 1847.3h0M723.9 1851.4h0M729.4 1855.5h0M734.8 1859.2h0M740.3 1861.9h0M745.8 1864.6h0M751.3 1867.4h0M756.7 1870h0M762.2 1872.3h0M767.7 1874.5h0M773.2 1876.1h0M778.6 1877.2h0M784.1 1878h0M789.6 1878h0M795.1 1877.9h0M800.5 1876.2h0M806 1874.6h0M811.5 1871.2h0M817 1867.3h0M822.4 1863.2h0M827.9 1858.8h0M833.4 1854.1h0M838.9 1848.6h0M844.3 1843h0M849.8 1835.2h0M855.3 1826.8h0M860.8 1817.5h0M866.2 1806.5h0M871.7 1796.3h0M877.2 1786.7h0M882.7 1778.4h0M888.1 1770.1h0M893.6 1759.2h0M899.1 1746.4h0M904.6 1732.1h0M910 1717.8h0M915.5 1703.2h0M921 1691.2h0M926.5 1678.8h0M931.9 1664.2h0M937.4 1644.1h0M942.9 1631.3h0M948.4 1618.6h0M953.8 1604.8h0M959.3 1587.9h0M964.8 1566.9h0M970.3 1549.1h0M975.7 1530.7h0M981.2 1512.1h0" stroke="#ff00ff" stroke-width="11.6" stroke-linecap="round" fill="none"/>
<polyline points="160,1889.5 165.5,1889.5 170.9,1889.5 176.4,1889.5 181.9,1889.5 187.4,1889.5 192.8,1889.5 198.3,1889.5 203.8,1889.5 209.3,1889.5 214.7,1889.5 220.2,1889.5 225.7,1889.5 231.2,1889.5 236.6,1889.5 242.1,1889.5 247.6,1889.5 253.1,1889.5 258.5,1889.5 264,1889.5 269.5,1889.5 275,1889.5 280.4,1889.5 285.9,1889.5 291.4,1889.5 296.9,1889.5 302.3,1889.5 307.8,1889.5 313.3,1889.5 318.8,1889.5 324.2,1889.5 329.7,1889.5 335.2,1889.5 340.7,1889.5 346.1,1889.5 351.6,1889.5 357.1,1889.5 362.6,1889.5 368,1889.5 373.5,1889.5 379,1889.5 384.5,1889.5 389.9,1889.5 395.4,1889.5 400.9,1889.5 406.4,1889.5 411.8,1889.5 417.3,1889.5 422.8,1889.5 428.3,1889.5 433.7,1889.5 439.2,1889.5 444.7,1889.5 450.2,1889.5 455.6,1889.5 461.1,1889.5 466.6,1889.4 472.1,1887.9 477.5,1886.1 483,1884.2 488.5,1882.1 494,1879.9 499.4,1875.9 504.9,1871.1 510.4,1865.7 515.9,1860.2 521.3,1854.7 526.8,1848.2 532.3,1839.1 537.8,1827.3 543.2,1826.4 548.7,1815.1 554.2,1796.5 559.7,1780.7 565.1,1752 570.6,1732.3 576.1,1706.6 581.5,1681.1 587,1632.2 592.5,1567.7 598,1540.4 603.4,1508.7 608.9,1453.8 614.4,1414.1 619.9,1381.7 625.3,1340.2 630.8,1303.9 636.3,1275.5 641.8,1286.5 647.2,1311.3 652.7,1353.8 658.2,1406.5 663.7,1452.9 669.1,1496.7 674.6,1516.2 680.1,1550.2 685.6,1584 691,1611 696.5,1636.6 702,1677.3 707.5,1697.4 712.9,1714.3 718.4,1731.5 723.9,1751.7 729.4,1763.4 734.8,1774.3 740.3,1785.8 745.8,1797.5 751.3,1808.4 756.7,1820.4 762.2,1827.5 767.7,1833.7 773.2,1840.6 778.6,1847.3 784.1,1853.7 789.6,1855.5 795.1,1856.6 800.5,1857 806,1857 811.5,1856.4 817,1854.7 822.4,1852.8 827.9,1848 833.4,1842.4 838.9,1835.1 844.3,1827.5 849.8,1818 855.3,1800.5 860.8,1782.3 866.2,1769.5 871.7,1755.3 877.2,1737.3 882.7,1716.3 888.1,1689.9 893.6,1667.6 899.1,1648.3 904.6,1627.5 910,1583.2 915.5,1559.1 921,1535 926.5,1512.8 931.9,1480.5 937.4,1444.8 942.9,1414.3 948.4,1383.9 953.8,1351 959.3,1314.7 964.8,1276.6 970.3,1239.2 975.7,1209.4 981.2,1171.2" fill="none" stroke="#008000" stroke-width="2.0" stroke-linejoin="round" /><path d="M160 1889.5h0M165.5 1889.5h0M170.9 1889.5h0M176.4 1889.5h0M181.9 1889.5h0M187.4 1889.5h0M192.8 1889.5h0M198.3 1889.5h0M203.8 1889.5h0M209.3 1889.5h0M214.7 1889.5h0M220.2 1889.5h0M225.7 1889.5h0M231.2 1889.5h0M236.6 1889.5h0M242.1 1889.5h0M247.6 1889.5h0M253.1 1889.5h0M258.5 1889.5h0M264 1889.5h0M269.5 1889.5h0M275 1889.5h0M280.4 1889.5h0M285.9 1889.5h0M291.4 1889.5h0M296.9 1889.5h0M302.3 1889.5h0M307.8 1889.5h0M313.3 1889.5h0M318.8 1889.5h0M324.2 1889.5h0M329.7 1889.5h0M335.2 1889.5h0M340.7 1889.5h0M346.1 1889.5h0M351.6 1889.5h0M357.1 1889.5h0M362.6 1889.5h0M368 1889.5h0M373.5 1889.5h0M379 1889.5h0M384.5 1889.5h0M389.9 1889.5h0M395.4 1889.5h0M400.9 1889.5h0M406.4 1889.5h0M411.8 1889.5h0M417.3 1889.5h0M422.8 1889.5h0M428.3 1889.5h0M433.7 1889.5h0M439.2 1889.5h0M444.7 1889.5h0M450.2 1889.5h0M455.6 1889.5h0M461.1 1889.5h0M466.6 1889.4h0M472.1 1887.9h0M477.5 1886.1h0M483 1884.2h0M488.5 1882.1h0M494 1879.9h0M499.4 1875.9h0M504.9 1871.1h0M510.4 1865.7h0M515.9 1860.2h0M521.3 1854.7h0M526.8 1848.2h0M532.3 1839.1h0M537.8 1827.3h0M543.2 1826.4h0M548.7 1815.1h0M554.2 1796.5h0M559.7 1780.7h0M565.1 1752h0M570.6 1732.3h0M576.1 1706.6h0M581.5 1681.1h0M587 1632.2h0M592.5 1567.7h0M598 1540.4h0M603.4 1508.7h0M608.9 1453.8h0M614.4 1414.1h0M619.9 1381.7h0M625.3 1340.2h0M630.8 1303.9h0M636.3 1275.5h0M641.8 1286.5h0M647.2 1311.3h0M652.7 1353.8h0M658.2 1406.5h0M663.7 1452.9h0M669.1 1496.7h0M674.6 1516.2h0M680.1 1550.2h0M685.6 1584h0M691 1611h0M696.5 1636.6h0M702 1677.3h0M707.5 1697.4h0M712.9 1714.3h0M718.4 1731.5h0M723.9 1751.7h0M729.4 1763.4h0M734.8 1774.3h0M740.3 1785.8h0M745.8 1797.5h0M751.3 1808.4h0M756.7 1820.4h0M762.2 1827.5h0M767.7 1833.7h0M773.2 1840.6h0M778.6 1847.3h0M784.1 1853.7h0M789.6 1855.5h0M795.1 1856.6h0M800.5 1857h0M806 1857h0M811.5 1856.4h0M817 1854.7h0M822.4 1852.8h0M827.9 1848h0M833.4 1842.4h0M838.9 1835.1h0M844.3 1827.5h0M849.8 1818h0M855.3 1800.5h0M860.8 1782.3h0M866.2 1769.5h0M871.7 1755.3h0M877.2 1737.3h0M882.7 1716.3h0M888.1 1689.9h0M893.6 1667.6h0M899.1 1648.3h0M904.6 1627.5h0M910 1583.2h0M915.5 1559.1h0M921 1535h0M926.5 1512.8h0M931.9 1480.5h0M937.4 1444.8h0M942.9 1414.3h0M948.4 1383.9h0M953.8 1351h0M959.3 1314.7h0M964.8 1276.6h0M970.3 1239.2h0M975.7 1209.4h0M981.2 1171.2h0" stroke="#008000" stroke-width="11.2" stroke-linecap="round" fill="none"/>
<polyline points="160,1889.5 165.5,1889.5 170.9,1889.5 176.4,1889.5 181.9,1889.5 187.4,1889.5 192.8,1889.5 198.3,1889.5 203.8,1889.5 209.3,1889.5 214.7,1889.5 220.2,1889.5 225.7,1889.5 231.2,1889.5 236.6,1889.5 242.1,1889.5 247.6,1889.5 253.1,1889.5 258.5,1889.5 264,1889.5 269.5,1889.5 275,1889.5 280.4,1889.5 285.9,1889.5 291.4,1889.5 296.9,1889.5 302.3,1889.5 307.8,1889.5 313.3,1889.5 318.8,1889.5 324.2,1889.5 329.7,1889.5 335.2,1889.5 340.7,1889.5 346.1,1889.5 351.6,1889.5 357.1,1889.5 362.6,1889.5 368,1889.5 373.5,1889.5 379,1889.5 384.5,1889.5 389.9,1889.5 395.4,1889.5 400.9,1889.5 406.4,1889.5 411.8,1889.5 417.3,1889.5 422.8,1889.5 428.3,1889.5 433.7,1889.5 439.2,1889.5 444.7,1889.5 450.2,1889.5 455.6,1889.5 461.1,1889.5 466.6,1889.5 472.1,1889.5 477.5,1889.5 483,1889.5 488.5,1889.5 494,1889.5 499.4,1889.5 504.9,1889.5 510.4,1889.5 515.9,1889.5 521.3,1889.2 526.8,1887.8 532.3,1886 537.8,1884.1 543.2,1881.9 548.7,1879.7 554.2,1875.4 559.7,1870.5 565.1,1865.3 570.6,1859.8 576.1,1853 581.5,1844.1 587,1832.5 592.5,1823.2 598,1818.8 603.4,1808.1 608.9,1794.4 614.4,1780.2 619.9,1762.7 625.3,1747.1 630.8,1726.9 636.3,1701.5 641.8,1680.4 647.2,1659.1 652.7,1634.6 658.2,1592 663.7,1564.7 669.1,1540 674.6,1505.1 680.1,1461.8 685.6,1430.9 691,1386.8 696.5,1345.1 702,1285.9 707.5,1220.4 712.9,1167 718.4,1149.8 723.9,1190.8 729.4,1243.6 734.8,1291 740.3,1338.7 745.8,1396.1 751.3,1441.5 756.7,1490.7 762.2,1522.6 767.7,1555.7 773.2,1609.9 778.6,1639.3 784.1,1657.1 789.6,1678.9 795.1,1715 800.5,1733.6 806,1745 811.5,1757.9 817,1773.7 822.4,1786.7 827.9,1795.3 833.4,1801.7 838.9,1805.7 844.3,1807.6 849.8,1806.9 855.3,1802.4 860.8,1795.2 866.2,1787.4 871.7,1779.6 877.2,1770.5 882.7,1756.3 888.1,1737.6 893.6,1719.9 899.1,1705.1 904.6,1688.6 910,1660.5 915.5,1629.6 921,1605.4 926.5,1580.4 931.9,1551.8 937.4,1519.9 942.9,1487.4 948.4,1455.2 953.8,1421.8 959.3,1373.2 964.8,1333.7 970.3,1294 975.7,1249.7 981.2,1196.1" fill="none" stroke="#ff8000" stroke-width="2.0" stroke-linejoin="round" /><path d="M160 1889.5h0M165.5 1889.5h0M170.9 1889.5h0M176.4 1889.5h0M181.9 1889.5h0M187.4 1889.5h0M192.8 1889.5h0M198.3 1889.5h0M203.8 1889.5h0M209.3 1889.5h0M214.7 1889.5h0M220.2 1889.5h0M225.7 1889.5h0M231.2 1889.5h0M236.6 1889.5h0M242.1 1889.5h0M247.6 1889.5h0M253.1 1889.5h0M258.5 1889.5h0M264 1889.5h0M269.5 1889.5h0M275 1889.5h0M280.4 1889.5h0M285.9 1889.5h0M291.4 1889.5h0M296.9 1889.5h0M302.3 1889.5h0M307.8 1889.5h0M313.3 1889.5h0M318.8 1889.5h0M324.2 1889.5h0M329.7 1889.5h0M335.2 1889.5h0M340.7 1889.5h0M346.1 1889.5h0M351.6 1889.5h0M357.1 1889.5h0M362.6 1889.5h0M368 1889.5h0M373.5 1889.5h0M379 1889.5h0M384.5 1889.5h0M389.9 1889.5h0M395.4 1889.5h0M400.9 1889.5h0M406.4 1889.5h0M411.8 1889.5h0M417.3 1889.5h0M422.8 1889.5h0M428.3 1889.5h0M433.7 1889.5h0M439.2 1889.5h0M444.7 1889.5h0M450.2 1889.5h0M455.6 1889.5h0M461.1 1889.5h0M466.6 1889.5h0M472.1 1889.5h0M477.5 1889.5h0M483 1889.5h0M488.5 1889.5h0M494 1889.5h0M499.4 1889.5h0M504.9 1889.5h0M510.4 1889.5h0M515.9 1889.5h0M521.3 1889.2h0M526.8 1887.8h0M532.3 1886h0M537.8 1884.1h0M543.2 1881.9h0M548.7 1879.7h0M554.2 1875.4h0M559.7 1870.5h0M565.1 1865.3h0M570.6 1859.8h0M576.1 1853h0M581.5 1844.1h0M587 1832.5h0M592.5 1823.2h0M598 1818.8h0M603.4 1808.1h0M608.9 1794.4h0M614.4 1780.2h0M619.9 1762.7h0M625.3 1747.1h0M630.8 1726.9h0M636.3 1701.5h0M641.8 1680.4h0M647.2 1659.1h0M652.7 1634.6h0M658.2 1592h0M663.7 1564.7h0M669.1 1540h0M674.6 1505.1h0M680.1 1461.8h0M685.6 1430.9h0M691 1386.8h0M696.5 1345.1h0M702 1285.9h0M707.5 1220.4h0M712.9 1167h0M718.4 1149.8h0M723.9 1190.8h0M729.4 1243.6h0M734.8 1291h0M740.3 1338.7h0M745.8 1396.1h0M751.3 1441.5h0M756.7 1490.7h0M762.2 1522.6h0M767.7 1555.7h0M773.2 1609.9h0M778.6 1639.3h0M784.1 1657.1h0M789.6 1678.9h0M795.1 1715h0M800.5 1733.6h0M806 1745h0M811.5 1757.9h0M817 1773.7h0M822.4 1786.7h0M827.9 1795.3h0M833.4 1801.7h0M838.9 1805.7h0M844.3 1807.6h0M849.8 1806.9h0M855.3 1802.4h0M860.8 1795.2h0M866.2 1787.4h0M871.7 1779.6h0M877.2 1770.5h0M882.7 1756.3h0M888.1 1737.6h0M893.6 1719.9h0M899.1 1705.1h0M904.6 1688.6h0M910 1660.5h0M915.5 1629.6h0M921 1605.4h0M926.5 1580.4h0M931.9 1551.8h0M937.4 1519.9h0M942.9 1487.4h0M948.4 1455.2h0M953.8 1421.8h0M959.3 1373.2h0M964.8 1333.7h0M970.3 1294h0M975.7 1249.7h0M981.2 1196.1h0" stroke="#ff8000" stroke-width="12" stroke-linecap="round" fill="none"/>
<text x="145" y="1188.5" font-size="55" font-weight="bold" text-anchor="end" fill="#000" >1</text>
<text x="152" y="1546.9" font-size="55" font-weight="bold" text-anchor="end" fill="#000" >0.5</text>
<text x="152" y="1910" font-size="55" font-weight="bold" text-anchor="end" fill="#000" >0</text>
<text x="155" y="1941" font-size="55" font-weight="bold" text-anchor="middle" fill="#000" >-10</text>
<text x="434.7" y="1941" font-size="55" font-weight="bold" text-anchor="middle" fill="#000" >-5</text>
<text x="707.5" y="1941" font-size="55" font-weight="bold" text-anchor="middle" fill="#000" >0</text>
<text x="981.2" y="1941" font-size="55" font-weight="bold" text-anchor="middle" fill="#000" >5</text>
<text x="476.5" y="2008.5" font-size="56" font-weight="bold">V<tspan font-size="36" dy="11" dx="1">GS</tspan><tspan dy="-11" dx="22">(V)</tspan></text>
<text transform="translate(62,1665) rotate(-90)" font-size="57" font-weight="bold">Current (<tspan font-family="'Liberation Serif','DejaVu Serif',serif" font-weight="normal" font-size="60">μ</tspan>A)</text>
<path d="M223 1191h93.5" stroke="#000000" stroke-width="2.3"/>
<circle cx="268.3" cy="1191" r="6.3" fill="#000000"/>
<text x="315.5" y="1208" font-size="45.5" font-weight="bold">V<tspan font-size="28" dy="8.6" dx="0.5">DS</tspan><tspan dy="-8.6" dx="2">=0.1V</tspan></text>
<path d="M223 1236.9h93.5" stroke="#0000ff" stroke-width="2.3"/>
<circle cx="268.3" cy="1236.9" r="6.3" fill="#0000ff"/>
<text x="315.5" y="1253.9" font-size="45.5" font-weight="bold">V<tspan font-size="28" dy="8.6" dx="0.5">DS</tspan><tspan dy="-8.6" dx="2">=0.5V</tspan></text>
<path d="M223 1284.3h93.5" stroke="#ff00ff" stroke-width="2.3"/>
<circle cx="268.3" cy="1284.3" r="6.3" fill="#ff00ff"/>
<text x="315.5" y="1301.3" font-size="45.5" font-weight="bold">V<tspan font-size="28" dy="8.6" dx="0.5">DS</tspan><tspan dy="-8.6" dx="2">=1V</tspan></text>
<path d="M223 1327.2h93.5" stroke="#008000" stroke-width="2.3"/>
<circle cx="268.3" cy="1327.2" r="6.3" fill="#008000"/>
<text x="315.5" y="1344.2" font-size="45.5" font-weight="bold">V<tspan font-size="28" dy="8.6" dx="0.5">DS</tspan><tspan dy="-8.6" dx="2">=2V</tspan></text>
<path d="M223 1372.5h93.5" stroke="#ff8000" stroke-width="2.3"/>
<circle cx="268.3" cy="1372.5" r="6.3" fill="#ff8000"/>
<text x="315.5" y="1389.5" font-size="45.5" font-weight="bold">V<tspan font-size="28" dy="8.6" dx="0.5">DS</tspan><tspan dy="-8.6" dx="2">=3V</tspan></text>
<text x="17" y="1151.5" font-size="78" font-weight="bold" text-anchor="start" fill="#000" >(c)</text>
</g>
<g id="panel-d">
<rect x="1206" y="1095.8" width="836.1" height="789.6" fill="none" stroke="#000" stroke-width="6.0"/>
<path d="M1206 1178h10M2042.1 1178h-9M1206 1262.6h19M2042.1 1262.6h-18M1206 1347.2h10M2042.1 1347.2h-9M1206 1431.9h19M2042.1 1431.9h-18M1206 1516.5h10M2042.1 1516.5h-9M1206 1601.2h19M2042.1 1601.2h-18M1206 1685.8h10M2042.1 1685.8h-9M1206 1770.5h19M2042.1 1770.5h-18M1206 1855.2h10M2042.1 1855.2h-9M1262.4 1095.8v8M1262.4 1885.4v-8M1318.1 1095.8v8M1318.1 1885.4v-8M1373.8 1095.8v8M1373.8 1885.4v-8M1429.5 1095.8v8M1429.5 1885.4v-8M1485.2 1095.8v16M1485.2 1885.4v-16M1540.9 1095.8v8M1540.9 1885.4v-8M1596.6 1095.8v8M1596.6 1885.4v-8M1652.3 1095.8v8M1652.3 1885.4v-8M1708 1095.8v8M1708 1885.4v-8M1763.7 1095.8v16M1763.7 1885.4v-16M1819.4 1095.8v8M1819.4 1885.4v-8M1875.1 1095.8v8M1875.1 1885.4v-8M1930.8 1095.8v8M1930.8 1885.4v-8M1986.5 1095.8v8M1986.5 1885.4v-8" stroke="#000" stroke-width="4.6" fill="none"/>
<rect x="1387" y="1369" width="25" height="50" fill="none" stroke="#e6e6e6" stroke-width="1"/>
<rect x="1517.5" y="1824" width="272" height="37" fill="none" stroke="#e6e6e6" stroke-width="1"/>
<rect x="1442.4" y="1386" width="478" height="450" fill="none" stroke="#000" stroke-width="2.3"/>
<path d="M1442.4 1413.9h13M1920.4 1413.9h-13M1442.4 1458h8M1920.4 1458h-8M1442.4 1502h13M1920.4 1502h-13M1442.4 1546.1h8M1920.4 1546.1h-8M1442.4 1590.1h13M1920.4 1590.1h-13M1442.4 1634.2h8M1920.4 1634.2h-8M1442.4 1678.2h13M1920.4 1678.2h-13M1442.4 1722.2h8M1920.4 1722.2h-8M1442.4 1766.3h13M1920.4 1766.3h-13M1442.4 1810.4h8M1920.4 1810.4h-8M1521.4 1386v5M1521.4 1836v-5M1599.6 1386v11M1599.6 1836v-11M1677.8 1386v5M1677.8 1836v-5M1756 1386v11M1756 1836v-11M1834.2 1386v5M1834.2 1836v-5M1912.4 1386v11M1912.4 1836v-11" stroke="#000" stroke-width="1.8" fill="none"/>
<clipPath id="insclip"><rect x="1442.4" y="1386" width="482" height="450"/></clipPath>
<g clip-path="url(#insclip)">
<polyline points="1447.1,1415.2 1454.9,1415.2 1462.8,1415.2 1470.6,1415.2 1478.4,1415.2 1486.2,1415.5 1494,1415.9 1501.9,1416.4 1509.7,1416.8 1517.5,1418.7 1525.3,1419.5 1533.1,1421.7 1541,1425.3 1548.8,1430.6 1556.6,1436.6 1564.4,1442.4 1572.2,1446.1 1580.1,1451.7 1587.9,1456.4 1595.7,1460.7 1603.5,1468.2 1611.3,1469.8 1619.2,1470 1627,1474.2 1634.8,1478.3 1642.6,1479.4 1650.4,1480.5 1658.2,1482.7 1666.1,1484.5 1673.9,1484.7 1681.7,1488.4 1689.5,1487.6 1697.4,1485.9 1705.2,1485.9 1713,1484.8 1720.8,1483.3 1728.6,1482.8 1736.5,1482.3 1744.3,1480.7 1752.1,1478.4 1759.9,1475.8 1767.7,1473.8 1775.6,1472.1 1783.4,1469.5 1791.2,1468.4 1799,1468.8 1806.8,1465.8 1814.7,1463.6 1822.5,1463.2 1830.3,1462.1 1838.1,1460.1 1845.9,1460.1 1853.8,1459.5 1861.6,1457.7 1869.4,1453.6 1877.2,1448 1885,1438.9 1892.9,1429.8 1900.7,1422.9 1908.5,1420.7 1916.3,1421.1" fill="none" stroke="#000000" stroke-width="1.2" stroke-linejoin="round" /><path d="M1447.1 1415.2h0M1454.9 1415.2h0M1462.8 1415.2h0M1470.6 1415.2h0M1478.4 1415.2h0M1486.2 1415.5h0M1494 1415.9h0M1501.9 1416.4h0M1509.7 1416.8h0M1517.5 1418.7h0M1525.3 1419.5h0M1533.1 1421.7h0M1541 1425.3h0M1548.8 1430.6h0M1556.6 1436.6h0M1564.4 1442.4h0M1572.2 1446.1h0M1580.1 1451.7h0M1587.9 1456.4h0M1595.7 1460.7h0M1603.5 1468.2h0M1611.3 1469.8h0M1619.2 1470h0M1627 1474.2h0M1634.8 1478.3h0M1642.6 1479.4h0M1650.4 1480.5h0M1658.2 1482.7h0M1666.1 1484.5h0M1673.9 1484.7h0M1681.7 1488.4h0M1689.5 1487.6h0M1697.4 1485.9h0M1705.2 1485.9h0M1713 1484.8h0M1720.8 1483.3h0M1728.6 1482.8h0M1736.5 1482.3h0M1744.3 1480.7h0M1752.1 1478.4h0M1759.9 1475.8h0M1767.7 1473.8h0M1775.6 1472.1h0M1783.4 1469.5h0M1791.2 1468.4h0M1799 1468.8h0M1806.8 1465.8h0M1814.7 1463.6h0M1822.5 1463.2h0M1830.3 1462.1h0M1838.1 1460.1h0M1845.9 1460.1h0M1853.8 1459.5h0M1861.6 1457.7h0M1869.4 1453.6h0M1877.2 1448h0M1885 1438.9h0M1892.9 1429.8h0M1900.7 1422.9h0M1908.5 1420.7h0M1916.3 1421.1h0" stroke="#000000" stroke-width="6" stroke-linecap="round" fill="none"/>
<polyline points="1447.1,1416 1454.9,1416 1462.8,1416 1470.6,1416.7 1478.4,1419.9 1486.2,1422 1494,1424.6 1501.9,1427.2 1509.7,1433.8 1517.5,1439.3 1525.3,1446.8 1533.1,1454 1541,1463.7 1548.8,1471.4 1556.6,1482.3 1564.4,1488.9 1572.2,1493.2 1580.1,1497.4 1587.9,1502.8 1595.7,1507.6 1603.5,1516.9 1611.3,1525.5 1619.2,1536.9 1627,1536 1634.8,1538.8 1642.6,1547.2 1650.4,1549.8 1658.2,1555.9 1666.1,1557 1673.9,1557.7 1681.7,1561.3 1689.5,1565.3 1697.4,1574.9 1705.2,1574.1 1713,1573.4 1720.8,1579.7 1728.6,1580 1736.5,1577.9 1744.3,1576.7 1752.1,1574.8 1759.9,1572.2 1767.7,1570 1775.6,1565.2 1783.4,1555.3 1791.2,1549 1799,1544.2 1806.8,1540.3 1814.7,1539.1 1822.5,1533.4 1830.3,1527 1838.1,1522.2 1845.9,1515.5 1853.8,1510 1861.6,1502.2 1869.4,1494.4 1877.2,1486.2 1885,1475.6 1892.9,1461.3 1900.7,1449.1 1908.5,1440.6 1916.3,1433.2" fill="none" stroke="#0000ff" stroke-width="1.2" stroke-linejoin="round" /><path d="M1447.1 1416h0M1454.9 1416h0M1462.8 1416h0M1470.6 1416.7h0M1478.4 1419.9h0M1486.2 1422h0M1494 1424.6h0M1501.9 1427.2h0M1509.7 1433.8h0M1517.5 1439.3h0M1525.3 1446.8h0M1533.1 1454h0M1541 1463.7h0M1548.8 1471.4h0M1556.6 1482.3h0M1564.4 1488.9h0M1572.2 1493.2h0M1580.1 1497.4h0M1587.9 1502.8h0M1595.7 1507.6h0M1603.5 1516.9h0M1611.3 1525.5h0M1619.2 1536.9h0M1627 1536h0M1634.8 1538.8h0M1642.6 1547.2h0M1650.4 1549.8h0M1658.2 1555.9h0M1666.1 1557h0M1673.9 1557.7h0M1681.7 1561.3h0M1689.5 1565.3h0M1697.4 1574.9h0M1705.2 1574.1h0M1713 1573.4h0M1720.8 1579.7h0M1728.6 1580h0M1736.5 1577.9h0M1744.3 1576.7h0M1752.1 1574.8h0M1759.9 1572.2h0M1767.7 1570h0M1775.6 1565.2h0M1783.4 1555.3h0M1791.2 1549h0M1799 1544.2h0M1806.8 1540.3h0M1814.7 1539.1h0M1822.5 1533.4h0M1830.3 1527h0M1838.1 1522.2h0M1845.9 1515.5h0M1853.8 1510h0M1861.6 1502.2h0M1869.4 1494.4h0M1877.2 1486.2h0M1885 1475.6h0M1892.9 1461.3h0M1900.7 1449.1h0M1908.5 1440.6h0M1916.3 1433.2h0" stroke="#0000ff" stroke-width="6" stroke-linecap="round" fill="none"/>
<polyline points="1447.1,1417.1 1454.9,1417.9 1462.8,1420.3 1470.6,1423.1 1478.4,1428.8 1486.2,1435.8 1494,1442.9 1501.9,1453.5 1509.7,1460.3 1517.5,1469.3 1525.3,1480.9 1533.1,1481.1 1541,1485.2 1548.8,1491.1 1556.6,1497.4 1564.4,1510.6 1572.2,1521.2 1580.1,1530.4 1587.9,1537.5 1595.7,1548.1 1603.5,1559.1 1611.3,1574.5 1619.2,1586.1 1627,1597.1 1634.8,1611.4 1642.6,1622.2 1650.4,1633.3 1658.2,1645.3 1666.1,1652.8 1673.9,1659.7 1681.7,1667.2 1689.5,1669.3 1697.4,1669 1705.2,1666.5 1713,1668.8 1720.8,1671.3 1728.6,1667.9 1736.5,1665.4 1744.3,1660 1752.1,1651.2 1759.9,1645.9 1767.7,1640.7 1775.6,1632.1 1783.4,1627.1 1791.2,1623.1 1799,1610.3 1806.8,1597.9 1814.7,1584.6 1822.5,1570.7 1830.3,1556.6 1838.1,1545.4 1845.9,1535.7 1853.8,1525.4 1861.6,1516.8 1869.4,1508.9 1877.2,1497.6 1885,1488.7 1892.9,1477.4 1900.7,1468 1908.5,1461.6 1916.3,1458.8" fill="none" stroke="#ff00ff" stroke-width="1.2" stroke-linejoin="round" /><path d="M1447.1 1417.1h0M1454.9 1417.9h0M1462.8 1420.3h0M1470.6 1423.1h0M1478.4 1428.8h0M1486.2 1435.8h0M1494 1442.9h0M1501.9 1453.5h0M1509.7 1460.3h0M1517.5 1469.3h0M1525.3 1480.9h0M1533.1 1481.1h0M1541 1485.2h0M1548.8 1491.1h0M1556.6 1497.4h0M1564.4 1510.6h0M1572.2 1521.2h0M1580.1 1530.4h0M1587.9 1537.5h0M1595.7 1548.1h0M1603.5 1559.1h0M1611.3 1574.5h0M1619.2 1586.1h0M1627 1597.1h0M1634.8 1611.4h0M1642.6 1622.2h0M1650.4 1633.3h0M1658.2 1645.3h0M1666.1 1652.8h0M1673.9 1659.7h0M1681.7 1667.2h0M1689.5 1669.3h0M1697.4 1669h0M1705.2 1666.5h0M1713 1668.8h0M1720.8 1671.3h0M1728.6 1667.9h0M1736.5 1665.4h0M1744.3 1660h0M1752.1 1651.2h0M1759.9 1645.9h0M1767.7 1640.7h0M1775.6 1632.1h0M1783.4 1627.1h0M1791.2 1623.1h0M1799 1610.3h0M1806.8 1597.9h0M1814.7 1584.6h0M1822.5 1570.7h0M1830.3 1556.6h0M1838.1 1545.4h0M1845.9 1535.7h0M1853.8 1525.4h0M1861.6 1516.8h0M1869.4 1508.9h0M1877.2 1497.6h0M1885 1488.7h0M1892.9 1477.4h0M1900.7 1468h0M1908.5 1461.6h0M1916.3 1458.8h0" stroke="#ff00ff" stroke-width="6" stroke-linecap="round" fill="none"/>
<polyline points="1447.1,1460.5 1454.9,1467.2 1462.8,1478.7 1470.6,1482.4 1478.4,1487 1486.2,1493.1 1494,1498.6 1501.9,1506.2 1509.7,1514.4 1517.5,1522.8 1525.3,1533.1 1533.1,1541.1 1541,1550 1548.8,1558.6 1556.6,1575.4 1564.4,1590.2 1572.2,1600.7 1580.1,1614.1 1587.9,1631.1 1595.7,1644.7 1603.5,1651.6 1611.3,1662.4 1619.2,1669.9 1627,1676 1634.8,1688.6 1642.6,1693.8 1650.4,1696.7 1658.2,1704.7 1666.1,1715.7 1673.9,1720.6 1681.7,1724.4 1689.5,1724.7 1697.4,1725.8 1705.2,1722.8 1713,1719.9 1720.8,1716 1728.6,1709.5 1736.5,1703.3 1744.3,1696.1 1752.1,1692 1759.9,1686.7 1767.7,1672.2 1775.6,1658.1 1783.4,1648.7 1791.2,1640.1 1799,1626.3 1806.8,1608 1814.7,1598.3 1822.5,1583.1 1830.3,1573 1838.1,1566.5 1845.9,1561.9 1853.8,1565.6 1861.6,1573.9 1869.4,1583.2 1877.2,1609.2 1885,1638.9 1892.9,1670.9 1900.7,1719.2 1908.5,1769.1 1916.3,1816.9" fill="none" stroke="#008000" stroke-width="1.2" stroke-linejoin="round" /><path d="M1447.1 1460.5h0M1454.9 1467.2h0M1462.8 1478.7h0M1470.6 1482.4h0M1478.4 1487h0M1486.2 1493.1h0M1494 1498.6h0M1501.9 1506.2h0M1509.7 1514.4h0M1517.5 1522.8h0M1525.3 1533.1h0M1533.1 1541.1h0M1541 1550h0M1548.8 1558.6h0M1556.6 1575.4h0M1564.4 1590.2h0M1572.2 1600.7h0M1580.1 1614.1h0M1587.9 1631.1h0M1595.7 1644.7h0M1603.5 1651.6h0M1611.3 1662.4h0M1619.2 1669.9h0M1627 1676h0M1634.8 1688.6h0M1642.6 1693.8h0M1650.4 1696.7h0M1658.2 1704.7h0M1666.1 1715.7h0M1673.9 1720.6h0M1681.7 1724.4h0M1689.5 1724.7h0M1697.4 1725.8h0M1705.2 1722.8h0M1713 1719.9h0M1720.8 1716h0M1728.6 1709.5h0M1736.5 1703.3h0M1744.3 1696.1h0M1752.1 1692h0M1759.9 1686.7h0M1767.7 1672.2h0M1775.6 1658.1h0M1783.4 1648.7h0M1791.2 1640.1h0M1799 1626.3h0M1806.8 1608h0M1814.7 1598.3h0M1822.5 1583.1h0M1830.3 1573h0M1838.1 1566.5h0M1845.9 1561.9h0M1853.8 1565.6h0M1861.6 1573.9h0M1869.4 1583.2h0M1877.2 1609.2h0M1885 1638.9h0M1892.9 1670.9h0M1900.7 1719.2h0M1908.5 1769.1h0M1916.3 1816.9h0" stroke="#008000" stroke-width="6" stroke-linecap="round" fill="none"/>
<polyline points="1447.1,1423.6 1454.9,1424.4 1462.8,1425.9 1470.6,1427.1 1478.4,1429.1 1486.2,1433.3 1494,1434.8 1501.9,1437.1 1509.7,1440.9 1517.5,1446.6 1525.3,1452.2 1533.1,1455 1541,1463 1548.8,1468.5 1556.6,1474.9 1564.4,1484.9 1572.2,1491.2 1580.1,1496.8 1587.9,1505.5 1595.7,1513.9 1603.5,1523.3 1611.3,1534.3 1619.2,1544.1 1627,1551.5 1634.8,1558.8 1642.6,1563.1 1650.4,1565.4 1658.2,1567.6 1666.1,1569.4 1673.9,1568.9 1681.7,1566.8 1689.5,1565.3 1697.4,1562.4 1705.2,1562.8 1713,1565.2 1720.8,1567 1728.6,1568.2 1736.5,1569.7 1744.3,1570.3 1752.1,1568.8 1759.9,1566.1 1767.7,1563.1 1775.6,1561.1 1783.4,1560.1 1791.2,1560.6 1799,1562.2 1806.8,1562.9 1814.7,1561.4 1822.5,1563.4 1830.3,1569.9 1838.1,1581.4 1845.9,1597.5 1853.8,1616.6 1861.6,1636.1 1869.4,1652 1877.2,1667.6 1885,1690.2 1892.9,1701.9 1900.7,1704.9 1908.5,1706.3 1916.3,1717.3" fill="none" stroke="#ff8000" stroke-width="1.2" stroke-linejoin="round" /><path d="M1447.1 1423.6h0M1454.9 1424.4h0M1462.8 1425.9h0M1470.6 1427.1h0M1478.4 1429.1h0M1486.2 1433.3h0M1494 1434.8h0M1501.9 1437.1h0M1509.7 1440.9h0M1517.5 1446.6h0M1525.3 1452.2h0M1533.1 1455h0M1541 1463h0M1548.8 1468.5h0M1556.6 1474.9h0M1564.4 1484.9h0M1572.2 1491.2h0M1580.1 1496.8h0M1587.9 1505.5h0M1595.7 1513.9h0M1603.5 1523.3h0M1611.3 1534.3h0M1619.2 1544.1h0M1627 1551.5h0M1634.8 1558.8h0M1642.6 1563.1h0M1650.4 1565.4h0M1658.2 1567.6h0M1666.1 1569.4h0M1673.9 1568.9h0M1681.7 1566.8h0M1689.5 1565.3h0M1697.4 1562.4h0M1705.2 1562.8h0M1713 1565.2h0M1720.8 1567h0M1728.6 1568.2h0M1736.5 1569.7h0M1744.3 1570.3h0M1752.1 1568.8h0M1759.9 1566.1h0M1767.7 1563.1h0M1775.6 1561.1h0M1783.4 1560.1h0M1791.2 1560.6h0M1799 1562.2h0M1806.8 1562.9h0M1814.7 1561.4h0M1822.5 1563.4h0M1830.3 1569.9h0M1838.1 1581.4h0M1845.9 1597.5h0M1853.8 1616.6h0M1861.6 1636.1h0M1869.4 1652h0M1877.2 1667.6h0M1885 1690.2h0M1892.9 1701.9h0M1900.7 1704.9h0M1908.5 1706.3h0M1916.3 1717.3h0" stroke="#ff8000" stroke-width="6" stroke-linecap="round" fill="none"/>
</g>
<text x="1436.5" y="1423.9" font-size="29" font-weight="bold" text-anchor="end" fill="#000" >0</text>
<text x="1436.5" y="1512" font-size="29" font-weight="bold" text-anchor="end" fill="#000" >-1</text>
<text x="1436.5" y="1600.1" font-size="29" font-weight="bold" text-anchor="end" fill="#000" >-2</text>
<text x="1436.5" y="1688.2" font-size="29" font-weight="bold" text-anchor="end" fill="#000" >-3</text>
<text x="1436.5" y="1776.3" font-size="29" font-weight="bold" text-anchor="end" fill="#000" >-4</text>
<text x="1597.6" y="1864.5" font-size="29" font-weight="bold" text-anchor="middle" fill="#000" >-4</text>
<text x="1754" y="1864.5" font-size="29" font-weight="bold" text-anchor="middle" fill="#000" >-2</text>
<text x="1911.4" y="1864.5" font-size="29" font-weight="bold" text-anchor="middle" fill="#000" >0</text>
<clipPath id="dclip"><rect x="1190" y="1080" width="870" height="808.4"/></clipPath>
<g clip-path="url(#dclip)">
<polyline points="1206.7,1092.6 1212.3,1092.6 1217.8,1092.6 1223.4,1092.6 1229,1092.6 1234.6,1092.6 1240.1,1092.6 1245.7,1092.6 1251.3,1092.6 1256.8,1092.6 1262.4,1092.6 1268,1092.6 1273.5,1092.6 1279.1,1092.6 1284.7,1092.6 1290.2,1092.6 1295.8,1092.6 1301.4,1092.6 1307,1092.6 1312.5,1092.6 1318.1,1092.6 1323.7,1092.6 1329.2,1092.6 1334.8,1092.6 1340.4,1092.6 1346,1092.6 1351.5,1092.6 1357.1,1092.6 1362.7,1092.6 1368.2,1092.6 1373.8,1092.6 1379.4,1092.6 1384.9,1092.6 1390.5,1092.6 1396.1,1092.6 1401.7,1092.6 1407.2,1092.6 1412.8,1092.6 1418.4,1092.6 1423.9,1092.6 1429.5,1092.6 1435.1,1092.6 1440.6,1092.6 1446.2,1092.6 1451.8,1092.6 1457.3,1092.6 1462.9,1092.6 1468.5,1092.6 1474.1,1092.6 1479.6,1092.6 1485.2,1092.6 1490.8,1092.6 1496.3,1092.6 1501.9,1092.6 1507.5,1092.6 1513,1092.6 1518.6,1092.6 1524.2,1092.6 1529.8,1092.6 1535.3,1092.6 1540.9,1092.6 1546.5,1092.6 1552,1092.6 1557.6,1092.6 1563.2,1092.6 1568.8,1092.6 1574.3,1092.6 1579.9,1092.6 1585.5,1092.6 1591,1092.6 1596.6,1092.6 1602.2,1092.6 1607.7,1092.6 1613.3,1092.6 1618.9,1092.6 1624.5,1092.6 1630,1092.6 1635.6,1092.6 1641.2,1092.6 1646.7,1092.6 1652.3,1092.6 1657.9,1092.6 1663.4,1092.6 1669,1092.6 1674.6,1092.6 1680.2,1092.6 1685.7,1092.6 1691.3,1092.6 1696.9,1092.6 1702.4,1092.6 1708,1092.6 1713.6,1092.6 1719.1,1092.6 1724.7,1092.6 1730.3,1092.6 1735.9,1092.6 1741.4,1092.6 1747,1092.6 1752.6,1092.6 1758.1,1092.6 1763.7,1092.6 1769.3,1092.6 1774.8,1092.6 1780.4,1092.6 1786,1092.6 1791.5,1092.6 1797.1,1092.6 1802.7,1092.6 1808.3,1092.6 1813.8,1092.6 1819.4,1092.6 1825,1092.6 1830.5,1092.6 1836.1,1092.6 1841.7,1092.6 1847.2,1092.6 1852.8,1092.6 1858.4,1092.6 1864,1092.6 1869.5,1092.6 1875.1,1092.6 1880.7,1092.6 1886.2,1092.6 1891.8,1092.6 1897.4,1092.6 1903,1092.6 1908.5,1092.5 1914.1,1092.4 1919.7,1092.3 1925.2,1092.2 1930.8,1092.1 1936.4,1092 1941.9,1092.6 1947.5,1093.2 1953.1,1093.7 1958.7,1094.3 1964.2,1094.8 1969.8,1095.4 1975.4,1095.9 1980.9,1096.5 1986.5,1097.1 1992.1,1098.1 1997.6,1099 2003.2,1099.9 2008.8,1100.9 2014.4,1101.8 2019.9,1102.7 2025.5,1104.5 2031.1,1106.9 2036.6,1109.4 2042.2,1111.8" fill="none" stroke="#000000" stroke-width="2.2" stroke-linejoin="round" /><path d="M1206.7 1092.6h0M1212.3 1092.6h0M1217.8 1092.6h0M1223.4 1092.6h0M1229 1092.6h0M1234.6 1092.6h0M1240.1 1092.6h0M1245.7 1092.6h0M1251.3 1092.6h0M1256.8 1092.6h0M1262.4 1092.6h0M1268 1092.6h0M1273.5 1092.6h0M1279.1 1092.6h0M1284.7 1092.6h0M1290.2 1092.6h0M1295.8 1092.6h0M1301.4 1092.6h0M1307 1092.6h0M1312.5 1092.6h0M1318.1 1092.6h0M1323.7 1092.6h0M1329.2 1092.6h0M1334.8 1092.6h0M1340.4 1092.6h0M1346 1092.6h0M1351.5 1092.6h0M1357.1 1092.6h0M1362.7 1092.6h0M1368.2 1092.6h0M1373.8 1092.6h0M1379.4 1092.6h0M1384.9 1092.6h0M1390.5 1092.6h0M1396.1 1092.6h0M1401.7 1092.6h0M1407.2 1092.6h0M1412.8 1092.6h0M1418.4 1092.6h0M1423.9 1092.6h0M1429.5 1092.6h0M1435.1 1092.6h0M1440.6 1092.6h0M1446.2 1092.6h0M1451.8 1092.6h0M1457.3 1092.6h0M1462.9 1092.6h0M1468.5 1092.6h0M1474.1 1092.6h0M1479.6 1092.6h0M1485.2 1092.6h0M1490.8 1092.6h0M1496.3 1092.6h0M1501.9 1092.6h0M1507.5 1092.6h0M1513 1092.6h0M1518.6 1092.6h0M1524.2 1092.6h0M1529.8 1092.6h0M1535.3 1092.6h0M1540.9 1092.6h0M1546.5 1092.6h0M1552 1092.6h0M1557.6 1092.6h0M1563.2 1092.6h0M1568.8 1092.6h0M1574.3 1092.6h0M1579.9 1092.6h0M1585.5 1092.6h0M1591 1092.6h0M1596.6 1092.6h0M1602.2 1092.6h0M1607.7 1092.6h0M1613.3 1092.6h0M1618.9 1092.6h0M1624.5 1092.6h0M1630 1092.6h0M1635.6 1092.6h0M1641.2 1092.6h0M1646.7 1092.6h0M1652.3 1092.6h0M1657.9 1092.6h0M1663.4 1092.6h0M1669 1092.6h0M1674.6 1092.6h0M1680.2 1092.6h0M1685.7 1092.6h0M1691.3 1092.6h0M1696.9 1092.6h0M1702.4 1092.6h0M1708 1092.6h0M1713.6 1092.6h0M1719.1 1092.6h0M1724.7 1092.6h0M1730.3 1092.6h0M1735.9 1092.6h0M1741.4 1092.6h0M1747 1092.6h0M1752.6 1092.6h0M1758.1 1092.6h0M1763.7 1092.6h0M1769.3 1092.6h0M1774.8 1092.6h0M1780.4 1092.6h0M1786 1092.6h0M1791.5 1092.6h0M1797.1 1092.6h0M1802.7 1092.6h0M1808.3 1092.6h0M1813.8 1092.6h0M1819.4 1092.6h0M1825 1092.6h0M1830.5 1092.6h0M1836.1 1092.6h0M1841.7 1092.6h0M1847.2 1092.6h0M1852.8 1092.6h0M1858.4 1092.6h0M1864 1092.6h0M1869.5 1092.6h0M1875.1 1092.6h0M1880.7 1092.6h0M1886.2 1092.6h0M1891.8 1092.6h0M1897.4 1092.6h0M1903 1092.6h0M1908.5 1092.5h0M1914.1 1092.4h0M1919.7 1092.3h0M1925.2 1092.2h0M1930.8 1092.1h0M1936.4 1092h0M1941.9 1092.6h0M1947.5 1093.2h0M1953.1 1093.7h0M1958.7 1094.3h0M1964.2 1094.8h0M1969.8 1095.4h0M1975.4 1095.9h0M1980.9 1096.5h0M1986.5 1097.1h0M1992.1 1098.1h0M1997.6 1099h0M2003.2 1099.9h0M2008.8 1100.9h0M2014.4 1101.8h0M2019.9 1102.7h0M2025.5 1104.5h0M2031.1 1106.9h0M2036.6 1109.4h0M2042.2 1111.8h0" stroke="#000000" stroke-width="11.2" stroke-linecap="round" fill="none"/>
<polyline points="1206.7,1094.6 1212.3,1094.6 1217.8,1094.6 1223.4,1094.6 1229,1094.6 1234.6,1094.6 1240.1,1094.6 1245.7,1094.6 1251.3,1094.6 1256.8,1094.6 1262.4,1094.6 1268,1094.6 1273.5,1094.6 1279.1,1094.6 1284.7,1094.6 1290.2,1094.6 1295.8,1094.6 1301.4,1094.6 1307,1094.6 1312.5,1094.6 1318.1,1094.6 1323.7,1094.6 1329.2,1094.6 1334.8,1094.6 1340.4,1094.6 1346,1094.6 1351.5,1094.6 1357.1,1094.6 1362.7,1094.6 1368.2,1094.6 1373.8,1094.6 1379.4,1094.6 1384.9,1094.6 1390.5,1094.6 1396.1,1094.6 1401.7,1094.6 1407.2,1094.6 1412.8,1094.6 1418.4,1094.6 1423.9,1094.6 1429.5,1094.6 1435.1,1094.6 1440.6,1094.6 1446.2,1094.6 1451.8,1094.6 1457.3,1094.6 1462.9,1094.6 1468.5,1094.6 1474.1,1094.6 1479.6,1094.6 1485.2,1094.6 1490.8,1094.6 1496.3,1094.6 1501.9,1094.6 1507.5,1094.6 1513,1094.6 1518.6,1094.6 1524.2,1094.6 1529.8,1094.6 1535.3,1094.6 1540.9,1094.6 1546.5,1094.6 1552,1094.6 1557.6,1094.6 1563.2,1094.6 1568.8,1094.6 1574.3,1094.6 1579.9,1094.6 1585.5,1094.6 1591,1094.6 1596.6,1094.6 1602.2,1094.6 1607.7,1094.6 1613.3,1094.6 1618.9,1094.6 1624.5,1094.6 1630,1094.6 1635.6,1094.6 1641.2,1094.6 1646.7,1094.6 1652.3,1094.6 1657.9,1094.6 1663.4,1094.6 1669,1094.6 1674.6,1094.6 1680.2,1094.6 1685.7,1094.6 1691.3,1094.6 1696.9,1094.6 1702.4,1094.6 1708,1094.6 1713.6,1094.6 1719.1,1094.6 1724.7,1094.6 1730.3,1094.6 1735.9,1094.6 1741.4,1094.6 1747,1094.6 1752.6,1094.6 1758.1,1094.6 1763.7,1094.6 1769.3,1094.6 1774.8,1094.6 1780.4,1094.6 1786,1094.6 1791.5,1094.6 1797.1,1094.6 1802.7,1094.6 1808.3,1094.6 1813.8,1094.6 1819.4,1094.6 1825,1094.6 1830.5,1094.6 1836.1,1094.6 1841.7,1094.6 1847.2,1094.6 1852.8,1094.7 1858.4,1094.9 1864,1095 1869.5,1095.1 1875.1,1095.2 1880.7,1095.3 1886.2,1095.5 1891.8,1095.6 1897.4,1095.7 1903,1095.8 1908.5,1095.9 1914.1,1096 1919.7,1096.1 1925.2,1096.2 1930.8,1096.3 1936.4,1096.5 1941.9,1097.5 1947.5,1098.4 1953.1,1099.4 1958.7,1100.3 1964.2,1101.7 1969.8,1103.4 1975.4,1105.1 1980.9,1106.8 1986.5,1108.7 1992.1,1111.5 1997.6,1114.2 2003.2,1117 2008.8,1120.8 2014.4,1124.9 2019.9,1129.1 2025.5,1134.7 2031.1,1140.3 2036.6,1148 2042.2,1156.4" fill="none" stroke="#0000ff" stroke-width="2.2" stroke-linejoin="round" /><path d="M1206.7 1094.6h0M1212.3 1094.6h0M1217.8 1094.6h0M1223.4 1094.6h0M1229 1094.6h0M1234.6 1094.6h0M1240.1 1094.6h0M1245.7 1094.6h0M1251.3 1094.6h0M1256.8 1094.6h0M1262.4 1094.6h0M1268 1094.6h0M1273.5 1094.6h0M1279.1 1094.6h0M1284.7 1094.6h0M1290.2 1094.6h0M1295.8 1094.6h0M1301.4 1094.6h0M1307 1094.6h0M1312.5 1094.6h0M1318.1 1094.6h0M1323.7 1094.6h0M1329.2 1094.6h0M1334.8 1094.6h0M1340.4 1094.6h0M1346 1094.6h0M1351.5 1094.6h0M1357.1 1094.6h0M1362.7 1094.6h0M1368.2 1094.6h0M1373.8 1094.6h0M1379.4 1094.6h0M1384.9 1094.6h0M1390.5 1094.6h0M1396.1 1094.6h0M1401.7 1094.6h0M1407.2 1094.6h0M1412.8 1094.6h0M1418.4 1094.6h0M1423.9 1094.6h0M1429.5 1094.6h0M1435.1 1094.6h0M1440.6 1094.6h0M1446.2 1094.6h0M1451.8 1094.6h0M1457.3 1094.6h0M1462.9 1094.6h0M1468.5 1094.6h0M1474.1 1094.6h0M1479.6 1094.6h0M1485.2 1094.6h0M1490.8 1094.6h0M1496.3 1094.6h0M1501.9 1094.6h0M1507.5 1094.6h0M1513 1094.6h0M1518.6 1094.6h0M1524.2 1094.6h0M1529.8 1094.6h0M1535.3 1094.6h0M1540.9 1094.6h0M1546.5 1094.6h0M1552 1094.6h0M1557.6 1094.6h0M1563.2 1094.6h0M1568.8 1094.6h0M1574.3 1094.6h0M1579.9 1094.6h0M1585.5 1094.6h0M1591 1094.6h0M1596.6 1094.6h0M1602.2 1094.6h0M1607.7 1094.6h0M1613.3 1094.6h0M1618.9 1094.6h0M1624.5 1094.6h0M1630 1094.6h0M1635.6 1094.6h0M1641.2 1094.6h0M1646.7 1094.6h0M1652.3 1094.6h0M1657.9 1094.6h0M1663.4 1094.6h0M1669 1094.6h0M1674.6 1094.6h0M1680.2 1094.6h0M1685.7 1094.6h0M1691.3 1094.6h0M1696.9 1094.6h0M1702.4 1094.6h0M1708 1094.6h0M1713.6 1094.6h0M1719.1 1094.6h0M1724.7 1094.6h0M1730.3 1094.6h0M1735.9 1094.6h0M1741.4 1094.6h0M1747 1094.6h0M1752.6 1094.6h0M1758.1 1094.6h0M1763.7 1094.6h0M1769.3 1094.6h0M1774.8 1094.6h0M1780.4 1094.6h0M1786 1094.6h0M1791.5 1094.6h0M1797.1 1094.6h0M1802.7 1094.6h0M1808.3 1094.6h0M1813.8 1094.6h0M1819.4 1094.6h0M1825 1094.6h0M1830.5 1094.6h0M1836.1 1094.6h0M1841.7 1094.6h0M1847.2 1094.6h0M1852.8 1094.7h0M1858.4 1094.9h0M1864 1095h0M1869.5 1095.1h0M1875.1 1095.2h0M1880.7 1095.3h0M1886.2 1095.5h0M1891.8 1095.6h0M1897.4 1095.7h0M1903 1095.8h0M1908.5 1095.9h0M1914.1 1096h0M1919.7 1096.1h0M1925.2 1096.2h0M1930.8 1096.3h0M1936.4 1096.5h0M1941.9 1097.5h0M1947.5 1098.4h0M1953.1 1099.4h0M1958.7 1100.3h0M1964.2 1101.7h0M1969.8 1103.4h0M1975.4 1105.1h0M1980.9 1106.8h0M1986.5 1108.7h0M1992.1 1111.5h0M1997.6 1114.2h0M2003.2 1117h0M2008.8 1120.8h0M2014.4 1124.9h0M2019.9 1129.1h0M2025.5 1134.7h0M2031.1 1140.3h0M2036.6 1148h0M2042.2 1156.4h0" stroke="#0000ff" stroke-width="13.6" stroke-linecap="round" fill="none"/>
<polyline points="1206.7,1094.2 1212.3,1094.2 1217.8,1094.2 1223.4,1094.2 1229,1094.2 1234.6,1094.2 1240.1,1094.2 1245.7,1094.2 1251.3,1094.2 1256.8,1094.2 1262.4,1094.2 1268,1094.3 1273.5,1094.3 1279.1,1094.3 1284.7,1094.3 1290.2,1094.3 1295.8,1094.3 1301.4,1094.3 1307,1094.3 1312.5,1094.3 1318.1,1094.3 1323.7,1094.3 1329.2,1094.3 1334.8,1094.3 1340.4,1094.3 1346,1094.3 1351.5,1094.3 1357.1,1094.3 1362.7,1094.3 1368.2,1094.3 1373.8,1094.3 1379.4,1094.4 1384.9,1094.4 1390.5,1094.4 1396.1,1094.4 1401.7,1094.4 1407.2,1094.4 1412.8,1094.4 1418.4,1094.4 1423.9,1094.4 1429.5,1094.4 1435.1,1094.4 1440.6,1094.4 1446.2,1094.4 1451.8,1094.4 1457.3,1094.4 1462.9,1094.4 1468.5,1094.4 1474.1,1094.4 1479.6,1094.4 1485.2,1094.4 1490.8,1094.4 1496.3,1094.5 1501.9,1094.5 1507.5,1094.5 1513,1094.5 1518.6,1094.5 1524.2,1094.5 1529.8,1094.5 1535.3,1094.5 1540.9,1094.5 1546.5,1094.5 1552,1094.5 1557.6,1094.5 1563.2,1094.5 1568.8,1094.5 1574.3,1094.5 1579.9,1094.5 1585.5,1094.5 1591,1094.5 1596.6,1094.5 1602.2,1094.5 1607.7,1094.5 1613.3,1094.6 1618.9,1094.6 1624.5,1094.6 1630,1094.6 1635.6,1094.6 1641.2,1094.6 1646.7,1094.6 1652.3,1094.6 1657.9,1094.6 1663.4,1094.6 1669,1094.6 1674.6,1094.6 1680.2,1094.6 1685.7,1094.6 1691.3,1094.6 1696.9,1094.6 1702.4,1094.6 1708,1094.6 1713.6,1094.6 1719.1,1094.6 1724.7,1094.7 1730.3,1094.7 1735.9,1094.7 1741.4,1094.7 1747,1094.7 1752.6,1094.7 1758.1,1094.7 1763.7,1094.7 1769.3,1094.7 1774.8,1094.7 1780.4,1094.7 1786,1094.9 1791.5,1095.1 1797.1,1095.2 1802.7,1095.4 1808.3,1095.6 1813.8,1095.7 1819.4,1095.9 1825,1096 1830.5,1096.2 1836.1,1096.3 1841.7,1096.4 1847.2,1096.6 1852.8,1096.7 1858.4,1096.9 1864,1097.1 1869.5,1097.6 1875.1,1098.1 1880.7,1098.6 1886.2,1099.1 1891.8,1099.5 1897.4,1100 1903,1100.8 1908.5,1101.6 1914.1,1102.4 1919.7,1103.3 1925.2,1104.4 1930.8,1106 1936.4,1107.7 1941.9,1109.4 1947.5,1111.1 1953.1,1113.3 1958.7,1115.7 1964.2,1118.1 1969.8,1120.7 1975.4,1123.9 1980.9,1127.1 1986.5,1131 1992.1,1137.4 1997.6,1143.9 2003.2,1152.8 2008.8,1161.7 2014.4,1174.6 2019.9,1188.5 2025.5,1201.5 2031.1,1216.3 2036.6,1241 2042.2,1265.4" fill="none" stroke="#ff00ff" stroke-width="2.2" stroke-linejoin="round" /><path d="M1206.7 1094.2h0M1212.3 1094.2h0M1217.8 1094.2h0M1223.4 1094.2h0M1229 1094.2h0M1234.6 1094.2h0M1240.1 1094.2h0M1245.7 1094.2h0M1251.3 1094.2h0M1256.8 1094.2h0M1262.4 1094.2h0M1268 1094.3h0M1273.5 1094.3h0M1279.1 1094.3h0M1284.7 1094.3h0M1290.2 1094.3h0M1295.8 1094.3h0M1301.4 1094.3h0M1307 1094.3h0M1312.5 1094.3h0M1318.1 1094.3h0M1323.7 1094.3h0M1329.2 1094.3h0M1334.8 1094.3h0M1340.4 1094.3h0M1346 1094.3h0M1351.5 1094.3h0M1357.1 1094.3h0M1362.7 1094.3h0M1368.2 1094.3h0M1373.8 1094.3h0M1379.4 1094.4h0M1384.9 1094.4h0M1390.5 1094.4h0M1396.1 1094.4h0M1401.7 1094.4h0M1407.2 1094.4h0M1412.8 1094.4h0M1418.4 1094.4h0M1423.9 1094.4h0M1429.5 1094.4h0M1435.1 1094.4h0M1440.6 1094.4h0M1446.2 1094.4h0M1451.8 1094.4h0M1457.3 1094.4h0M1462.9 1094.4h0M1468.5 1094.4h0M1474.1 1094.4h0M1479.6 1094.4h0M1485.2 1094.4h0M1490.8 1094.4h0M1496.3 1094.5h0M1501.9 1094.5h0M1507.5 1094.5h0M1513 1094.5h0M1518.6 1094.5h0M1524.2 1094.5h0M1529.8 1094.5h0M1535.3 1094.5h0M1540.9 1094.5h0M1546.5 1094.5h0M1552 1094.5h0M1557.6 1094.5h0M1563.2 1094.5h0M1568.8 1094.5h0M1574.3 1094.5h0M1579.9 1094.5h0M1585.5 1094.5h0M1591 1094.5h0M1596.6 1094.5h0M1602.2 1094.5h0M1607.7 1094.5h0M1613.3 1094.6h0M1618.9 1094.6h0M1624.5 1094.6h0M1630 1094.6h0M1635.6 1094.6h0M1641.2 1094.6h0M1646.7 1094.6h0M1652.3 1094.6h0M1657.9 1094.6h0M1663.4 1094.6h0M1669 1094.6h0M1674.6 1094.6h0M1680.2 1094.6h0M1685.7 1094.6h0M1691.3 1094.6h0M1696.9 1094.6h0M1702.4 1094.6h0M1708 1094.6h0M1713.6 1094.6h0M1719.1 1094.6h0M1724.7 1094.7h0M1730.3 1094.7h0M1735.9 1094.7h0M1741.4 1094.7h0M1747 1094.7h0M1752.6 1094.7h0M1758.1 1094.7h0M1763.7 1094.7h0M1769.3 1094.7h0M1774.8 1094.7h0M1780.4 1094.7h0M1786 1094.9h0M1791.5 1095.1h0M1797.1 1095.2h0M1802.7 1095.4h0M1808.3 1095.6h0M1813.8 1095.7h0M1819.4 1095.9h0M1825 1096h0M1830.5 1096.2h0M1836.1 1096.3h0M1841.7 1096.4h0M1847.2 1096.6h0M1852.8 1096.7h0M1858.4 1096.9h0M1864 1097.1h0M1869.5 1097.6h0M1875.1 1098.1h0M1880.7 1098.6h0M1886.2 1099.1h0M1891.8 1099.5h0M1897.4 1100h0M1903 1100.8h0M1908.5 1101.6h0M1914.1 1102.4h0M1919.7 1103.3h0M1925.2 1104.4h0M1930.8 1106h0M1936.4 1107.7h0M1941.9 1109.4h0M1947.5 1111.1h0M1953.1 1113.3h0M1958.7 1115.7h0M1964.2 1118.1h0M1969.8 1120.7h0M1975.4 1123.9h0M1980.9 1127.1h0M1986.5 1131h0M1992.1 1137.4h0M1997.6 1143.9h0M2003.2 1152.8h0M2008.8 1161.7h0M2014.4 1174.6h0M2019.9 1188.5h0M2025.5 1201.5h0M2031.1 1216.3h0M2036.6 1241h0M2042.2 1265.4h0" stroke="#ff00ff" stroke-width="12.6" stroke-linecap="round" fill="none"/>
<polyline points="1206.7,1095.2 1212.3,1095.2 1217.8,1095.3 1223.4,1095.3 1229,1095.4 1234.6,1095.4 1240.1,1095.5 1245.7,1095.5 1251.3,1095.6 1256.8,1095.6 1262.4,1095.6 1268,1095.7 1273.5,1095.7 1279.1,1095.8 1284.7,1095.8 1290.2,1095.9 1295.8,1095.9 1301.4,1095.9 1307,1096 1312.5,1096 1318.1,1096.1 1323.7,1096.1 1329.2,1096.2 1334.8,1096.2 1340.4,1096.2 1346,1096.3 1351.5,1096.3 1357.1,1096.4 1362.7,1096.4 1368.2,1096.5 1373.8,1096.5 1379.4,1096.6 1384.9,1096.6 1390.5,1096.6 1396.1,1096.7 1401.7,1096.7 1407.2,1096.8 1412.8,1096.8 1418.4,1096.9 1423.9,1096.9 1429.5,1096.9 1435.1,1097 1440.6,1097 1446.2,1097.1 1451.8,1097.1 1457.3,1097.2 1462.9,1097.2 1468.5,1097.3 1474.1,1097.3 1479.6,1097.3 1485.2,1097.4 1490.8,1097.4 1496.3,1097.5 1501.9,1097.5 1507.5,1097.6 1513,1097.6 1518.6,1097.6 1524.2,1097.7 1529.8,1097.7 1535.3,1097.8 1540.9,1097.8 1546.5,1097.9 1552,1097.9 1557.6,1097.9 1563.2,1098 1568.8,1098 1574.3,1098.1 1579.9,1098.1 1585.5,1098.2 1591,1098.3 1596.6,1098.5 1602.2,1098.8 1607.7,1099.1 1613.3,1099.3 1618.9,1099.4 1624.5,1099.5 1630,1099.5 1635.6,1099.6 1641.2,1099.6 1646.7,1099.7 1652.3,1099.7 1657.9,1099.7 1663.4,1099.8 1669,1099.8 1674.6,1099.9 1680.2,1099.9 1685.7,1100.1 1691.3,1100.3 1696.9,1100.4 1702.4,1100.6 1708,1100.8 1713.6,1100.9 1719.1,1101.1 1724.7,1101.2 1730.3,1101.4 1735.9,1101.6 1741.4,1101.7 1747,1101.9 1752.6,1102.1 1758.1,1102.2 1763.7,1102.4 1769.3,1102.8 1774.8,1103.2 1780.4,1103.5 1786,1103.9 1791.5,1104.3 1797.1,1104.7 1802.7,1104.9 1808.3,1105.1 1813.8,1105.2 1819.4,1105.4 1825,1105.5 1830.5,1105.7 1836.1,1105.8 1841.7,1106.1 1847.2,1106.4 1852.8,1106.8 1858.4,1107.1 1864,1107.8 1869.5,1108.9 1875.1,1110 1880.7,1111.1 1886.2,1112.2 1891.8,1114.4 1897.4,1116.6 1903,1118.9 1908.5,1121.1 1914.1,1124.5 1919.7,1128.9 1925.2,1133.7 1930.8,1139.3 1936.4,1145.1 1941.9,1153.5 1947.5,1163.1 1953.1,1175.6 1958.7,1188.7 1964.2,1206.1 1969.8,1227.4 1975.4,1246.3 1980.9,1266.4 1986.5,1283.3 1992.1,1323.2 1997.6,1362.7 2003.2,1401.7 2008.8,1458.3 2014.4,1513.6 2019.9,1559.6 2025.5,1623.1 2031.1,1693.1 2036.6,1787.4 2042.2,1883.2" fill="none" stroke="#008000" stroke-width="2.2" stroke-linejoin="round" /><path d="M1206.7 1095.2h0M1212.3 1095.2h0M1217.8 1095.3h0M1223.4 1095.3h0M1229 1095.4h0M1234.6 1095.4h0M1240.1 1095.5h0M1245.7 1095.5h0M1251.3 1095.6h0M1256.8 1095.6h0M1262.4 1095.6h0M1268 1095.7h0M1273.5 1095.7h0M1279.1 1095.8h0M1284.7 1095.8h0M1290.2 1095.9h0M1295.8 1095.9h0M1301.4 1095.9h0M1307 1096h0M1312.5 1096h0M1318.1 1096.1h0M1323.7 1096.1h0M1329.2 1096.2h0M1334.8 1096.2h0M1340.4 1096.2h0M1346 1096.3h0M1351.5 1096.3h0M1357.1 1096.4h0M1362.7 1096.4h0M1368.2 1096.5h0M1373.8 1096.5h0M1379.4 1096.6h0M1384.9 1096.6h0M1390.5 1096.6h0M1396.1 1096.7h0M1401.7 1096.7h0M1407.2 1096.8h0M1412.8 1096.8h0M1418.4 1096.9h0M1423.9 1096.9h0M1429.5 1096.9h0M1435.1 1097h0M1440.6 1097h0M1446.2 1097.1h0M1451.8 1097.1h0M1457.3 1097.2h0M1462.9 1097.2h0M1468.5 1097.3h0M1474.1 1097.3h0M1479.6 1097.3h0M1485.2 1097.4h0M1490.8 1097.4h0M1496.3 1097.5h0M1501.9 1097.5h0M1507.5 1097.6h0M1513 1097.6h0M1518.6 1097.6h0M1524.2 1097.7h0M1529.8 1097.7h0M1535.3 1097.8h0M1540.9 1097.8h0M1546.5 1097.9h0M1552 1097.9h0M1557.6 1097.9h0M1563.2 1098h0M1568.8 1098h0M1574.3 1098.1h0M1579.9 1098.1h0M1585.5 1098.2h0M1591 1098.3h0M1596.6 1098.5h0M1602.2 1098.8h0M1607.7 1099.1h0M1613.3 1099.3h0M1618.9 1099.4h0M1624.5 1099.5h0M1630 1099.5h0M1635.6 1099.6h0M1641.2 1099.6h0M1646.7 1099.7h0M1652.3 1099.7h0M1657.9 1099.7h0M1663.4 1099.8h0M1669 1099.8h0M1674.6 1099.9h0M1680.2 1099.9h0M1685.7 1100.1h0M1691.3 1100.3h0M1696.9 1100.4h0M1702.4 1100.6h0M1708 1100.8h0M1713.6 1100.9h0M1719.1 1101.1h0M1724.7 1101.2h0M1730.3 1101.4h0M1735.9 1101.6h0M1741.4 1101.7h0M1747 1101.9h0M1752.6 1102.1h0M1758.1 1102.2h0M1763.7 1102.4h0M1769.3 1102.8h0M1774.8 1103.2h0M1780.4 1103.5h0M1786 1103.9h0M1791.5 1104.3h0M1797.1 1104.7h0M1802.7 1104.9h0M1808.3 1105.1h0M1813.8 1105.2h0M1819.4 1105.4h0M1825 1105.5h0M1830.5 1105.7h0M1836.1 1105.8h0M1841.7 1106.1h0M1847.2 1106.4h0M1852.8 1106.8h0M1858.4 1107.1h0M1864 1107.8h0M1869.5 1108.9h0M1875.1 1110h0M1880.7 1111.1h0M1886.2 1112.2h0M1891.8 1114.4h0M1897.4 1116.6h0M1903 1118.9h0M1908.5 1121.1h0M1914.1 1124.5h0M1919.7 1128.9h0M1925.2 1133.7h0M1930.8 1139.3h0M1936.4 1145.1h0M1941.9 1153.5h0M1947.5 1163.1h0M1953.1 1175.6h0M1958.7 1188.7h0M1964.2 1206.1h0M1969.8 1227.4h0M1975.4 1246.3h0M1980.9 1266.4h0M1986.5 1283.3h0M1992.1 1323.2h0M1997.6 1362.7h0M2003.2 1401.7h0M2008.8 1458.3h0M2014.4 1513.6h0M2019.9 1559.6h0M2025.5 1623.1h0M2031.1 1693.1h0M2036.6 1787.4h0M2042.2 1883.2h0" stroke="#008000" stroke-width="12.6" stroke-linecap="round" fill="none"/>
<polyline points="1206.7,1094.2 1212.3,1094.2 1217.8,1094.2 1223.4,1094.2 1229,1094.2 1234.6,1094.2 1240.1,1094.2 1245.7,1094.3 1251.3,1094.3 1256.8,1094.3 1262.4,1094.3 1268,1094.3 1273.5,1094.3 1279.1,1094.3 1284.7,1094.3 1290.2,1094.3 1295.8,1094.3 1301.4,1094.3 1307,1094.3 1312.5,1094.3 1318.1,1094.3 1323.7,1094.4 1329.2,1094.4 1334.8,1094.4 1340.4,1094.4 1346,1094.4 1351.5,1094.4 1357.1,1094.4 1362.7,1094.4 1368.2,1094.4 1373.8,1094.4 1379.4,1094.4 1384.9,1094.4 1390.5,1094.4 1396.1,1094.4 1401.7,1094.5 1407.2,1094.5 1412.8,1094.5 1418.4,1094.5 1423.9,1094.5 1429.5,1094.5 1435.1,1094.5 1440.6,1094.5 1446.2,1094.5 1451.8,1094.5 1457.3,1094.5 1462.9,1094.5 1468.5,1094.5 1474.1,1094.5 1479.6,1094.6 1485.2,1094.6 1490.8,1094.6 1496.3,1094.6 1501.9,1094.6 1507.5,1094.6 1513,1094.6 1518.6,1094.6 1524.2,1094.6 1529.8,1094.6 1535.3,1094.6 1540.9,1094.6 1546.5,1094.6 1552,1094.7 1557.6,1094.7 1563.2,1094.7 1568.8,1094.7 1574.3,1094.7 1579.9,1094.7 1585.5,1094.7 1591,1095 1596.6,1095 1602.2,1095.1 1607.7,1095.1 1613.3,1095.1 1618.9,1095.2 1624.5,1095.2 1630,1095.3 1635.6,1095.3 1641.2,1095.4 1646.7,1095.4 1652.3,1095.5 1657.9,1095.5 1663.4,1095.5 1669,1095.6 1674.6,1095.6 1680.2,1095.7 1685.7,1095.7 1691.3,1095.8 1696.9,1095.8 1702.4,1095.9 1708,1095.9 1713.6,1096 1719.1,1096.1 1724.7,1096.3 1730.3,1096.5 1735.9,1096.7 1741.4,1096.9 1747,1097.1 1752.6,1097.3 1758.1,1097.4 1763.7,1097.6 1769.3,1097.8 1774.8,1098 1780.4,1098.2 1786,1098.4 1791.5,1099 1797.1,1099.9 1802.7,1100.8 1808.3,1101.7 1813.8,1103 1819.4,1105.2 1825,1107.5 1830.5,1110.4 1836.1,1113.3 1841.7,1117.2 1847.2,1121.3 1852.8,1125.6 1858.4,1130.1 1864,1135.6 1869.5,1142.9 1875.1,1150.4 1880.7,1159.3 1886.2,1168.2 1891.8,1176.2 1897.4,1198.9 1903,1208.8 1908.5,1223.1 1914.1,1239.4 1919.7,1261.2 1925.2,1291.6 1930.8,1314.5 1936.4,1339.7 1941.9,1375.2 1947.5,1418.9 1953.1,1460.7 1958.7,1511 1964.2,1554.3 1969.8,1630.7 1975.4,1704 1980.9,1769.1 1986.5,1845.2 1992.1,1934.1" fill="none" stroke="#ff8000" stroke-width="2.2" stroke-linejoin="round" /><path d="M1206.7 1094.2h0M1212.3 1094.2h0M1217.8 1094.2h0M1223.4 1094.2h0M1229 1094.2h0M1234.6 1094.2h0M1240.1 1094.2h0M1245.7 1094.3h0M1251.3 1094.3h0M1256.8 1094.3h0M1262.4 1094.3h0M1268 1094.3h0M1273.5 1094.3h0M1279.1 1094.3h0M1284.7 1094.3h0M1290.2 1094.3h0M1295.8 1094.3h0M1301.4 1094.3h0M1307 1094.3h0M1312.5 1094.3h0M1318.1 1094.3h0M1323.7 1094.4h0M1329.2 1094.4h0M1334.8 1094.4h0M1340.4 1094.4h0M1346 1094.4h0M1351.5 1094.4h0M1357.1 1094.4h0M1362.7 1094.4h0M1368.2 1094.4h0M1373.8 1094.4h0M1379.4 1094.4h0M1384.9 1094.4h0M1390.5 1094.4h0M1396.1 1094.4h0M1401.7 1094.5h0M1407.2 1094.5h0M1412.8 1094.5h0M1418.4 1094.5h0M1423.9 1094.5h0M1429.5 1094.5h0M1435.1 1094.5h0M1440.6 1094.5h0M1446.2 1094.5h0M1451.8 1094.5h0M1457.3 1094.5h0M1462.9 1094.5h0M1468.5 1094.5h0M1474.1 1094.5h0M1479.6 1094.6h0M1485.2 1094.6h0M1490.8 1094.6h0M1496.3 1094.6h0M1501.9 1094.6h0M1507.5 1094.6h0M1513 1094.6h0M1518.6 1094.6h0M1524.2 1094.6h0M1529.8 1094.6h0M1535.3 1094.6h0M1540.9 1094.6h0M1546.5 1094.6h0M1552 1094.7h0M1557.6 1094.7h0M1563.2 1094.7h0M1568.8 1094.7h0M1574.3 1094.7h0M1579.9 1094.7h0M1585.5 1094.7h0M1591 1095h0M1596.6 1095h0M1602.2 1095.1h0M1607.7 1095.1h0M1613.3 1095.1h0M1618.9 1095.2h0M1624.5 1095.2h0M1630 1095.3h0M1635.6 1095.3h0M1641.2 1095.4h0M1646.7 1095.4h0M1652.3 1095.5h0M1657.9 1095.5h0M1663.4 1095.5h0M1669 1095.6h0M1674.6 1095.6h0M1680.2 1095.7h0M1685.7 1095.7h0M1691.3 1095.8h0M1696.9 1095.8h0M1702.4 1095.9h0M1708 1095.9h0M1713.6 1096h0M1719.1 1096.1h0M1724.7 1096.3h0M1730.3 1096.5h0M1735.9 1096.7h0M1741.4 1096.9h0M1747 1097.1h0M1752.6 1097.3h0M1758.1 1097.4h0M1763.7 1097.6h0M1769.3 1097.8h0M1774.8 1098h0M1780.4 1098.2h0M1786 1098.4h0M1791.5 1099h0M1797.1 1099.9h0M1802.7 1100.8h0M1808.3 1101.7h0M1813.8 1103h0M1819.4 1105.2h0M1825 1107.5h0M1830.5 1110.4h0M1836.1 1113.3h0M1841.7 1117.2h0M1847.2 1121.3h0M1852.8 1125.6h0M1858.4 1130.1h0M1864 1135.6h0M1869.5 1142.9h0M1875.1 1150.4h0M1880.7 1159.3h0M1886.2 1168.2h0M1891.8 1176.2h0M1897.4 1198.9h0M1903 1208.8h0M1908.5 1223.1h0M1914.1 1239.4h0M1919.7 1261.2h0M1925.2 1291.6h0M1930.8 1314.5h0M1936.4 1339.7h0M1941.9 1375.2h0M1947.5 1418.9h0M1953.1 1460.7h0M1958.7 1511h0M1964.2 1554.3h0M1969.8 1630.7h0M1975.4 1704h0M1980.9 1769.1h0M1986.5 1845.2h0M1992.1 1934.1h0" stroke="#ff8000" stroke-width="13.6" stroke-linecap="round" fill="none"/>
</g>
<text x="1197" y="1108" font-size="55" font-weight="bold" text-anchor="end" fill="#000" >0</text>
<text x="1201.5" y="1276.6" font-size="56" font-weight="bold" text-anchor="end" fill="#000" letter-spacing="2.2">-100</text>
<text x="1201.5" y="1445.9" font-size="56" font-weight="bold" text-anchor="end" fill="#000" letter-spacing="2.2">-200</text>
<text x="1201.5" y="1615.2" font-size="56" font-weight="bold" text-anchor="end" fill="#000" letter-spacing="2.2">-300</text>
<text x="1201.5" y="1784.5" font-size="56" font-weight="bold" text-anchor="end" fill="#000" letter-spacing="2.2">-400</text>
<text x="1205.7" y="1937" font-size="58" font-weight="bold" text-anchor="middle" fill="#000" >-10</text>
<text x="1487.2" y="1937" font-size="58" font-weight="bold" text-anchor="middle" fill="#000" >-5</text>
<text x="1763.7" y="1937" font-size="58" font-weight="bold" text-anchor="middle" fill="#000" >0</text>
<text x="2042.2" y="1937" font-size="58" font-weight="bold" text-anchor="middle" fill="#000" >5</text>
<text x="1529" y="2000.5" font-size="57" font-weight="bold">V<tspan font-size="40" dy="11" dx="1">GS</tspan><tspan dy="-11" dx="21">(V)</tspan></text>
<text transform="translate(1063,1655) rotate(-90)" font-size="58" font-weight="bold">Current (nA)</text>
<path d="M1251 1159.9h91.5" stroke="#000000" stroke-width="2.3"/>
<circle cx="1294.1" cy="1159.9" r="5.4" fill="#000000"/>
<text x="1342" y="1176.4" font-size="45" font-weight="bold">V<tspan font-size="28" dy="8.6" dx="0.5">DS</tspan><tspan dy="-8.6" dx="3">=-0.1V</tspan></text>
<path d="M1251 1205.1h91.5" stroke="#0000ff" stroke-width="2.3"/>
<circle cx="1294.1" cy="1205.1" r="7.4" fill="#0000ff"/>
<text x="1342" y="1221.6" font-size="45" font-weight="bold">V<tspan font-size="28" dy="8.6" dx="0.5">DS</tspan><tspan dy="-8.6" dx="3">=-0.5V</tspan></text>
<path d="M1251 1249.6h91.5" stroke="#ff00ff" stroke-width="2.3"/>
<circle cx="1294.1" cy="1249.6" r="6.3" fill="#ff00ff"/>
<text x="1342" y="1266.1" font-size="45" font-weight="bold">V<tspan font-size="28" dy="8.6" dx="0.5">DS</tspan><tspan dy="-8.6" dx="3">=-1V</tspan></text>
<path d="M1251 1297h91.5" stroke="#008000" stroke-width="2.3"/>
<circle cx="1294.1" cy="1297" r="6.3" fill="#008000"/>
<text x="1342" y="1313.5" font-size="45" font-weight="bold">V<tspan font-size="28" dy="8.6" dx="0.5">DS</tspan><tspan dy="-8.6" dx="3">=-2V</tspan></text>
<path d="M1251 1341h91.5" stroke="#ff8000" stroke-width="2.3"/>
<circle cx="1294.1" cy="1341" r="7.4" fill="#ff8000"/>
<text x="1342" y="1357.5" font-size="45" font-weight="bold">V<tspan font-size="28" dy="8.6" dx="0.5">DS</tspan><tspan dy="-8.6" dx="3">=-3V</tspan></text>
<text x="1017" y="1120.4" font-size="78" font-weight="bold" text-anchor="start" fill="#000" >(d)</text>
</g>
</svg>
</body></html>
